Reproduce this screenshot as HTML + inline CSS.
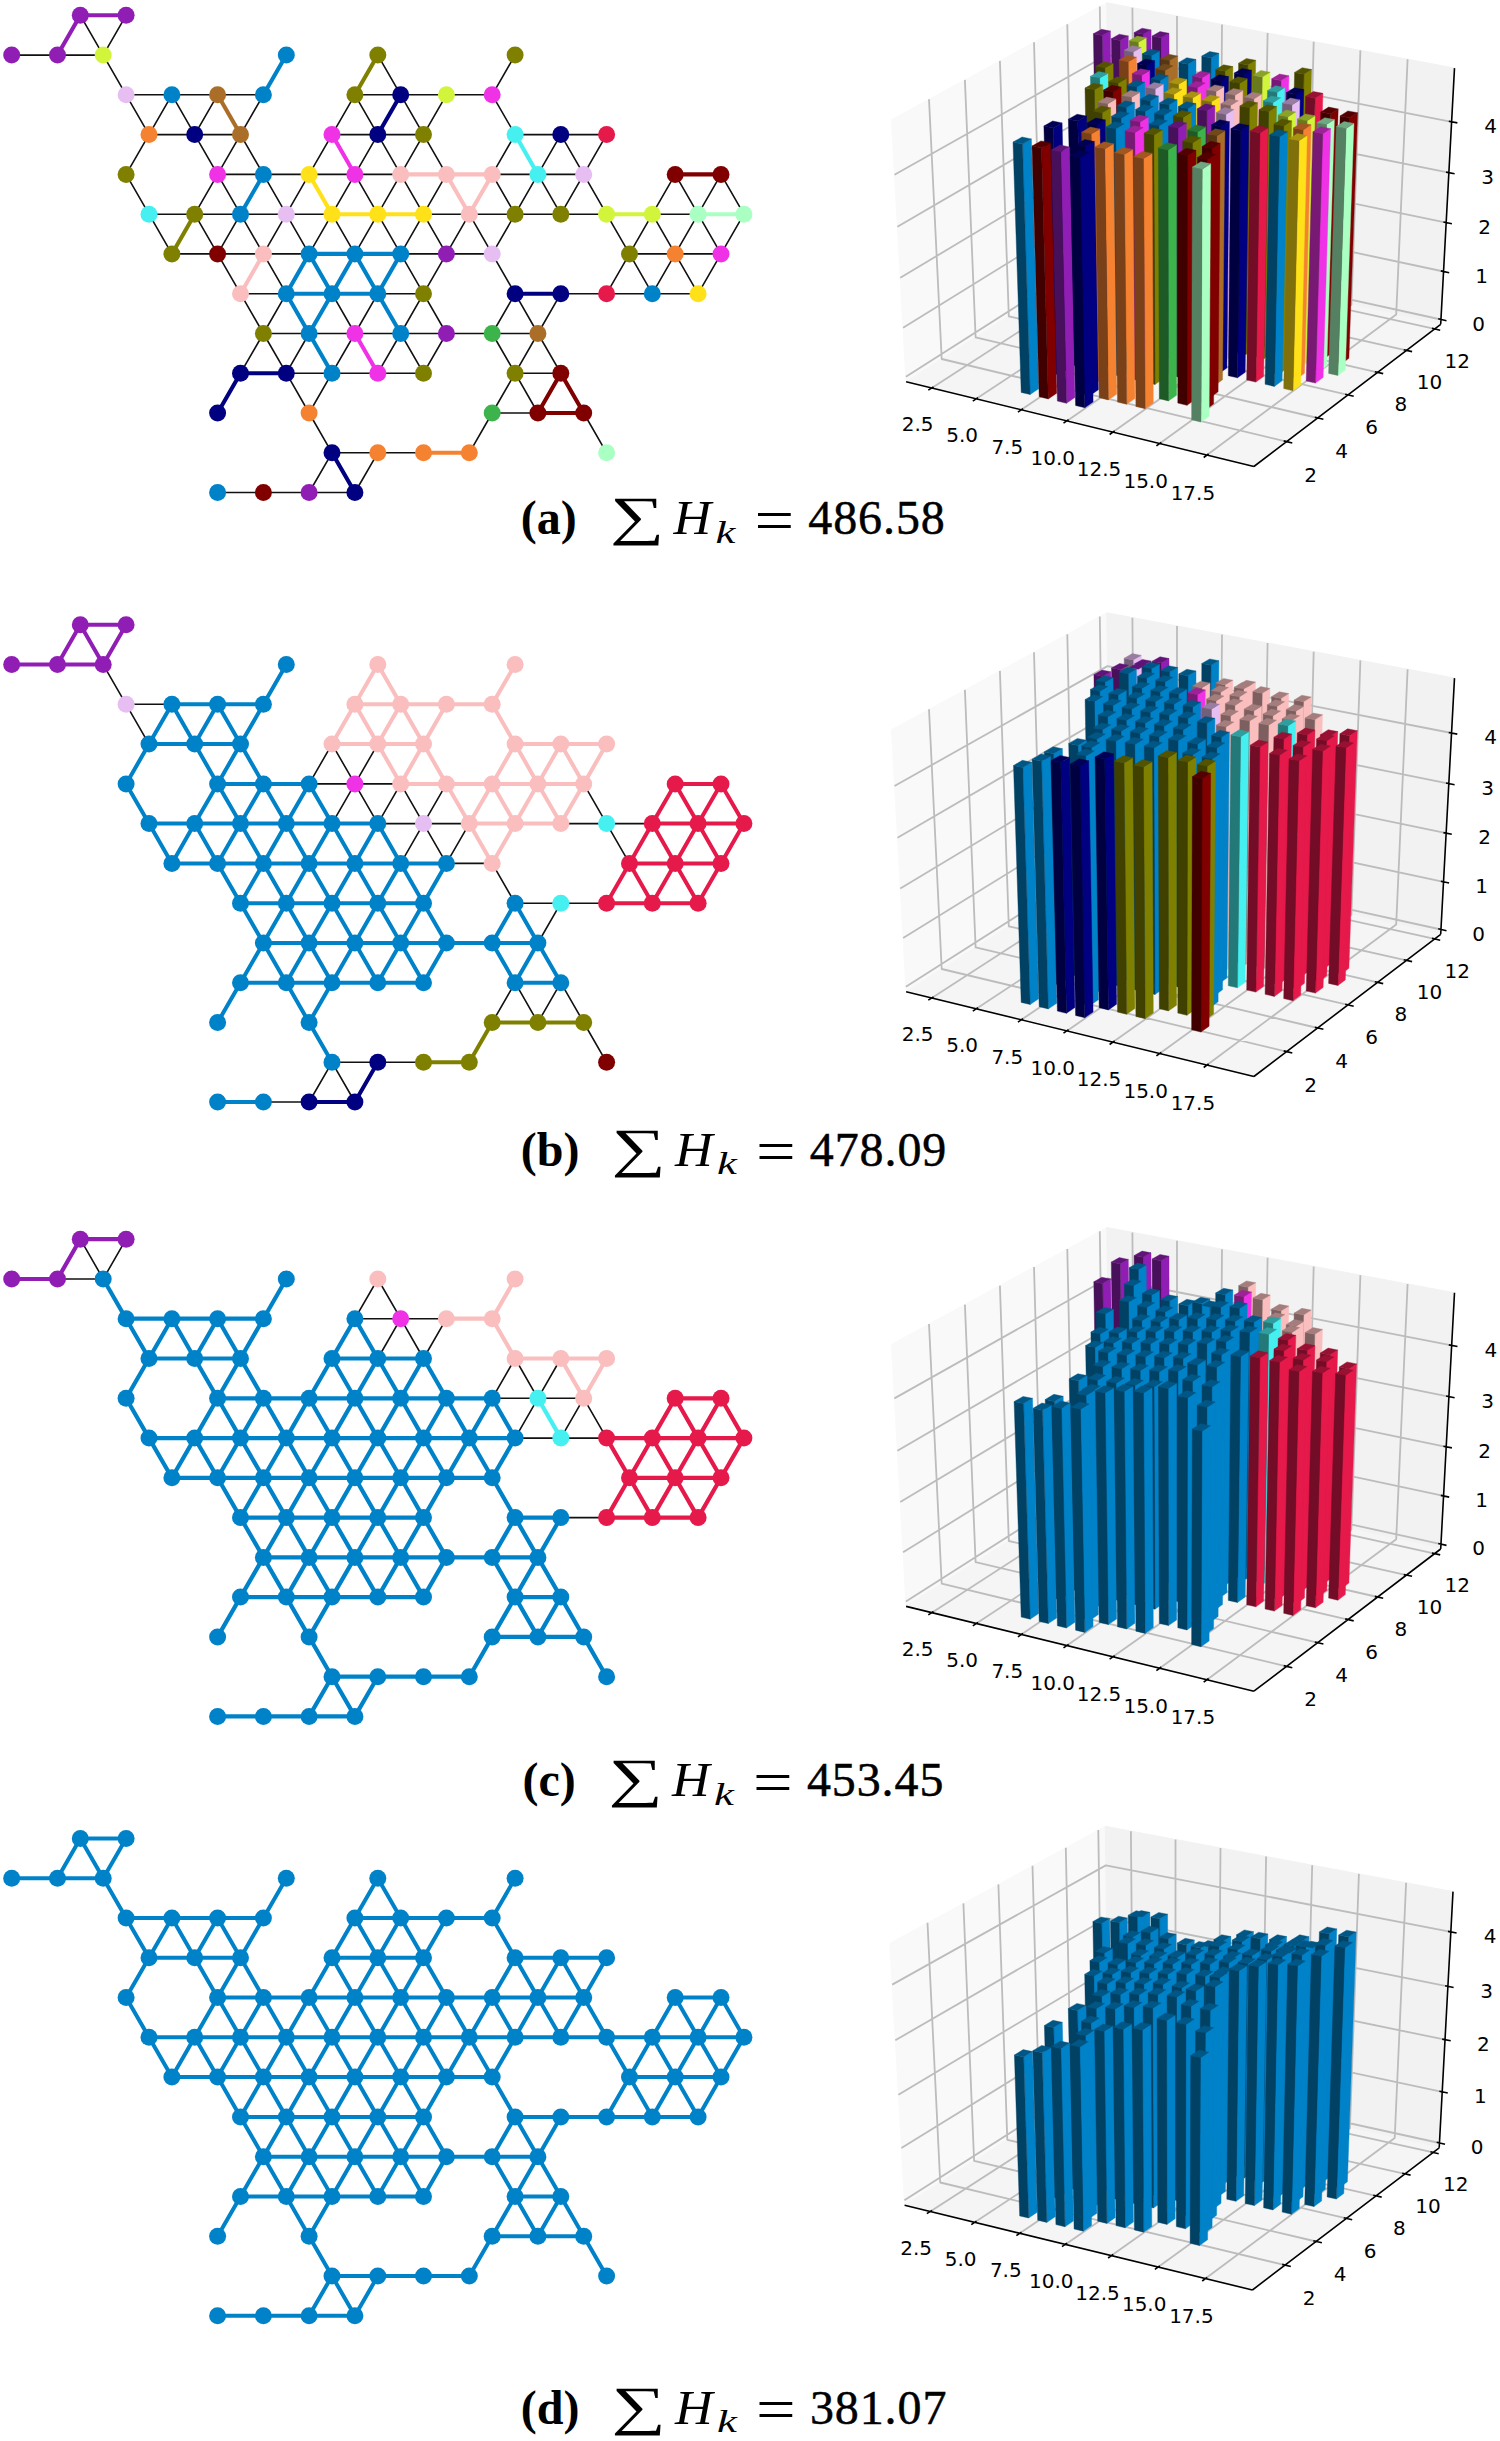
<!DOCTYPE html>
    <html><head><meta charset="utf-8"><title>Figure</title>
    <style>html,body{margin:0;padding:0;background:#fff}svg{display:block}</style></head>
    <body>
    <svg width="1500" height="2441" viewBox="0 0 1500 2441">
    <rect width="1500" height="2441" fill="#fff"/>
    <g id="lat0"><path d="M80.3 15.3L103.2 55.1M126.1 15.3L103.2 55.1M11.7 55.1L57.5 55.1M57.5 55.1L103.2 55.1M103.2 55.1L126.1 94.8M377.8 55.1L400.7 94.8M515.1 55.1L492.2 94.8M126.1 94.8L171.9 94.8M126.1 94.8L149 134.6M171.9 94.8L217.6 94.8M171.9 94.8L149 134.6M171.9 94.8L194.7 134.6M217.6 94.8L263.4 94.8M217.6 94.8L194.7 134.6M263.4 94.8L240.5 134.6M354.9 94.8L400.7 94.8M354.9 94.8L332 134.6M354.9 94.8L377.8 134.6M400.7 94.8L446.4 94.8M400.7 94.8L423.5 134.6M446.4 94.8L492.2 94.8M446.4 94.8L423.5 134.6M492.2 94.8L515.1 134.6M149 134.6L194.7 134.6M149 134.6L126.1 174.4M194.7 134.6L240.5 134.6M194.7 134.6L217.6 174.4M240.5 134.6L217.6 174.4M240.5 134.6L263.4 174.4M332 134.6L377.8 134.6M332 134.6L309.1 174.4M377.8 134.6L423.5 134.6M377.8 134.6L354.9 174.4M377.8 134.6L400.7 174.4M423.5 134.6L400.7 174.4M423.5 134.6L446.4 174.4M515.1 134.6L560.8 134.6M515.1 134.6L492.2 174.4M560.8 134.6L606.6 134.6M560.8 134.6L537.9 174.4M560.8 134.6L583.7 174.4M606.6 134.6L583.7 174.4M126.1 174.4L149 214.2M217.6 174.4L263.4 174.4M217.6 174.4L194.7 214.2M217.6 174.4L240.5 214.2M263.4 174.4L309.1 174.4M263.4 174.4L286.3 214.2M309.1 174.4L354.9 174.4M309.1 174.4L286.3 214.2M354.9 174.4L400.7 174.4M354.9 174.4L332 214.2M354.9 174.4L377.8 214.2M400.7 174.4L377.8 214.2M400.7 174.4L423.5 214.2M446.4 174.4L423.5 214.2M492.2 174.4L537.9 174.4M492.2 174.4L515.1 214.2M537.9 174.4L583.7 174.4M537.9 174.4L515.1 214.2M537.9 174.4L560.8 214.2M583.7 174.4L560.8 214.2M583.7 174.4L606.6 214.2M675.2 174.4L652.3 214.2M675.2 174.4L698.1 214.2M721 174.4L698.1 214.2M721 174.4L743.9 214.2M149 214.2L194.7 214.2M149 214.2L171.9 253.9M194.7 214.2L240.5 214.2M194.7 214.2L217.6 253.9M240.5 214.2L286.3 214.2M240.5 214.2L217.6 253.9M240.5 214.2L263.4 253.9M286.3 214.2L332 214.2M286.3 214.2L263.4 253.9M286.3 214.2L309.1 253.9M332 214.2L309.1 253.9M332 214.2L354.9 253.9M377.8 214.2L354.9 253.9M377.8 214.2L400.7 253.9M423.5 214.2L469.3 214.2M423.5 214.2L400.7 253.9M423.5 214.2L446.4 253.9M469.3 214.2L515.1 214.2M469.3 214.2L446.4 253.9M469.3 214.2L492.2 253.9M515.1 214.2L560.8 214.2M515.1 214.2L492.2 253.9M560.8 214.2L606.6 214.2M606.6 214.2L629.5 253.9M652.3 214.2L698.1 214.2M652.3 214.2L629.5 253.9M652.3 214.2L675.2 253.9M698.1 214.2L675.2 253.9M698.1 214.2L721 253.9M743.9 214.2L721 253.9M171.9 253.9L217.6 253.9M217.6 253.9L263.4 253.9M217.6 253.9L240.5 293.7M263.4 253.9L309.1 253.9M263.4 253.9L286.3 293.7M400.7 253.9L446.4 253.9M400.7 253.9L423.5 293.7M446.4 253.9L492.2 253.9M446.4 253.9L423.5 293.7M492.2 253.9L515.1 293.7M629.5 253.9L675.2 253.9M629.5 253.9L606.6 293.7M629.5 253.9L652.3 293.7M675.2 253.9L721 253.9M675.2 253.9L652.3 293.7M675.2 253.9L698.1 293.7M721 253.9L698.1 293.7M240.5 293.7L286.3 293.7M240.5 293.7L263.4 333.5M286.3 293.7L263.4 333.5M332 293.7L354.9 333.5M377.8 293.7L423.5 293.7M377.8 293.7L354.9 333.5M423.5 293.7L400.7 333.5M423.5 293.7L446.4 333.5M515.1 293.7L492.2 333.5M515.1 293.7L537.9 333.5M560.8 293.7L606.6 293.7M560.8 293.7L537.9 333.5M606.6 293.7L652.3 293.7M652.3 293.7L698.1 293.7M263.4 333.5L309.1 333.5M263.4 333.5L240.5 373.2M263.4 333.5L286.3 373.2M309.1 333.5L354.9 333.5M309.1 333.5L286.3 373.2M354.9 333.5L400.7 333.5M354.9 333.5L332 373.2M400.7 333.5L446.4 333.5M400.7 333.5L377.8 373.2M400.7 333.5L423.5 373.2M446.4 333.5L492.2 333.5M446.4 333.5L423.5 373.2M492.2 333.5L537.9 333.5M492.2 333.5L515.1 373.2M537.9 333.5L515.1 373.2M537.9 333.5L560.8 373.2M286.3 373.2L332 373.2M286.3 373.2L309.1 413M332 373.2L377.8 373.2M332 373.2L309.1 413M377.8 373.2L423.5 373.2M515.1 373.2L560.8 373.2M515.1 373.2L492.2 413M515.1 373.2L537.9 413M309.1 413L332 452.8M492.2 413L537.9 413M492.2 413L469.3 452.8M583.7 413L606.6 452.8M332 452.8L377.8 452.8M332 452.8L309.1 492.5M377.8 452.8L423.5 452.8M377.8 452.8L354.9 492.5M217.6 492.5L263.4 492.5M263.4 492.5L309.1 492.5M309.1 492.5L354.9 492.5" stroke="#111" stroke-width="1.6" fill="none"/>
<path d="M80.3 15.3L126.1 15.3M80.3 15.3L57.5 55.1" stroke="#911eb4" stroke-width="4.1" fill="none"/>
<path d="M286.3 55.1L263.4 94.8M263.4 174.4L240.5 214.2M309.1 253.9L354.9 253.9M309.1 253.9L286.3 293.7M309.1 253.9L332 293.7M354.9 253.9L400.7 253.9M354.9 253.9L332 293.7M354.9 253.9L377.8 293.7M400.7 253.9L377.8 293.7M286.3 293.7L332 293.7M286.3 293.7L309.1 333.5M332 293.7L377.8 293.7M332 293.7L309.1 333.5M377.8 293.7L400.7 333.5M309.1 333.5L332 373.2" stroke="#0082c8" stroke-width="4.1" fill="none"/>
<path d="M377.8 55.1L354.9 94.8M194.7 214.2L171.9 253.9" stroke="#808000" stroke-width="4.1" fill="none"/>
<path d="M217.6 94.8L240.5 134.6" stroke="#aa6e28" stroke-width="4.1" fill="none"/>
<path d="M400.7 94.8L377.8 134.6M515.1 293.7L560.8 293.7M240.5 373.2L286.3 373.2M240.5 373.2L217.6 413M332 452.8L354.9 492.5" stroke="#000080" stroke-width="4.1" fill="none"/>
<path d="M332 134.6L354.9 174.4M354.9 333.5L377.8 373.2" stroke="#f032e6" stroke-width="4.1" fill="none"/>
<path d="M515.1 134.6L537.9 174.4" stroke="#46f0f0" stroke-width="4.1" fill="none"/>
<path d="M309.1 174.4L332 214.2M332 214.2L377.8 214.2M377.8 214.2L423.5 214.2" stroke="#ffe119" stroke-width="4.1" fill="none"/>
<path d="M400.7 174.4L446.4 174.4M446.4 174.4L492.2 174.4M446.4 174.4L469.3 214.2M492.2 174.4L469.3 214.2M263.4 253.9L240.5 293.7" stroke="#fabebe" stroke-width="4.1" fill="none"/>
<path d="M675.2 174.4L721 174.4M560.8 373.2L537.9 413M560.8 373.2L583.7 413M537.9 413L583.7 413" stroke="#800000" stroke-width="4.1" fill="none"/>
<path d="M606.6 214.2L652.3 214.2" stroke="#d2f53c" stroke-width="4.1" fill="none"/>
<path d="M698.1 214.2L743.9 214.2" stroke="#aaffc3" stroke-width="4.1" fill="none"/>
<path d="M423.5 452.8L469.3 452.8" stroke="#f58231" stroke-width="4.1" fill="none"/>
<g fill="#911eb4"><circle cx="80.3" cy="15.3" r="8.5"/><circle cx="126.1" cy="15.3" r="8.5"/><circle cx="11.7" cy="55.1" r="8.5"/><circle cx="57.5" cy="55.1" r="8.5"/><circle cx="446.4" cy="253.9" r="8.5"/><circle cx="446.4" cy="333.5" r="8.5"/><circle cx="309.1" cy="492.5" r="8.5"/></g>
<g fill="#d2f53c"><circle cx="103.2" cy="55.1" r="8.5"/><circle cx="446.4" cy="94.8" r="8.5"/><circle cx="606.6" cy="214.2" r="8.5"/><circle cx="652.3" cy="214.2" r="8.5"/></g>
<g fill="#0082c8"><circle cx="286.3" cy="55.1" r="8.5"/><circle cx="171.9" cy="94.8" r="8.5"/><circle cx="263.4" cy="94.8" r="8.5"/><circle cx="263.4" cy="174.4" r="8.5"/><circle cx="240.5" cy="214.2" r="8.5"/><circle cx="309.1" cy="253.9" r="8.5"/><circle cx="354.9" cy="253.9" r="8.5"/><circle cx="400.7" cy="253.9" r="8.5"/><circle cx="286.3" cy="293.7" r="8.5"/><circle cx="332" cy="293.7" r="8.5"/><circle cx="377.8" cy="293.7" r="8.5"/><circle cx="652.3" cy="293.7" r="8.5"/><circle cx="309.1" cy="333.5" r="8.5"/><circle cx="400.7" cy="333.5" r="8.5"/><circle cx="332" cy="373.2" r="8.5"/><circle cx="217.6" cy="492.5" r="8.5"/></g>
<g fill="#808000"><circle cx="377.8" cy="55.1" r="8.5"/><circle cx="515.1" cy="55.1" r="8.5"/><circle cx="354.9" cy="94.8" r="8.5"/><circle cx="423.5" cy="134.6" r="8.5"/><circle cx="126.1" cy="174.4" r="8.5"/><circle cx="194.7" cy="214.2" r="8.5"/><circle cx="515.1" cy="214.2" r="8.5"/><circle cx="560.8" cy="214.2" r="8.5"/><circle cx="171.9" cy="253.9" r="8.5"/><circle cx="629.5" cy="253.9" r="8.5"/><circle cx="423.5" cy="293.7" r="8.5"/><circle cx="263.4" cy="333.5" r="8.5"/><circle cx="423.5" cy="373.2" r="8.5"/><circle cx="515.1" cy="373.2" r="8.5"/></g>
<g fill="#e6bef2"><circle cx="126.1" cy="94.8" r="8.5"/><circle cx="583.7" cy="174.4" r="8.5"/><circle cx="286.3" cy="214.2" r="8.5"/><circle cx="492.2" cy="253.9" r="8.5"/></g>
<g fill="#aa6e28"><circle cx="217.6" cy="94.8" r="8.5"/><circle cx="240.5" cy="134.6" r="8.5"/><circle cx="537.9" cy="333.5" r="8.5"/></g>
<g fill="#000080"><circle cx="400.7" cy="94.8" r="8.5"/><circle cx="194.7" cy="134.6" r="8.5"/><circle cx="377.8" cy="134.6" r="8.5"/><circle cx="560.8" cy="134.6" r="8.5"/><circle cx="515.1" cy="293.7" r="8.5"/><circle cx="560.8" cy="293.7" r="8.5"/><circle cx="240.5" cy="373.2" r="8.5"/><circle cx="286.3" cy="373.2" r="8.5"/><circle cx="217.6" cy="413" r="8.5"/><circle cx="332" cy="452.8" r="8.5"/><circle cx="354.9" cy="492.5" r="8.5"/></g>
<g fill="#f032e6"><circle cx="492.2" cy="94.8" r="8.5"/><circle cx="332" cy="134.6" r="8.5"/><circle cx="217.6" cy="174.4" r="8.5"/><circle cx="354.9" cy="174.4" r="8.5"/><circle cx="721" cy="253.9" r="8.5"/><circle cx="354.9" cy="333.5" r="8.5"/><circle cx="377.8" cy="373.2" r="8.5"/></g>
<g fill="#f58231"><circle cx="149" cy="134.6" r="8.5"/><circle cx="675.2" cy="253.9" r="8.5"/><circle cx="309.1" cy="413" r="8.5"/><circle cx="377.8" cy="452.8" r="8.5"/><circle cx="423.5" cy="452.8" r="8.5"/><circle cx="469.3" cy="452.8" r="8.5"/></g>
<g fill="#46f0f0"><circle cx="515.1" cy="134.6" r="8.5"/><circle cx="537.9" cy="174.4" r="8.5"/><circle cx="149" cy="214.2" r="8.5"/></g>
<g fill="#e6194b"><circle cx="606.6" cy="134.6" r="8.5"/><circle cx="606.6" cy="293.7" r="8.5"/></g>
<g fill="#ffe119"><circle cx="309.1" cy="174.4" r="8.5"/><circle cx="332" cy="214.2" r="8.5"/><circle cx="377.8" cy="214.2" r="8.5"/><circle cx="423.5" cy="214.2" r="8.5"/><circle cx="698.1" cy="293.7" r="8.5"/></g>
<g fill="#fabebe"><circle cx="400.7" cy="174.4" r="8.5"/><circle cx="446.4" cy="174.4" r="8.5"/><circle cx="492.2" cy="174.4" r="8.5"/><circle cx="469.3" cy="214.2" r="8.5"/><circle cx="263.4" cy="253.9" r="8.5"/><circle cx="240.5" cy="293.7" r="8.5"/></g>
<g fill="#800000"><circle cx="675.2" cy="174.4" r="8.5"/><circle cx="721" cy="174.4" r="8.5"/><circle cx="217.6" cy="253.9" r="8.5"/><circle cx="560.8" cy="373.2" r="8.5"/><circle cx="537.9" cy="413" r="8.5"/><circle cx="583.7" cy="413" r="8.5"/><circle cx="263.4" cy="492.5" r="8.5"/></g>
<g fill="#aaffc3"><circle cx="698.1" cy="214.2" r="8.5"/><circle cx="743.9" cy="214.2" r="8.5"/><circle cx="606.6" cy="452.8" r="8.5"/></g>
<g fill="#3cb44b"><circle cx="492.2" cy="333.5" r="8.5"/><circle cx="492.2" cy="413" r="8.5"/></g></g>
<g id="ch0"><path d="M906.1 381.7L1110.2 251.6L1106.8 2.8L891.4 119.8Z" fill="#f9f9f9" stroke="#f9f9f9" stroke-width="1"/>
<path d="M1110.2 251.6L1440.7 324.3L1454.5 68.1L1106.8 2.8Z" fill="#f2f2f2" stroke="#f2f2f2" stroke-width="1"/>
<path d="M906.1 381.7L1253.9 466.5L1440.7 324.3L1110.2 251.6Z" fill="#f5f5f5" stroke="#f5f5f5" stroke-width="1"/>
<path d="M931.8 388L1134.6 256.9L1132.4 7.7M976.3 398.8L1177 266.3L1177 16M1021.3 409.8L1219.9 275.7L1222 24.5M1066.9 420.9L1263.2 285.3L1267.6 33M1113 432.1L1307.1 294.9L1313.7 41.7M1159.7 443.5L1351.4 304.7L1360.4 50.4M1207 455L1396.2 314.5L1407.6 59.3M1286.5 441.6L941.7 359L929 99.3M1317.7 418L975.6 337.4L964.9 79.9M1348 394.9L1008.8 316.3L999.9 60.9M1377.6 372.3L1041.1 295.6L1034 42.3M1406.5 350.4L1072.7 275.5L1067.3 24.3M1434.7 328.9L1103.5 255.8L1099.8 6.6M905.9 376.7L1110.1 246.8L1441 319.5M903.1 327.8L1109.5 200.2L1443.6 271.5M900.3 277.8L1108.8 152.7L1446.2 222.6M897.4 226.8L1108.2 104.2L1448.9 172.7M894.5 174.7L1107.5 54.8L1451.7 121.8" fill="none" stroke="#bcbcbc" stroke-width="1.8" stroke-linejoin="round"/>
<path d="M906.1 381.7L1253.9 466.5M1253.9 466.5L1440.7 324.3M1440.7 324.3L1454.5 68.1M928.3 390.2L933.5 386.8M972.8 401.1L978 397.7M1017.9 412.1L1023 408.6M1063.5 423.2L1068.6 419.7M1109.6 434.5L1114.7 430.9M1156.4 445.9L1161.3 442.3M1203.7 457.5L1208.6 453.8M1292.3 443L1283.7 440.9M1323.4 419.3L1314.8 417.3M1353.7 396.2L1345.2 394.2M1383.2 373.6L1374.8 371.7M1412.1 351.6L1403.7 349.8M1440.2 330.2L1431.9 328.3M1446.5 320.7L1438.2 318.8M1449.2 272.7L1440.8 270.9M1451.9 223.7L1443.4 222M1454.6 173.8L1446.1 172.1M1457.4 122.9L1448.8 121.2" fill="none" stroke="#000" stroke-width="1.6"/>
<path d="M1143.1 34.3L1151.1 29.9L1152.3 266.5L1144.7 271.5Z" fill="#911eb4" stroke="#911eb4" stroke-width=".4"/>
<path d="M1134.2 32.6L1143.1 34.3L1144.7 271.5L1136.2 269.6Z" fill="#480f5a" stroke="#480f5a" stroke-width=".4"/>
<path d="M1102.3 35.5L1110.4 31L1113.5 269.4L1105.8 274.4ZM1161.1 37.8L1169 33.3L1169.4 270.3L1161.8 275.3Z" fill="#911eb4" stroke="#911eb4" stroke-width=".4"/>
<path d="M1093.4 33.7L1102.3 35.5L1105.8 274.4L1097.3 272.5ZM1152.1 36.1L1161.1 37.8L1161.8 275.3L1153.2 273.4Z" fill="#480f5a" stroke="#480f5a" stroke-width=".4"/>
<path d="M1120.2 40.4L1128.3 35.9L1130.6 273.2L1122.9 278.2Z" fill="#911eb4" stroke="#911eb4" stroke-width=".4"/>
<path d="M1111.3 38.7L1120.2 40.4L1122.9 278.2L1114.3 276.3Z" fill="#480f5a" stroke="#480f5a" stroke-width=".4"/>
<path d="M1138.2 42.3L1146.2 37.8L1147.7 277L1140 282.1Z" fill="#d2f53c" stroke="#d2f53c" stroke-width=".4"/>
<path d="M1129.2 40.6L1138.2 42.3L1140 282.1L1131.5 280.1Z" fill="#697a1e" stroke="#697a1e" stroke-width=".4"/>
<path d="M1133.2 52L1141.3 47.4L1143 287.7L1135.3 292.8Z" fill="#e6bef2" stroke="#e6bef2" stroke-width=".4"/>
<path d="M1124.2 50.3L1133.2 52L1135.3 292.8L1126.7 290.8Z" fill="#735f79" stroke="#735f79" stroke-width=".4"/>
<path d="M1151.4 55.5L1159.5 50.9L1160.3 291.5L1152.7 296.7ZM1211 57.9L1218.9 53.3L1216.9 292.4L1209.4 297.5Z" fill="#0082c8" stroke="#0082c8" stroke-width=".4"/>
<path d="M1142.3 53.8L1151.4 55.5L1152.7 296.7L1144 294.7ZM1201.8 56.1L1211 57.9L1209.4 297.5L1200.7 295.6Z" fill="#004164" stroke="#004164" stroke-width=".4"/>
<path d="M1169.7 60.6L1177.7 56L1177.7 295.4L1170.1 300.6Z" fill="#aa6e28" stroke="#aa6e28" stroke-width=".4"/>
<path d="M1160.5 58.8L1169.7 60.6L1170.1 300.6L1161.3 298.6Z" fill="#553714" stroke="#553714" stroke-width=".4"/>
<path d="M1128.2 61.8L1136.4 57.2L1138.3 298.5L1130.6 303.6Z" fill="#f58231" stroke="#f58231" stroke-width=".4"/>
<path d="M1188 64.2L1196 59.5L1195.2 299.3L1187.6 304.5Z" fill="#0082c8" stroke="#0082c8" stroke-width=".4"/>
<path d="M1247.9 65L1255.7 60.3L1252 300.2L1244.6 305.4Z" fill="#808000" stroke="#808000" stroke-width=".4"/>
<path d="M1119.1 60L1128.2 61.8L1130.6 303.6L1121.9 301.6Z" fill="#7a4118" stroke="#7a4118" stroke-width=".4"/>
<path d="M1178.8 62.4L1188 64.2L1187.6 304.5L1178.8 302.5Z" fill="#004164" stroke="#004164" stroke-width=".4"/>
<path d="M1238.6 63.2L1247.9 65L1244.6 305.4L1235.8 303.4Z" fill="#404000" stroke="#404000" stroke-width=".4"/>
<path d="M1146.5 65.4L1154.6 60.7L1155.7 302.4L1148 307.5Z" fill="#000080" stroke="#000080" stroke-width=".4"/>
<path d="M1137.4 63.6L1146.5 65.4L1148 307.5L1139.3 305.6Z" fill="#000040" stroke="#000040" stroke-width=".4"/>
<path d="M1142.1 28.2L1151.1 29.9L1143.1 34.3L1134.2 32.6Z" fill="#601477" stroke="#601477" stroke-width=".4"/>
<path d="M1104.8 68.1L1113.1 63.4L1116.1 305.4L1108.3 310.6Z" fill="#808000" stroke="#808000" stroke-width=".4"/>
<path d="M1164.9 70.5L1173 65.8L1173.2 306.3L1165.5 311.5Z" fill="#aa6e28" stroke="#aa6e28" stroke-width=".4"/>
<path d="M1225 71.3L1232.9 66.6L1230.3 307.2L1222.8 312.4Z" fill="#808000" stroke="#808000" stroke-width=".4"/>
<path d="M1095.7 66.3L1104.8 68.1L1108.3 310.6L1099.6 308.6Z" fill="#404000" stroke="#404000" stroke-width=".4"/>
<path d="M1101.5 29.3L1110.4 31L1102.3 35.5L1093.4 33.7Z" fill="#601477" stroke="#601477" stroke-width=".4"/>
<path d="M1155.7 68.7L1164.9 70.5L1165.5 311.5L1156.7 309.5Z" fill="#553714" stroke="#553714" stroke-width=".4"/>
<path d="M1160 31.6L1169 33.3L1161.1 37.8L1152.1 36.1Z" fill="#601477" stroke="#601477" stroke-width=".4"/>
<path d="M1215.7 69.5L1225 71.3L1222.8 312.4L1213.9 310.4Z" fill="#404000" stroke="#404000" stroke-width=".4"/>
<path d="M1243.6 74.9L1251.5 70.2L1248 311.2L1240.5 316.4Z" fill="#000080" stroke="#000080" stroke-width=".4"/>
<path d="M1119.3 34.2L1128.3 35.9L1120.2 40.4L1111.3 38.7Z" fill="#601477" stroke="#601477" stroke-width=".4"/>
<path d="M1304 74.2L1311.6 69.5L1305.3 312.1L1298 317.3Z" fill="#808000" stroke="#808000" stroke-width=".4"/>
<path d="M1234.3 73.1L1243.6 74.9L1240.5 316.4L1231.6 314.4Z" fill="#000040" stroke="#000040" stroke-width=".4"/>
<path d="M1141.5 75.3L1149.7 70.6L1151 313.3L1143.3 318.6Z" fill="#f032e6" stroke="#f032e6" stroke-width=".4"/>
<path d="M1294.6 72.4L1304 74.2L1298 317.3L1289 315.3Z" fill="#404000" stroke="#404000" stroke-width=".4"/>
<path d="M1201.9 77.7L1209.9 73L1208.4 314.2L1200.7 319.5Z" fill="#f032e6" stroke="#f032e6" stroke-width=".4"/>
<path d="M1132.3 73.5L1141.5 75.3L1143.3 318.6L1134.5 316.6Z" fill="#781973" stroke="#781973" stroke-width=".4"/>
<path d="M1262.3 77L1270.1 72.2L1265.8 315.2L1258.3 320.4Z" fill="#d2f53c" stroke="#d2f53c" stroke-width=".4"/>
<path d="M1137.2 36.1L1146.2 37.8L1138.2 42.3L1129.2 40.6Z" fill="#8ba228" stroke="#8ba228" stroke-width=".4"/>
<path d="M1192.6 75.9L1201.9 77.7L1200.7 319.5L1191.9 317.5Z" fill="#781973" stroke="#781973" stroke-width=".4"/>
<path d="M1099.6 78.1L1107.9 73.4L1111.2 316.4L1103.3 321.7Z" fill="#46f0f0" stroke="#46f0f0" stroke-width=".4"/>
<path d="M1253 75.2L1262.3 77L1258.3 320.4L1249.4 318.4Z" fill="#697a1e" stroke="#697a1e" stroke-width=".4"/>
<path d="M1160 80.5L1168.2 75.8L1168.6 317.3L1160.9 322.6Z" fill="#0082c8" stroke="#0082c8" stroke-width=".4"/>
<path d="M1220.5 81.4L1228.5 76.6L1226.1 318.2L1218.5 323.5Z" fill="#000080" stroke="#000080" stroke-width=".4"/>
<path d="M1090.4 76.3L1099.6 78.1L1103.3 321.7L1094.5 319.7Z" fill="#237878" stroke="#237878" stroke-width=".4"/>
<path d="M1150.8 78.7L1160 80.5L1160.9 322.6L1152 320.6Z" fill="#004164" stroke="#004164" stroke-width=".4"/>
<path d="M1281.1 80.6L1288.9 75.8L1283.6 319.2L1276.2 324.4Z" fill="#f032e6" stroke="#f032e6" stroke-width=".4"/>
<path d="M1211.2 79.5L1220.5 81.4L1218.5 323.5L1209.6 321.5Z" fill="#000040" stroke="#000040" stroke-width=".4"/>
<path d="M1118 83.3L1126.3 78.6L1128.7 320.4L1120.8 325.7Z" fill="#808000" stroke="#808000" stroke-width=".4"/>
<path d="M1271.7 78.8L1281.1 80.6L1276.2 324.4L1267.2 322.4Z" fill="#781973" stroke="#781973" stroke-width=".4"/>
<path d="M1178.6 84.2L1186.7 79.4L1186.3 321.3L1178.5 326.6Z" fill="#ffe119" stroke="#ffe119" stroke-width=".4"/>
<path d="M1108.8 81.5L1118 83.3L1120.8 325.7L1112 323.7Z" fill="#404000" stroke="#404000" stroke-width=".4"/>
<path d="M1239.3 83.4L1247.2 78.7L1243.9 322.3L1236.3 327.5Z" fill="#808000" stroke="#808000" stroke-width=".4"/>
<path d="M1169.3 82.4L1178.6 84.2L1178.5 326.6L1169.7 324.6Z" fill="#80700c" stroke="#80700c" stroke-width=".4"/>
<path d="M1229.9 81.6L1239.3 83.4L1236.3 327.5L1227.4 325.5Z" fill="#404000" stroke="#404000" stroke-width=".4"/>
<path d="M1136.5 87L1144.8 82.2L1146.3 324.4L1138.5 329.7Z" fill="#0082c8" stroke="#0082c8" stroke-width=".4"/>
<path d="M1197.2 87.8L1205.3 83L1204 325.4L1196.3 330.7Z" fill="#f032e6" stroke="#f032e6" stroke-width=".4"/>
<path d="M1127.2 85.2L1136.5 87L1138.5 329.7L1129.6 327.7Z" fill="#004164" stroke="#004164" stroke-width=".4"/>
<path d="M1132.3 45.7L1141.3 47.4L1133.2 52L1124.2 50.3Z" fill="#987da0" stroke="#987da0" stroke-width=".4"/>
<path d="M1187.9 86L1197.2 87.8L1196.3 330.7L1187.4 328.6Z" fill="#781973" stroke="#781973" stroke-width=".4"/>
<path d="M1094.3 89.8L1102.7 85L1106.2 327.6L1098.2 332.9Z" fill="#808000" stroke="#808000" stroke-width=".4"/>
<path d="M1155.1 89.1L1163.3 84.3L1164 328.5L1156.2 333.8Z" fill="#e6bef2" stroke="#e6bef2" stroke-width=".4"/>
<path d="M1085 88L1094.3 89.8L1098.2 332.9L1089.4 330.9Z" fill="#404000" stroke="#404000" stroke-width=".4"/>
<path d="M1216 91.5L1224 86.7L1221.8 329.4L1214.2 334.7Z" fill="#fabebe" stroke="#fabebe" stroke-width=".4"/>
<path d="M1277 92.4L1284.8 87.5L1279.7 330.3L1272.2 335.7Z" fill="#46f0f0" stroke="#46f0f0" stroke-width=".4"/>
<path d="M1145.8 87.3L1155.1 89.1L1156.2 333.8L1147.3 331.8Z" fill="#735f79" stroke="#735f79" stroke-width=".4"/>
<path d="M1150.4 49.2L1159.5 50.9L1151.4 55.5L1142.3 53.8Z" fill="#005684" stroke="#005684" stroke-width=".4"/>
<path d="M1206.6 89.7L1216 91.5L1214.2 334.7L1205.2 332.7Z" fill="#7d5f5f" stroke="#7d5f5f" stroke-width=".4"/>
<path d="M1209.7 51.5L1218.9 53.3L1211 57.9L1201.8 56.1Z" fill="#005684" stroke="#005684" stroke-width=".4"/>
<path d="M1112.8 92L1121.1 87.1L1123.8 331.6L1115.9 337Z" fill="#800000" stroke="#800000" stroke-width=".4"/>
<path d="M1267.5 90.5L1277 92.4L1272.2 335.7L1263.2 333.6Z" fill="#237878" stroke="#237878" stroke-width=".4"/>
<path d="M1173.8 94.4L1182 89.5L1181.8 332.5L1174 337.9Z" fill="#ffe119" stroke="#ffe119" stroke-width=".4"/>
<path d="M1234.8 95.2L1242.8 90.4L1239.7 333.5L1232.1 338.8Z" fill="#fabebe" stroke="#fabebe" stroke-width=".4"/>
<path d="M1103.5 90.1L1112.8 92L1115.9 337L1107 334.9Z" fill="#400000" stroke="#400000" stroke-width=".4"/>
<path d="M1164.4 92.5L1173.8 94.4L1174 337.9L1165.1 335.9Z" fill="#80700c" stroke="#80700c" stroke-width=".4"/>
<path d="M1168.6 54.2L1177.7 56L1169.7 60.6L1160.5 58.8Z" fill="#70491a" stroke="#70491a" stroke-width=".4"/>
<path d="M1296 94.5L1303.8 89.6L1297.8 334.4L1290.3 339.8Z" fill="#000080" stroke="#000080" stroke-width=".4"/>
<path d="M1225.4 93.4L1234.8 95.2L1232.1 338.8L1223.1 336.8Z" fill="#7d5f5f" stroke="#7d5f5f" stroke-width=".4"/>
<path d="M1131.4 97.3L1139.7 92.4L1141.5 335.7L1133.6 341.1Z" fill="#fabebe" stroke="#fabebe" stroke-width=".4"/>
<path d="M1286.5 92.6L1296 94.5L1290.3 339.8L1281.3 337.7Z" fill="#000040" stroke="#000040" stroke-width=".4"/>
<path d="M1192.5 98.1L1200.7 93.2L1199.6 336.6L1191.8 342Z" fill="#ffe119" stroke="#ffe119" stroke-width=".4"/>
<path d="M1122.1 95.4L1131.4 97.3L1133.6 341.1L1124.7 339Z" fill="#7d5f5f" stroke="#7d5f5f" stroke-width=".4"/>
<path d="M1253.8 98.9L1261.7 94.1L1257.7 337.6L1250.1 342.9Z" fill="#fabebe" stroke="#fabebe" stroke-width=".4"/>
<path d="M1127.3 55.4L1136.4 57.2L1128.2 61.8L1119.1 60Z" fill="#a25620" stroke="#a25620" stroke-width=".4"/>
<path d="M1183.1 96.2L1192.5 98.1L1191.8 342L1182.9 339.9Z" fill="#80700c" stroke="#80700c" stroke-width=".4"/>
<path d="M1186.8 57.7L1196 59.5L1188 64.2L1178.8 62.4Z" fill="#005684" stroke="#005684" stroke-width=".4"/>
<path d="M1315.1 98.2L1322.9 93.3L1315.9 338.5L1308.5 343.9Z" fill="#e6194b" stroke="#e6194b" stroke-width=".4"/>
<path d="M1244.3 97.1L1253.8 98.9L1250.1 342.9L1241.1 340.9Z" fill="#7d5f5f" stroke="#7d5f5f" stroke-width=".4"/>
<path d="M1246.4 58.5L1255.7 60.3L1247.9 65L1238.6 63.2Z" fill="#545400" stroke="#545400" stroke-width=".4"/>
<path d="M1150.1 101L1158.4 96.1L1159.3 339.8L1151.4 345.2Z" fill="#0082c8" stroke="#0082c8" stroke-width=".4"/>
<path d="M1305.5 96.3L1315.1 98.2L1308.5 343.9L1299.4 341.8Z" fill="#730c26" stroke="#730c26" stroke-width=".4"/>
<path d="M1211.4 101.8L1219.5 96.9L1217.5 340.7L1209.8 346.1Z" fill="#ffe119" stroke="#ffe119" stroke-width=".4"/>
<path d="M1140.7 99.1L1150.1 101L1151.4 345.2L1142.5 343.1Z" fill="#004164" stroke="#004164" stroke-width=".4"/>
<path d="M1272.8 102.7L1280.7 97.8L1275.8 341.7L1268.2 347.1Z" fill="#46f0f0" stroke="#46f0f0" stroke-width=".4"/>
<path d="M1145.5 58.9L1154.6 60.7L1146.5 65.4L1137.4 63.6Z" fill="#000054" stroke="#000054" stroke-width=".4"/>
<path d="M1202 100L1211.4 101.8L1209.8 346.1L1200.8 344.1Z" fill="#80700c" stroke="#80700c" stroke-width=".4"/>
<path d="M1107.5 103.9L1115.9 99L1118.9 343L1110.9 348.4Z" fill="#fabebe" stroke="#fabebe" stroke-width=".4"/>
<path d="M1263.3 100.8L1272.8 102.7L1268.2 347.1L1259.2 345Z" fill="#237878" stroke="#237878" stroke-width=".4"/>
<path d="M1168.9 104.7L1177.1 99.8L1177.2 343.9L1169.3 349.3Z" fill="#0082c8" stroke="#0082c8" stroke-width=".4"/>
<path d="M1098.2 102L1107.5 103.9L1110.9 348.4L1102 346.3Z" fill="#7d5f5f" stroke="#7d5f5f" stroke-width=".4"/>
<path d="M1230.4 105.6L1238.4 100.7L1235.5 344.8L1227.8 350.3Z" fill="#fabebe" stroke="#fabebe" stroke-width=".4"/>
<path d="M1104 61.7L1113.1 63.4L1104.8 68.1L1095.7 66.3Z" fill="#545400" stroke="#545400" stroke-width=".4"/>
<path d="M1159.5 102.9L1168.9 104.7L1169.3 349.3L1160.4 347.2Z" fill="#004164" stroke="#004164" stroke-width=".4"/>
<path d="M1163.8 64L1173 65.8L1164.9 70.5L1155.7 68.7Z" fill="#70491a" stroke="#70491a" stroke-width=".4"/>
<path d="M1291.9 104.9L1299.8 99.9L1293.9 345.8L1286.4 351.2Z" fill="#e6bef2" stroke="#e6bef2" stroke-width=".4"/>
<path d="M1220.9 103.7L1230.4 105.6L1227.8 350.3L1218.8 348.2Z" fill="#7d5f5f" stroke="#7d5f5f" stroke-width=".4"/>
<path d="M1223.6 64.8L1232.9 66.6L1225 71.3L1215.7 69.5Z" fill="#545400" stroke="#545400" stroke-width=".4"/>
<path d="M1126.2 107.6L1134.6 102.7L1136.7 347.1L1128.7 352.5Z" fill="#0082c8" stroke="#0082c8" stroke-width=".4"/>
<path d="M1282.4 103L1291.9 104.9L1286.4 351.2L1277.3 349.1Z" fill="#735f79" stroke="#735f79" stroke-width=".4"/>
<path d="M1187.8 108.5L1196 103.6L1195.1 348L1187.3 353.5Z" fill="#0082c8" stroke="#0082c8" stroke-width=".4"/>
<path d="M1116.8 105.8L1126.2 107.6L1128.7 352.5L1119.8 350.4Z" fill="#004164" stroke="#004164" stroke-width=".4"/>
<path d="M1249.4 107.8L1257.5 102.8L1253.6 349L1246 354.4Z" fill="#808000" stroke="#808000" stroke-width=".4"/>
<path d="M1178.3 106.6L1187.8 108.5L1187.3 353.5L1178.3 351.4Z" fill="#004164" stroke="#004164" stroke-width=".4"/>
<path d="M1239.9 105.9L1249.4 107.8L1246 354.4L1236.9 352.3Z" fill="#404000" stroke="#404000" stroke-width=".4"/>
<path d="M1242.2 68.4L1251.5 70.2L1243.6 74.9L1234.3 73.1Z" fill="#000054" stroke="#000054" stroke-width=".4"/>
<path d="M1145 111.4L1153.4 106.5L1154.6 351.2L1146.6 356.7Z" fill="#0082c8" stroke="#0082c8" stroke-width=".4"/>
<path d="M1206.8 110.7L1214.9 105.7L1213.1 352.2L1205.4 357.7Z" fill="#911eb4" stroke="#911eb4" stroke-width=".4"/>
<path d="M1302.2 67.7L1311.6 69.5L1304 74.2L1294.6 72.4Z" fill="#545400" stroke="#545400" stroke-width=".4"/>
<path d="M1135.6 109.5L1145 111.4L1146.6 356.7L1137.6 354.6Z" fill="#004164" stroke="#004164" stroke-width=".4"/>
<path d="M1268.6 111.5L1276.6 106.6L1271.8 353.1L1264.2 358.6Z" fill="#808000" stroke="#808000" stroke-width=".4"/>
<path d="M1140.5 68.8L1149.7 70.6L1141.5 75.3L1132.3 73.5Z" fill="#9e2198" stroke="#9e2198" stroke-width=".4"/>
<path d="M1330.4 114L1338.2 109L1330.5 354.1L1323 359.6Z" fill="#800000" stroke="#800000" stroke-width=".4"/>
<path d="M1197.3 108.8L1206.8 110.7L1205.4 357.7L1196.3 355.6Z" fill="#480f5a" stroke="#480f5a" stroke-width=".4"/>
<path d="M1200.6 71.2L1209.9 73L1201.9 77.7L1192.6 75.9Z" fill="#9e2198" stroke="#9e2198" stroke-width=".4"/>
<path d="M1102.1 112.8L1110.6 107.8L1113.9 354.4L1105.8 359.9Z" fill="#808000" stroke="#808000" stroke-width=".4"/>
<path d="M1259 109.7L1268.6 111.5L1264.2 358.6L1255.1 356.5Z" fill="#404000" stroke="#404000" stroke-width=".4"/>
<path d="M1163.9 115.2L1172.3 110.2L1172.5 355.4L1164.6 360.9Z" fill="#0082c8" stroke="#0082c8" stroke-width=".4"/>
<path d="M1260.8 70.4L1270.1 72.2L1262.3 77L1253 75.2Z" fill="#8ba228" stroke="#8ba228" stroke-width=".4"/>
<path d="M1320.8 112.1L1330.4 114L1323 359.6L1313.9 357.5Z" fill="#400000" stroke="#400000" stroke-width=".4"/>
<path d="M1092.7 110.9L1102.1 112.8L1105.8 359.9L1096.8 357.8Z" fill="#404000" stroke="#404000" stroke-width=".4"/>
<path d="M1225.8 114.5L1234 109.5L1231.2 356.3L1223.5 361.8Z" fill="#e6bef2" stroke="#e6bef2" stroke-width=".4"/>
<path d="M1098.7 71.6L1107.9 73.4L1099.6 78.1L1090.4 76.3Z" fill="#2e9e9e" stroke="#2e9e9e" stroke-width=".4"/>
<path d="M1154.5 113.3L1163.9 115.2L1164.6 360.9L1155.6 358.8Z" fill="#004164" stroke="#004164" stroke-width=".4"/>
<path d="M1287.8 117L1295.7 112L1290 357.3L1282.5 362.8Z" fill="#d2f53c" stroke="#d2f53c" stroke-width=".4"/>
<path d="M1158.9 74L1168.2 75.8L1160 80.5L1150.8 78.7Z" fill="#005684" stroke="#005684" stroke-width=".4"/>
<path d="M1349.8 117.8L1357.6 112.8L1348.9 358.3L1341.5 363.8Z" fill="#800000" stroke="#800000" stroke-width=".4"/>
<path d="M1216.3 112.6L1225.8 114.5L1223.5 361.8L1214.4 359.7Z" fill="#735f79" stroke="#735f79" stroke-width=".4"/>
<path d="M1219.2 74.8L1228.5 76.6L1220.5 81.4L1211.2 79.5Z" fill="#000054" stroke="#000054" stroke-width=".4"/>
<path d="M1121 118.2L1129.4 113.2L1131.8 358.6L1123.7 364.1Z" fill="#0082c8" stroke="#0082c8" stroke-width=".4"/>
<path d="M1278.2 115L1287.8 117L1282.5 362.8L1273.3 360.7Z" fill="#697a1e" stroke="#697a1e" stroke-width=".4"/>
<path d="M1182.9 117.4L1191.2 112.4L1190.6 359.6L1182.7 365.1Z" fill="#808000" stroke="#808000" stroke-width=".4"/>
<path d="M1279.5 74L1288.9 75.8L1281.1 80.6L1271.7 78.8Z" fill="#9e2198" stroke="#9e2198" stroke-width=".4"/>
<path d="M1340.1 115.9L1349.8 117.8L1341.5 363.8L1332.3 361.7Z" fill="#400000" stroke="#400000" stroke-width=".4"/>
<path d="M1111.5 116.3L1121 118.2L1123.7 364.1L1114.7 362Z" fill="#004164" stroke="#004164" stroke-width=".4"/>
<path d="M1117.1 76.8L1126.3 78.6L1118 83.3L1108.8 81.5Z" fill="#545400" stroke="#545400" stroke-width=".4"/>
<path d="M1307.1 120.8L1315 115.8L1308.4 361.5L1300.8 367Z" fill="#d2f53c" stroke="#d2f53c" stroke-width=".4"/>
<path d="M1173.4 115.5L1182.9 117.4L1182.7 365.1L1173.6 363Z" fill="#404000" stroke="#404000" stroke-width=".4"/>
<path d="M1177.4 77.6L1186.7 79.4L1178.6 84.2L1169.3 82.4Z" fill="#a89410" stroke="#a89410" stroke-width=".4"/>
<path d="M1077.8 121.1L1086.5 116.1L1090.9 361.9L1082.7 367.4Z" fill="#000080" stroke="#000080" stroke-width=".4"/>
<path d="M1139.9 122L1148.3 117L1149.8 362.8L1141.7 368.4Z" fill="#f032e6" stroke="#f032e6" stroke-width=".4"/>
<path d="M1237.8 76.8L1247.2 78.7L1239.3 83.4L1229.9 81.6Z" fill="#545400" stroke="#545400" stroke-width=".4"/>
<path d="M1297.4 118.9L1307.1 120.8L1300.8 367L1291.6 364.9Z" fill="#697a1e" stroke="#697a1e" stroke-width=".4"/>
<path d="M1068.4 119.2L1077.8 121.1L1082.7 367.4L1073.7 365.3Z" fill="#000040" stroke="#000040" stroke-width=".4"/>
<path d="M1130.4 120.1L1139.9 122L1141.7 368.4L1132.7 366.2Z" fill="#781973" stroke="#781973" stroke-width=".4"/>
<path d="M1135.5 80.4L1144.8 82.2L1136.5 87L1127.2 85.2Z" fill="#005684" stroke="#005684" stroke-width=".4"/>
<path d="M1326.5 124.6L1334.4 119.6L1326.8 365.7L1319.3 371.3Z" fill="#aaffc3" stroke="#aaffc3" stroke-width=".4"/>
<path d="M1196 81.2L1205.3 83L1197.2 87.8L1187.9 86Z" fill="#9e2198" stroke="#9e2198" stroke-width=".4"/>
<path d="M1096.7 125L1105.3 119.9L1108.8 366.1L1100.6 371.6Z" fill="#000080" stroke="#000080" stroke-width=".4"/>
<path d="M1158.9 125.8L1167.3 120.8L1167.8 367L1159.8 372.6Z" fill="#0082c8" stroke="#0082c8" stroke-width=".4"/>
<path d="M1316.8 122.7L1326.5 124.6L1319.3 371.3L1310.1 369.1Z" fill="#558062" stroke="#558062" stroke-width=".4"/>
<path d="M1087.2 123L1096.7 125L1100.6 371.6L1091.6 369.5Z" fill="#000040" stroke="#000040" stroke-width=".4"/>
<path d="M1221.2 126.7L1229.4 121.7L1226.9 368L1219.1 373.6Z" fill="#000080" stroke="#000080" stroke-width=".4"/>
<path d="M1093.5 83.2L1102.7 85L1094.3 89.8L1085 88Z" fill="#545400" stroke="#545400" stroke-width=".4"/>
<path d="M1149.4 123.9L1158.9 125.8L1159.8 372.6L1150.8 370.5Z" fill="#004164" stroke="#004164" stroke-width=".4"/>
<path d="M1283.7 126L1291.7 120.9L1286.1 369L1278.5 374.5Z" fill="#808000" stroke="#808000" stroke-width=".4"/>
<path d="M1053.3 127.9L1062.1 122.9L1067.7 369.3L1059.4 374.9Z" fill="#000080" stroke="#000080" stroke-width=".4"/>
<path d="M1154 82.5L1163.3 84.3L1155.1 89.1L1145.8 87.3Z" fill="#987da0" stroke="#987da0" stroke-width=".4"/>
<path d="M1211.6 124.8L1221.2 126.7L1219.1 373.6L1210 371.5Z" fill="#000040" stroke="#000040" stroke-width=".4"/>
<path d="M1346.1 128.5L1353.9 123.4L1345.3 369.9L1337.9 375.5Z" fill="#aaffc3" stroke="#aaffc3" stroke-width=".4"/>
<path d="M1214.7 84.9L1224 86.7L1216 91.5L1206.6 89.7Z" fill="#a57d7d" stroke="#a57d7d" stroke-width=".4"/>
<path d="M1115.6 128.8L1124.2 123.8L1126.8 370.3L1118.7 375.9Z" fill="#0082c8" stroke="#0082c8" stroke-width=".4"/>
<path d="M1274 124.1L1283.7 126L1278.5 374.5L1269.2 372.4Z" fill="#404000" stroke="#404000" stroke-width=".4"/>
<path d="M1275.4 85.7L1284.8 87.5L1277 92.4L1267.5 90.5Z" fill="#2e9e9e" stroke="#2e9e9e" stroke-width=".4"/>
<path d="M1043.9 126L1053.3 127.9L1059.4 374.9L1050.4 372.8Z" fill="#000040" stroke="#000040" stroke-width=".4"/>
<path d="M1178 128.1L1186.4 123L1186 371.3L1178 376.9Z" fill="#911eb4" stroke="#911eb4" stroke-width=".4"/>
<path d="M1336.3 126.6L1346.1 128.5L1337.9 375.5L1328.6 373.4Z" fill="#558062" stroke="#558062" stroke-width=".4"/>
<path d="M1106.1 126.9L1115.6 128.8L1118.7 375.9L1109.6 373.8Z" fill="#004164" stroke="#004164" stroke-width=".4"/>
<path d="M1240.5 130.6L1248.7 125.5L1245.2 372.3L1237.5 377.8Z" fill="#000080" stroke="#000080" stroke-width=".4"/>
<path d="M1111.9 85.3L1121.1 87.1L1112.8 92L1103.5 90.1Z" fill="#540000" stroke="#540000" stroke-width=".4"/>
<path d="M1168.5 126.2L1178 128.1L1178 376.9L1168.9 374.7Z" fill="#480f5a" stroke="#480f5a" stroke-width=".4"/>
<path d="M1172.6 87.7L1182 89.5L1173.8 94.4L1164.4 92.5Z" fill="#a89410" stroke="#a89410" stroke-width=".4"/>
<path d="M1303.1 129.9L1311.1 124.8L1304.5 373.2L1297 378.8Z" fill="#f58231" stroke="#f58231" stroke-width=".4"/>
<path d="M1230.9 128.7L1240.5 130.6L1237.5 377.8L1228.3 375.7Z" fill="#000040" stroke="#000040" stroke-width=".4"/>
<path d="M1233.4 88.5L1242.8 90.4L1234.8 95.2L1225.4 93.4Z" fill="#a57d7d" stroke="#a57d7d" stroke-width=".4"/>
<path d="M1134.7 132.7L1143.2 127.6L1144.9 374.6L1136.8 380.2Z" fill="#f032e6" stroke="#f032e6" stroke-width=".4"/>
<path d="M1293.4 127.9L1303.1 129.9L1297 378.8L1287.7 376.7Z" fill="#7a4118" stroke="#7a4118" stroke-width=".4"/>
<path d="M1197.3 132L1205.6 126.9L1204.2 375.5L1196.3 381.2Z" fill="#3cb44b" stroke="#3cb44b" stroke-width=".4"/>
<path d="M1294.3 87.8L1303.8 89.6L1296 94.5L1286.5 92.6Z" fill="#000054" stroke="#000054" stroke-width=".4"/>
<path d="M1125.2 130.8L1134.7 132.7L1136.8 380.2L1127.7 378Z" fill="#781973" stroke="#781973" stroke-width=".4"/>
<path d="M1130.4 90.5L1139.7 92.4L1131.4 97.3L1122.1 95.4Z" fill="#a57d7d" stroke="#a57d7d" stroke-width=".4"/>
<path d="M1259.9 132.9L1268.1 127.8L1263.6 376.5L1255.9 382.1Z" fill="#e6194b" stroke="#e6194b" stroke-width=".4"/>
<path d="M1187.6 130L1197.3 132L1196.3 381.2L1187.2 379Z" fill="#1e5a26" stroke="#1e5a26" stroke-width=".4"/>
<path d="M1191.3 91.4L1200.7 93.2L1192.5 98.1L1183.1 96.2Z" fill="#a89410" stroke="#a89410" stroke-width=".4"/>
<path d="M1322.7 133.8L1330.6 128.7L1323.1 377.5L1315.5 383.1Z" fill="#f032e6" stroke="#f032e6" stroke-width=".4"/>
<path d="M1091.1 134.1L1099.8 129L1103.6 377.9L1095.4 383.5Z" fill="#f58231" stroke="#f58231" stroke-width=".4"/>
<path d="M1250.2 130.9L1259.9 132.9L1255.9 382.1L1246.7 380Z" fill="#730c26" stroke="#730c26" stroke-width=".4"/>
<path d="M1252.3 92.2L1261.7 94.1L1253.8 98.9L1244.3 97.1Z" fill="#a57d7d" stroke="#a57d7d" stroke-width=".4"/>
<path d="M1153.8 135L1162.3 129.9L1163.1 378.8L1155 384.5Z" fill="#808000" stroke="#808000" stroke-width=".4"/>
<path d="M1312.9 131.8L1322.7 133.8L1315.5 383.1L1306.2 381Z" fill="#781973" stroke="#781973" stroke-width=".4"/>
<path d="M1081.6 132.2L1091.1 134.1L1095.4 383.5L1086.4 381.4Z" fill="#7a4118" stroke="#7a4118" stroke-width=".4"/>
<path d="M1313.3 91.5L1322.9 93.3L1315.1 98.2L1305.5 96.3Z" fill="#981032" stroke="#981032" stroke-width=".4"/>
<path d="M1216.6 135.9L1224.9 130.8L1222.5 379.8L1214.7 385.5Z" fill="#aa6e28" stroke="#aa6e28" stroke-width=".4"/>
<path d="M1144.2 133.1L1153.8 135L1155 384.5L1145.9 382.3Z" fill="#404000" stroke="#404000" stroke-width=".4"/>
<path d="M1149 94.2L1158.4 96.1L1150.1 101L1140.7 99.1Z" fill="#005684" stroke="#005684" stroke-width=".4"/>
<path d="M1279.4 136.8L1287.5 131.7L1282.1 380.8L1274.4 386.4Z" fill="#0082c8" stroke="#0082c8" stroke-width=".4"/>
<path d="M1206.9 133.9L1216.6 135.9L1214.7 385.5L1205.5 383.3Z" fill="#553714" stroke="#553714" stroke-width=".4"/>
<path d="M1210.1 95.1L1219.5 96.9L1211.4 101.8L1202 100Z" fill="#a89410" stroke="#a89410" stroke-width=".4"/>
<path d="M1269.7 134.8L1279.4 136.8L1274.4 386.4L1265.1 384.3Z" fill="#004164" stroke="#004164" stroke-width=".4"/>
<path d="M1271.2 95.9L1280.7 97.8L1272.8 102.7L1263.3 100.8Z" fill="#2e9e9e" stroke="#2e9e9e" stroke-width=".4"/>
<path d="M1106.6 97.1L1115.9 99L1107.5 103.9L1098.2 102Z" fill="#a57d7d" stroke="#a57d7d" stroke-width=".4"/>
<path d="M1167.8 98L1177.1 99.8L1168.9 104.7L1159.5 102.9Z" fill="#005684" stroke="#005684" stroke-width=".4"/>
<path d="M1299 140.7L1307 135.6L1300.7 385.1L1293 390.8Z" fill="#ffe119" stroke="#ffe119" stroke-width=".4"/>
<path d="M1229 98.8L1238.4 100.7L1230.4 105.6L1220.9 103.7Z" fill="#a57d7d" stroke="#a57d7d" stroke-width=".4"/>
<path d="M1289.2 138.8L1299 140.7L1293 390.8L1283.7 388.6Z" fill="#80700c" stroke="#80700c" stroke-width=".4"/>
<path d="M1290.3 98.1L1299.8 99.9L1291.9 104.9L1282.4 103Z" fill="#987da0" stroke="#987da0" stroke-width=".4"/>
<path d="M1192.4 142.9L1200.8 137.7L1199.7 387.5L1191.7 393.1Z" fill="#808000" stroke="#808000" stroke-width=".4"/>
<path d="M1125.3 100.8L1134.6 102.7L1126.2 107.6L1116.8 105.8Z" fill="#005684" stroke="#005684" stroke-width=".4"/>
<path d="M1022.5 144.1L1031.4 138.9L1038.7 388.8L1030.2 394.5Z" fill="#0082c8" stroke="#0082c8" stroke-width=".4"/>
<path d="M1182.7 140.9L1192.4 142.9L1191.7 393.1L1182.5 391Z" fill="#404000" stroke="#404000" stroke-width=".4"/>
<path d="M1186.6 101.7L1196 103.6L1187.8 108.5L1178.3 106.6Z" fill="#005684" stroke="#005684" stroke-width=".4"/>
<path d="M1085.6 146.6L1094.3 141.5L1098.4 389.8L1090.1 395.5Z" fill="#000080" stroke="#000080" stroke-width=".4"/>
<path d="M1013 142.1L1022.5 144.1L1030.2 394.5L1021.2 392.4Z" fill="#004164" stroke="#004164" stroke-width=".4"/>
<path d="M1247.9 100.9L1257.5 102.8L1249.4 107.8L1239.9 105.9Z" fill="#545400" stroke="#545400" stroke-width=".4"/>
<path d="M1076 144.7L1085.6 146.6L1090.1 395.5L1081 393.3Z" fill="#000040" stroke="#000040" stroke-width=".4"/>
<path d="M1211.9 148.5L1220.2 143.3L1218.1 391.8L1210.2 397.5Z" fill="#800000" stroke="#800000" stroke-width=".4"/>
<path d="M1144 104.6L1153.4 106.5L1145 111.4L1135.6 109.5Z" fill="#005684" stroke="#005684" stroke-width=".4"/>
<path d="M1041.5 148.1L1050.4 142.9L1056.7 393.2L1048.3 398.9Z" fill="#800000" stroke="#800000" stroke-width=".4"/>
<path d="M1202.1 146.5L1211.9 148.5L1210.2 397.5L1200.9 395.3Z" fill="#400000" stroke="#400000" stroke-width=".4"/>
<path d="M1205.5 103.8L1214.9 105.7L1206.8 110.7L1197.3 108.8Z" fill="#601477" stroke="#601477" stroke-width=".4"/>
<path d="M1104.7 149L1113.5 143.8L1116.6 394.2L1108.4 399.9Z" fill="#f58231" stroke="#f58231" stroke-width=".4"/>
<path d="M1032 146.1L1041.5 148.1L1048.3 398.9L1039.2 396.7Z" fill="#400000" stroke="#400000" stroke-width=".4"/>
<path d="M1267 104.7L1276.6 106.6L1268.6 111.5L1259 109.7Z" fill="#545400" stroke="#545400" stroke-width=".4"/>
<path d="M1168 149.9L1176.5 144.7L1176.6 395.2L1168.5 400.9Z" fill="#3cb44b" stroke="#3cb44b" stroke-width=".4"/>
<path d="M1328.6 107.1L1338.2 109L1330.4 114L1320.8 112.1Z" fill="#540000" stroke="#540000" stroke-width=".4"/>
<path d="M1095.1 147L1104.7 149L1108.4 399.9L1099.2 397.7Z" fill="#7a4118" stroke="#7a4118" stroke-width=".4"/>
<path d="M1101.2 105.9L1110.6 107.8L1102.1 112.8L1092.7 110.9Z" fill="#545400" stroke="#545400" stroke-width=".4"/>
<path d="M1158.3 147.9L1168 149.9L1168.5 400.9L1159.3 398.7Z" fill="#1e5a26" stroke="#1e5a26" stroke-width=".4"/>
<path d="M1162.8 108.3L1172.3 110.2L1163.9 115.2L1154.5 113.3Z" fill="#005684" stroke="#005684" stroke-width=".4"/>
<path d="M1060.7 152.1L1069.5 146.9L1074.9 397.5L1066.5 403.3Z" fill="#911eb4" stroke="#911eb4" stroke-width=".4"/>
<path d="M1124.1 154.6L1132.7 149.4L1134.9 398.5L1126.7 404.3Z" fill="#f58231" stroke="#f58231" stroke-width=".4"/>
<path d="M1224.4 107.6L1234 109.5L1225.8 114.5L1216.3 112.6Z" fill="#987da0" stroke="#987da0" stroke-width=".4"/>
<path d="M1286.1 110.1L1295.7 112L1287.8 117L1278.2 115Z" fill="#8ba228" stroke="#8ba228" stroke-width=".4"/>
<path d="M1187.5 155.5L1196 150.3L1195.1 399.5L1187 405.3Z" fill="#800000" stroke="#800000" stroke-width=".4"/>
<path d="M1051.1 150.1L1060.7 152.1L1066.5 403.3L1057.4 401.1Z" fill="#480f5a" stroke="#480f5a" stroke-width=".4"/>
<path d="M1347.9 110.9L1357.6 112.8L1349.8 117.8L1340.1 115.9Z" fill="#540000" stroke="#540000" stroke-width=".4"/>
<path d="M1114.4 152.6L1124.1 154.6L1126.7 404.3L1117.5 402.1Z" fill="#7a4118" stroke="#7a4118" stroke-width=".4"/>
<path d="M1120 111.3L1129.4 113.2L1121 118.2L1111.5 116.3Z" fill="#005684" stroke="#005684" stroke-width=".4"/>
<path d="M1177.8 153.5L1187.5 155.5L1187 405.3L1177.8 403.1Z" fill="#400000" stroke="#400000" stroke-width=".4"/>
<path d="M1079.9 157.7L1088.7 152.5L1093.1 401.9L1084.8 407.7Z" fill="#000080" stroke="#000080" stroke-width=".4"/>
<path d="M1181.7 110.5L1191.2 112.4L1182.9 117.4L1173.4 115.5Z" fill="#545400" stroke="#545400" stroke-width=".4"/>
<path d="M1143.5 158.6L1152.1 153.4L1153.3 402.9L1145.2 408.7Z" fill="#f58231" stroke="#f58231" stroke-width=".4"/>
<path d="M1305.4 113.9L1315 115.8L1307.1 120.8L1297.4 118.9Z" fill="#8ba228" stroke="#8ba228" stroke-width=".4"/>
<path d="M1070.3 155.7L1079.9 157.7L1084.8 407.7L1075.6 405.5Z" fill="#000040" stroke="#000040" stroke-width=".4"/>
<path d="M1207.1 159.5L1215.5 154.3L1213.6 403.9L1205.6 409.7Z" fill="#800000" stroke="#800000" stroke-width=".4"/>
<path d="M1077.1 114.2L1086.5 116.1L1077.8 121.1L1068.4 119.2Z" fill="#000054" stroke="#000054" stroke-width=".4"/>
<path d="M1133.7 156.6L1143.5 158.6L1145.2 408.7L1135.9 406.5Z" fill="#7a4118" stroke="#7a4118" stroke-width=".4"/>
<path d="M1138.9 115.1L1148.3 117L1139.9 122L1130.4 120.1Z" fill="#9e2198" stroke="#9e2198" stroke-width=".4"/>
<path d="M1197.3 157.5L1207.1 159.5L1205.6 409.7L1196.3 407.5Z" fill="#400000" stroke="#400000" stroke-width=".4"/>
<path d="M1324.7 117.7L1334.4 119.6L1326.5 124.6L1316.8 122.7Z" fill="#70a881" stroke="#70a881" stroke-width=".4"/>
<path d="M1095.9 118L1105.3 119.9L1096.7 125L1087.2 123Z" fill="#000054" stroke="#000054" stroke-width=".4"/>
<path d="M1157.8 118.9L1167.3 120.8L1158.9 125.8L1149.4 123.9Z" fill="#005684" stroke="#005684" stroke-width=".4"/>
<path d="M1219.8 119.8L1229.4 121.7L1221.2 126.7L1211.6 124.8ZM1052.7 121L1062.1 122.9L1053.3 127.9L1043.9 126Z" fill="#000054" stroke="#000054" stroke-width=".4"/>
<path d="M1282 119L1291.7 120.9L1283.7 126L1274 124.1Z" fill="#545400" stroke="#545400" stroke-width=".4"/>
<path d="M1344.1 121.5L1353.9 123.4L1346.1 128.5L1336.3 126.6Z" fill="#70a881" stroke="#70a881" stroke-width=".4"/>
<path d="M1114.7 121.8L1124.2 123.8L1115.6 128.8L1106.1 126.9Z" fill="#005684" stroke="#005684" stroke-width=".4"/>
<path d="M1176.8 121.1L1186.4 123L1178 128.1L1168.5 126.2Z" fill="#601477" stroke="#601477" stroke-width=".4"/>
<path d="M1239 123.6L1248.7 125.5L1240.5 130.6L1230.9 128.7Z" fill="#000054" stroke="#000054" stroke-width=".4"/>
<path d="M1301.4 122.9L1311.1 124.8L1303.1 129.9L1293.4 127.9Z" fill="#a25620" stroke="#a25620" stroke-width=".4"/>
<path d="M1202.2 169.2L1210.7 163.8L1209.1 416.2L1201 422.1Z" fill="#aaffc3" stroke="#aaffc3" stroke-width=".4"/>
<path d="M1133.7 125.7L1143.2 127.6L1134.7 132.7L1125.2 130.8Z" fill="#9e2198" stroke="#9e2198" stroke-width=".4"/>
<path d="M1192.4 167.1L1202.2 169.2L1201 422.1L1191.6 419.8Z" fill="#558062" stroke="#558062" stroke-width=".4"/>
<path d="M1196 125L1205.6 126.9L1197.3 132L1187.6 130Z" fill="#287732" stroke="#287732" stroke-width=".4"/>
<path d="M1258.4 125.8L1268.1 127.8L1259.9 132.9L1250.2 130.9Z" fill="#981032" stroke="#981032" stroke-width=".4"/>
<path d="M1320.8 126.7L1330.6 128.7L1322.7 133.8L1312.9 131.8Z" fill="#9e2198" stroke="#9e2198" stroke-width=".4"/>
<path d="M1090.3 127.1L1099.8 129L1091.1 134.1L1081.6 132.2Z" fill="#a25620" stroke="#a25620" stroke-width=".4"/>
<path d="M1152.7 128L1162.3 129.9L1153.8 135L1144.2 133.1Z" fill="#545400" stroke="#545400" stroke-width=".4"/>
<path d="M1215.2 128.8L1224.9 130.8L1216.6 135.9L1206.9 133.9Z" fill="#70491a" stroke="#70491a" stroke-width=".4"/>
<path d="M1277.8 129.7L1287.5 131.7L1279.4 136.8L1269.7 134.8Z" fill="#005684" stroke="#005684" stroke-width=".4"/>
<path d="M1297.3 133.6L1307 135.6L1299 140.7L1289.2 138.8Z" fill="#a89410" stroke="#a89410" stroke-width=".4"/>
<path d="M1191.1 135.7L1200.8 137.7L1192.4 142.9L1182.7 140.9Z" fill="#545400" stroke="#545400" stroke-width=".4"/>
<path d="M1022 137L1031.4 138.9L1022.5 144.1L1013 142.1Z" fill="#005684" stroke="#005684" stroke-width=".4"/>
<path d="M1084.8 139.5L1094.3 141.5L1085.6 146.6L1076 144.7Z" fill="#000054" stroke="#000054" stroke-width=".4"/>
<path d="M1210.5 141.3L1220.2 143.3L1211.9 148.5L1202.1 146.5ZM1040.9 140.9L1050.4 142.9L1041.5 148.1L1032 146.1Z" fill="#540000" stroke="#540000" stroke-width=".4"/>
<path d="M1103.9 141.8L1113.5 143.8L1104.7 149L1095.1 147Z" fill="#a25620" stroke="#a25620" stroke-width=".4"/>
<path d="M1166.9 142.7L1176.5 144.7L1168 149.9L1158.3 147.9Z" fill="#287732" stroke="#287732" stroke-width=".4"/>
<path d="M1060 144.9L1069.5 146.9L1060.7 152.1L1051.1 150.1Z" fill="#601477" stroke="#601477" stroke-width=".4"/>
<path d="M1123.1 147.4L1132.7 149.4L1124.1 154.6L1114.4 152.6Z" fill="#a25620" stroke="#a25620" stroke-width=".4"/>
<path d="M1186.2 148.3L1196 150.3L1187.5 155.5L1177.8 153.5Z" fill="#540000" stroke="#540000" stroke-width=".4"/>
<path d="M1079.1 150.5L1088.7 152.5L1079.9 157.7L1070.3 155.7Z" fill="#000054" stroke="#000054" stroke-width=".4"/>
<path d="M1142.4 151.4L1152.1 153.4L1143.5 158.6L1133.7 156.6Z" fill="#a25620" stroke="#a25620" stroke-width=".4"/>
<path d="M1205.7 152.3L1215.5 154.3L1207.1 159.5L1197.3 157.5Z" fill="#540000" stroke="#540000" stroke-width=".4"/>
<path d="M1200.9 161.8L1210.7 163.8L1202.2 169.2L1192.4 167.1Z" fill="#70a881" stroke="#70a881" stroke-width=".4"/>
<g font-family="'DejaVu Sans','Liberation Sans',sans-serif" font-size="20" text-anchor="middle" fill="#000"><text x="917.7" y="431.3">2.5</text><text x="962.2" y="442.4">5.0</text><text x="1007.3" y="453.5">7.5</text><text x="1052.8" y="464.8">10.0</text><text x="1099" y="476.2">12.5</text><text x="1145.7" y="487.8">15.0</text><text x="1192.9" y="499.5">17.5</text><text x="1310.7" y="481.5">2</text><text x="1341.5" y="457.6">4</text><text x="1371.5" y="434.2">6</text><text x="1400.8" y="411.4">8</text><text x="1429.4" y="389.2">10</text><text x="1457.3" y="367.5">12</text><text x="1478.6" y="330.5">0</text><text x="1481.6" y="282.6">1</text><text x="1484.6" y="233.8">2</text><text x="1487.6" y="183.9">3</text><text x="1490.7" y="133.1">4</text></g></g>
<text x="520.8" y="534.4" font-family="'Liberation Serif','DejaVu Serif',serif" font-size="48" font-weight="bold">(a)</text>
<text transform="translate(610.2 534.4) scale(1.526 1.074)" font-family="'Liberation Serif','DejaVu Serif',serif" font-size="50">∑</text>
<text transform="translate(673.5 534.4) scale(1.087 1)" font-family="'Liberation Serif','DejaVu Serif',serif" font-size="48" font-style="italic">H</text>
<text transform="translate(715.5 543) scale(1.4 1)" font-family="'Liberation Serif','DejaVu Serif',serif" font-size="32" font-style="italic">k</text>
<text transform="translate(754.5 540) scale(1.467 1.25)" font-family="'Liberation Serif','DejaVu Serif',serif" font-size="48">=</text>
<text x="808.3" y="534.4" font-family="'Liberation Serif','DejaVu Serif',serif" font-size="48" textLength="136.5" lengthAdjust="spacing" stroke="#000" stroke-width=".45">486.58</text>
<g id="lat1"><path d="M103.2 664.6L126.1 704.3M126.1 704.3L171.9 704.3M126.1 704.3L149 744.1M332 744.1L309.1 783.9M332 744.1L354.9 783.9M377.8 744.1L354.9 783.9M309.1 783.9L354.9 783.9M354.9 783.9L400.7 783.9M354.9 783.9L332 823.6M354.9 783.9L377.8 823.6M400.7 783.9L377.8 823.6M400.7 783.9L423.5 823.6M446.4 783.9L423.5 823.6M583.7 783.9L606.6 823.6M377.8 823.6L423.5 823.6M423.5 823.6L469.3 823.6M423.5 823.6L400.7 863.4M423.5 823.6L446.4 863.4M469.3 823.6L446.4 863.4M560.8 823.6L606.6 823.6M606.6 823.6L652.3 823.6M606.6 823.6L629.5 863.4M446.4 863.4L492.2 863.4M492.2 863.4L515.1 903.2M515.1 903.2L560.8 903.2M560.8 903.2L606.6 903.2M560.8 903.2L537.9 943M515.1 982.7L492.2 1022.5M515.1 982.7L537.9 1022.5M560.8 982.7L537.9 1022.5M560.8 982.7L583.7 1022.5M583.7 1022.5L606.6 1062.3M332 1062.3L377.8 1062.3M332 1062.3L309.1 1102M332 1062.3L354.9 1102M377.8 1062.3L423.5 1062.3M263.4 1102L309.1 1102" stroke="#111" stroke-width="1.6" fill="none"/>
<path d="M80.3 624.8L126.1 624.8M80.3 624.8L57.5 664.6M80.3 624.8L103.2 664.6M126.1 624.8L103.2 664.6M11.7 664.6L57.5 664.6M57.5 664.6L103.2 664.6" stroke="#911eb4" stroke-width="4.0" fill="none"/>
<path d="M286.3 664.6L263.4 704.3M171.9 704.3L217.6 704.3M171.9 704.3L149 744.1M171.9 704.3L194.7 744.1M217.6 704.3L263.4 704.3M217.6 704.3L194.7 744.1M217.6 704.3L240.5 744.1M263.4 704.3L240.5 744.1M149 744.1L194.7 744.1M149 744.1L126.1 783.9M194.7 744.1L240.5 744.1M194.7 744.1L217.6 783.9M240.5 744.1L217.6 783.9M240.5 744.1L263.4 783.9M126.1 783.9L149 823.6M217.6 783.9L263.4 783.9M217.6 783.9L194.7 823.6M217.6 783.9L240.5 823.6M263.4 783.9L309.1 783.9M263.4 783.9L240.5 823.6M263.4 783.9L286.3 823.6M309.1 783.9L286.3 823.6M309.1 783.9L332 823.6M149 823.6L194.7 823.6M149 823.6L171.9 863.4M194.7 823.6L240.5 823.6M194.7 823.6L171.9 863.4M194.7 823.6L217.6 863.4M240.5 823.6L286.3 823.6M240.5 823.6L217.6 863.4M240.5 823.6L263.4 863.4M286.3 823.6L332 823.6M286.3 823.6L263.4 863.4M286.3 823.6L309.1 863.4M332 823.6L377.8 823.6M332 823.6L309.1 863.4M332 823.6L354.9 863.4M377.8 823.6L354.9 863.4M377.8 823.6L400.7 863.4M171.9 863.4L217.6 863.4M217.6 863.4L263.4 863.4M217.6 863.4L240.5 903.2M263.4 863.4L309.1 863.4M263.4 863.4L240.5 903.2M263.4 863.4L286.3 903.2M309.1 863.4L354.9 863.4M309.1 863.4L286.3 903.2M309.1 863.4L332 903.2M354.9 863.4L400.7 863.4M354.9 863.4L332 903.2M354.9 863.4L377.8 903.2M400.7 863.4L446.4 863.4M400.7 863.4L377.8 903.2M400.7 863.4L423.5 903.2M446.4 863.4L423.5 903.2M240.5 903.2L286.3 903.2M240.5 903.2L263.4 943M286.3 903.2L332 903.2M286.3 903.2L263.4 943M286.3 903.2L309.1 943M332 903.2L377.8 903.2M332 903.2L309.1 943M332 903.2L354.9 943M377.8 903.2L423.5 903.2M377.8 903.2L354.9 943M377.8 903.2L400.7 943M423.5 903.2L400.7 943M423.5 903.2L446.4 943M515.1 903.2L492.2 943M515.1 903.2L537.9 943M263.4 943L309.1 943M263.4 943L240.5 982.7M263.4 943L286.3 982.7M309.1 943L354.9 943M309.1 943L286.3 982.7M309.1 943L332 982.7M354.9 943L400.7 943M354.9 943L332 982.7M354.9 943L377.8 982.7M400.7 943L446.4 943M400.7 943L377.8 982.7M400.7 943L423.5 982.7M446.4 943L492.2 943M446.4 943L423.5 982.7M492.2 943L537.9 943M492.2 943L515.1 982.7M537.9 943L515.1 982.7M537.9 943L560.8 982.7M240.5 982.7L286.3 982.7M240.5 982.7L217.6 1022.5M286.3 982.7L332 982.7M286.3 982.7L309.1 1022.5M332 982.7L377.8 982.7M332 982.7L309.1 1022.5M377.8 982.7L423.5 982.7M515.1 982.7L560.8 982.7M309.1 1022.5L332 1062.3M217.6 1102L263.4 1102" stroke="#0082c8" stroke-width="4.0" fill="none"/>
<path d="M377.8 664.6L354.9 704.3M377.8 664.6L400.7 704.3M515.1 664.6L492.2 704.3M354.9 704.3L400.7 704.3M354.9 704.3L332 744.1M354.9 704.3L377.8 744.1M400.7 704.3L446.4 704.3M400.7 704.3L377.8 744.1M400.7 704.3L423.5 744.1M446.4 704.3L492.2 704.3M446.4 704.3L423.5 744.1M492.2 704.3L515.1 744.1M332 744.1L377.8 744.1M377.8 744.1L423.5 744.1M377.8 744.1L400.7 783.9M423.5 744.1L400.7 783.9M423.5 744.1L446.4 783.9M515.1 744.1L560.8 744.1M515.1 744.1L492.2 783.9M515.1 744.1L537.9 783.9M560.8 744.1L606.6 744.1M560.8 744.1L537.9 783.9M560.8 744.1L583.7 783.9M606.6 744.1L583.7 783.9M400.7 783.9L446.4 783.9M446.4 783.9L492.2 783.9M446.4 783.9L469.3 823.6M492.2 783.9L537.9 783.9M492.2 783.9L469.3 823.6M492.2 783.9L515.1 823.6M537.9 783.9L583.7 783.9M537.9 783.9L515.1 823.6M537.9 783.9L560.8 823.6M583.7 783.9L560.8 823.6M469.3 823.6L515.1 823.6M469.3 823.6L492.2 863.4M515.1 823.6L560.8 823.6M515.1 823.6L492.2 863.4" stroke="#fabebe" stroke-width="4.0" fill="none"/>
<path d="M675.2 783.9L721 783.9M675.2 783.9L652.3 823.6M675.2 783.9L698.1 823.6M721 783.9L698.1 823.6M721 783.9L743.9 823.6M652.3 823.6L698.1 823.6M652.3 823.6L629.5 863.4M652.3 823.6L675.2 863.4M698.1 823.6L743.9 823.6M698.1 823.6L675.2 863.4M698.1 823.6L721 863.4M743.9 823.6L721 863.4M629.5 863.4L675.2 863.4M629.5 863.4L606.6 903.2M629.5 863.4L652.3 903.2M675.2 863.4L721 863.4M675.2 863.4L652.3 903.2M675.2 863.4L698.1 903.2M721 863.4L698.1 903.2M606.6 903.2L652.3 903.2M652.3 903.2L698.1 903.2" stroke="#e6194b" stroke-width="4.0" fill="none"/>
<path d="M492.2 1022.5L537.9 1022.5M492.2 1022.5L469.3 1062.3M537.9 1022.5L583.7 1022.5M423.5 1062.3L469.3 1062.3" stroke="#808000" stroke-width="4.0" fill="none"/>
<path d="M377.8 1062.3L354.9 1102M309.1 1102L354.9 1102" stroke="#000080" stroke-width="4.0" fill="none"/>
<g fill="#911eb4"><circle cx="80.3" cy="624.8" r="8.5"/><circle cx="126.1" cy="624.8" r="8.5"/><circle cx="11.7" cy="664.6" r="8.5"/><circle cx="57.5" cy="664.6" r="8.5"/><circle cx="103.2" cy="664.6" r="8.5"/></g>
<g fill="#0082c8"><circle cx="286.3" cy="664.6" r="8.5"/><circle cx="171.9" cy="704.3" r="8.5"/><circle cx="217.6" cy="704.3" r="8.5"/><circle cx="263.4" cy="704.3" r="8.5"/><circle cx="149" cy="744.1" r="8.5"/><circle cx="194.7" cy="744.1" r="8.5"/><circle cx="240.5" cy="744.1" r="8.5"/><circle cx="126.1" cy="783.9" r="8.5"/><circle cx="217.6" cy="783.9" r="8.5"/><circle cx="263.4" cy="783.9" r="8.5"/><circle cx="309.1" cy="783.9" r="8.5"/><circle cx="149" cy="823.6" r="8.5"/><circle cx="194.7" cy="823.6" r="8.5"/><circle cx="240.5" cy="823.6" r="8.5"/><circle cx="286.3" cy="823.6" r="8.5"/><circle cx="332" cy="823.6" r="8.5"/><circle cx="377.8" cy="823.6" r="8.5"/><circle cx="171.9" cy="863.4" r="8.5"/><circle cx="217.6" cy="863.4" r="8.5"/><circle cx="263.4" cy="863.4" r="8.5"/><circle cx="309.1" cy="863.4" r="8.5"/><circle cx="354.9" cy="863.4" r="8.5"/><circle cx="400.7" cy="863.4" r="8.5"/><circle cx="446.4" cy="863.4" r="8.5"/><circle cx="240.5" cy="903.2" r="8.5"/><circle cx="286.3" cy="903.2" r="8.5"/><circle cx="332" cy="903.2" r="8.5"/><circle cx="377.8" cy="903.2" r="8.5"/><circle cx="423.5" cy="903.2" r="8.5"/><circle cx="515.1" cy="903.2" r="8.5"/><circle cx="263.4" cy="943" r="8.5"/><circle cx="309.1" cy="943" r="8.5"/><circle cx="354.9" cy="943" r="8.5"/><circle cx="400.7" cy="943" r="8.5"/><circle cx="446.4" cy="943" r="8.5"/><circle cx="492.2" cy="943" r="8.5"/><circle cx="537.9" cy="943" r="8.5"/><circle cx="240.5" cy="982.7" r="8.5"/><circle cx="286.3" cy="982.7" r="8.5"/><circle cx="332" cy="982.7" r="8.5"/><circle cx="377.8" cy="982.7" r="8.5"/><circle cx="423.5" cy="982.7" r="8.5"/><circle cx="515.1" cy="982.7" r="8.5"/><circle cx="560.8" cy="982.7" r="8.5"/><circle cx="217.6" cy="1022.5" r="8.5"/><circle cx="309.1" cy="1022.5" r="8.5"/><circle cx="332" cy="1062.3" r="8.5"/><circle cx="217.6" cy="1102" r="8.5"/><circle cx="263.4" cy="1102" r="8.5"/></g>
<g fill="#fabebe"><circle cx="377.8" cy="664.6" r="8.5"/><circle cx="515.1" cy="664.6" r="8.5"/><circle cx="354.9" cy="704.3" r="8.5"/><circle cx="400.7" cy="704.3" r="8.5"/><circle cx="446.4" cy="704.3" r="8.5"/><circle cx="492.2" cy="704.3" r="8.5"/><circle cx="332" cy="744.1" r="8.5"/><circle cx="377.8" cy="744.1" r="8.5"/><circle cx="423.5" cy="744.1" r="8.5"/><circle cx="515.1" cy="744.1" r="8.5"/><circle cx="560.8" cy="744.1" r="8.5"/><circle cx="606.6" cy="744.1" r="8.5"/><circle cx="400.7" cy="783.9" r="8.5"/><circle cx="446.4" cy="783.9" r="8.5"/><circle cx="492.2" cy="783.9" r="8.5"/><circle cx="537.9" cy="783.9" r="8.5"/><circle cx="583.7" cy="783.9" r="8.5"/><circle cx="469.3" cy="823.6" r="8.5"/><circle cx="515.1" cy="823.6" r="8.5"/><circle cx="560.8" cy="823.6" r="8.5"/><circle cx="492.2" cy="863.4" r="8.5"/></g>
<g fill="#e6bef2"><circle cx="126.1" cy="704.3" r="8.5"/><circle cx="423.5" cy="823.6" r="8.5"/></g>
<g fill="#f032e6"><circle cx="354.9" cy="783.9" r="8.5"/></g>
<g fill="#e6194b"><circle cx="675.2" cy="783.9" r="8.5"/><circle cx="721" cy="783.9" r="8.5"/><circle cx="652.3" cy="823.6" r="8.5"/><circle cx="698.1" cy="823.6" r="8.5"/><circle cx="743.9" cy="823.6" r="8.5"/><circle cx="629.5" cy="863.4" r="8.5"/><circle cx="675.2" cy="863.4" r="8.5"/><circle cx="721" cy="863.4" r="8.5"/><circle cx="606.6" cy="903.2" r="8.5"/><circle cx="652.3" cy="903.2" r="8.5"/><circle cx="698.1" cy="903.2" r="8.5"/></g>
<g fill="#46f0f0"><circle cx="606.6" cy="823.6" r="8.5"/><circle cx="560.8" cy="903.2" r="8.5"/></g>
<g fill="#808000"><circle cx="492.2" cy="1022.5" r="8.5"/><circle cx="537.9" cy="1022.5" r="8.5"/><circle cx="583.7" cy="1022.5" r="8.5"/><circle cx="423.5" cy="1062.3" r="8.5"/><circle cx="469.3" cy="1062.3" r="8.5"/></g>
<g fill="#000080"><circle cx="377.8" cy="1062.3" r="8.5"/><circle cx="309.1" cy="1102" r="8.5"/><circle cx="354.9" cy="1102" r="8.5"/></g>
<g fill="#800000"><circle cx="606.6" cy="1062.3" r="8.5"/></g></g>
<g id="ch1"><path d="M906.1 991.7L1110.2 861.6L1106.8 612.8L891.4 729.8Z" fill="#f9f9f9" stroke="#f9f9f9" stroke-width="1"/>
<path d="M1110.2 861.6L1440.7 934.3L1454.5 678.1L1106.8 612.8Z" fill="#f2f2f2" stroke="#f2f2f2" stroke-width="1"/>
<path d="M906.1 991.7L1253.9 1076.5L1440.7 934.3L1110.2 861.6Z" fill="#f5f5f5" stroke="#f5f5f5" stroke-width="1"/>
<path d="M931.8 998L1134.6 866.9L1132.4 617.7M976.3 1008.8L1177 876.3L1177 626M1021.3 1019.8L1219.9 885.7L1222 634.5M1066.9 1030.9L1263.2 895.3L1267.6 643M1113 1042.1L1307.1 904.9L1313.7 651.7M1159.7 1053.5L1351.4 914.7L1360.4 660.4M1207 1065L1396.2 924.5L1407.6 669.3M1286.5 1051.6L941.7 969L929 709.3M1317.7 1028L975.6 947.4L964.9 689.9M1348 1004.9L1008.8 926.3L999.9 670.9M1377.6 982.3L1041.1 905.6L1034 652.3M1406.5 960.4L1072.7 885.5L1067.3 634.3M1434.7 938.9L1103.5 865.8L1099.8 616.6M905.9 986.7L1110.1 856.8L1441 929.5M903.1 938.1L1109.5 810.5L1443.6 881.8M900.3 888.4L1108.8 763.2L1446.2 833.2M897.5 837.7L1108.2 715.1L1448.9 783.6M894.5 786L1107.5 666.1L1451.6 733" fill="none" stroke="#bcbcbc" stroke-width="1.8" stroke-linejoin="round"/>
<path d="M906.1 991.7L1253.9 1076.5M1253.9 1076.5L1440.7 934.3M1440.7 934.3L1454.5 678.1M928.3 1000.2L933.5 996.8M972.8 1011.1L978 1007.7M1017.9 1022.1L1023 1018.6M1063.5 1033.2L1068.6 1029.7M1109.6 1044.5L1114.7 1040.9M1156.4 1055.9L1161.3 1052.3M1203.7 1067.5L1208.6 1063.8M1292.3 1053L1283.7 1050.9M1323.4 1029.3L1314.8 1027.3M1353.7 1006.2L1345.2 1004.2M1383.2 983.6L1374.8 981.7M1412.1 961.6L1403.7 959.8M1440.2 940.2L1431.9 938.3M1446.5 930.7L1438.2 928.8M1449.1 883L1440.8 881.2M1451.8 834.3L1443.4 832.6M1454.6 784.7L1446 783M1457.3 734.1L1448.7 732.5" fill="none" stroke="#000" stroke-width="1.6"/>
<path d="M1143.2 665.6L1151.2 661.1L1152.3 876.5L1144.7 881.5Z" fill="#911eb4" stroke="#911eb4" stroke-width=".4"/>
<path d="M1134.3 663.9L1143.2 665.6L1144.7 881.5L1136.2 879.6Z" fill="#480f5a" stroke="#480f5a" stroke-width=".4"/>
<path d="M1102.8 676.4L1110.8 671.8L1113.5 879.4L1105.8 884.4Z" fill="#911eb4" stroke="#911eb4" stroke-width=".4"/>
<path d="M1093.9 674.6L1102.8 676.4L1105.8 884.4L1097.3 882.5Z" fill="#480f5a" stroke="#480f5a" stroke-width=".4"/>
<path d="M1161.1 663L1169 658.5L1169.4 880.3L1161.8 885.3Z" fill="#911eb4" stroke="#911eb4" stroke-width=".4"/>
<path d="M1152.1 661.3L1161.1 663L1161.8 885.3L1153.2 883.4Z" fill="#480f5a" stroke="#480f5a" stroke-width=".4"/>
<path d="M1120.4 669.8L1128.5 665.2L1130.6 883.2L1122.9 888.2Z" fill="#911eb4" stroke="#911eb4" stroke-width=".4"/>
<path d="M1111.5 668L1120.4 669.8L1122.9 888.2L1114.3 886.3Z" fill="#480f5a" stroke="#480f5a" stroke-width=".4"/>
<path d="M1138.3 669.2L1146.3 664.6L1147.7 887L1140 892.1Z" fill="#911eb4" stroke="#911eb4" stroke-width=".4"/>
<path d="M1129.4 667.4L1138.3 669.2L1140 892.1L1131.5 890.1Z" fill="#480f5a" stroke="#480f5a" stroke-width=".4"/>
<path d="M1133.2 659.9L1141.3 655.4L1143 897.7L1135.3 902.8Z" fill="#e6bef2" stroke="#e6bef2" stroke-width=".4"/>
<path d="M1124.2 658.2L1133.2 659.9L1135.3 902.8L1126.7 900.8Z" fill="#735f79" stroke="#735f79" stroke-width=".4"/>
<path d="M1151.4 668.6L1159.5 664L1160.3 901.5L1152.7 906.7ZM1211 665.3L1218.9 660.7L1216.9 902.4L1209.4 907.5Z" fill="#0082c8" stroke="#0082c8" stroke-width=".4"/>
<path d="M1142.3 666.8L1151.4 668.6L1152.7 906.7L1144 904.7ZM1201.8 663.5L1211 665.3L1209.4 907.5L1200.7 905.6Z" fill="#004164" stroke="#004164" stroke-width=".4"/>
<path d="M1169.7 672.1L1177.7 667.5L1177.7 905.4L1170.1 910.6Z" fill="#0082c8" stroke="#0082c8" stroke-width=".4"/>
<path d="M1160.6 670.4L1169.7 672.1L1170.1 910.6L1161.3 908.6Z" fill="#004164" stroke="#004164" stroke-width=".4"/>
<path d="M1142.3 659.4L1151.2 661.1L1143.2 665.6L1134.3 663.9ZM1102 670.1L1110.8 671.8L1102.8 676.4L1093.9 674.6Z" fill="#601477" stroke="#601477" stroke-width=".4"/>
<path d="M1247.7 686.8L1255.5 682.1L1252 910.2L1244.6 915.4Z" fill="#fabebe" stroke="#fabebe" stroke-width=".4"/>
<path d="M1128.2 673.8L1136.4 669.1L1138.3 908.5L1130.6 913.6ZM1188 675.7L1196 671L1195.2 909.3L1187.6 914.5Z" fill="#0082c8" stroke="#0082c8" stroke-width=".4"/>
<path d="M1238.5 685L1247.7 686.8L1244.6 915.4L1235.8 913.4Z" fill="#7d5f5f" stroke="#7d5f5f" stroke-width=".4"/>
<path d="M1119.1 672L1128.2 673.8L1130.6 913.6L1121.9 911.6ZM1178.8 673.9L1188 675.7L1187.6 914.5L1178.8 912.5Z" fill="#004164" stroke="#004164" stroke-width=".4"/>
<path d="M1146.5 678.2L1154.6 673.5L1155.7 912.4L1148 917.5Z" fill="#0082c8" stroke="#0082c8" stroke-width=".4"/>
<path d="M1160.1 656.8L1169 658.5L1161.1 663L1152.1 661.3Z" fill="#601477" stroke="#601477" stroke-width=".4"/>
<path d="M1137.4 676.4L1146.5 678.2L1148 917.5L1139.3 915.6Z" fill="#004164" stroke="#004164" stroke-width=".4"/>
<path d="M1104.9 682.3L1113.1 677.6L1116.1 915.4L1108.3 920.6Z" fill="#0082c8" stroke="#0082c8" stroke-width=".4"/>
<path d="M1119.6 663.5L1128.5 665.2L1120.4 669.8L1111.5 668Z" fill="#601477" stroke="#601477" stroke-width=".4"/>
<path d="M1164.9 682L1173 677.3L1173.2 916.3L1165.5 921.5Z" fill="#0082c8" stroke="#0082c8" stroke-width=".4"/>
<path d="M1095.8 680.5L1104.9 682.3L1108.3 920.6L1099.6 918.6Z" fill="#004164" stroke="#004164" stroke-width=".4"/>
<path d="M1225 684.9L1232.8 680.2L1230.3 917.2L1222.8 922.4Z" fill="#fabebe" stroke="#fabebe" stroke-width=".4"/>
<path d="M1155.7 680.2L1164.9 682L1165.5 921.5L1156.7 919.5Z" fill="#004164" stroke="#004164" stroke-width=".4"/>
<path d="M1215.7 683.1L1225 684.9L1222.8 922.4L1213.9 920.4Z" fill="#7d5f5f" stroke="#7d5f5f" stroke-width=".4"/>
<path d="M1303.5 701.8L1311.2 697L1305.3 922.1L1298 927.3Z" fill="#fabebe" stroke="#fabebe" stroke-width=".4"/>
<path d="M1137.4 662.9L1146.3 664.6L1138.3 669.2L1129.4 667.4Z" fill="#601477" stroke="#601477" stroke-width=".4"/>
<path d="M1243.5 689.1L1251.4 684.3L1248 921.2L1240.5 926.4Z" fill="#fabebe" stroke="#fabebe" stroke-width=".4"/>
<path d="M1294.2 700L1303.5 701.8L1298 927.3L1289 925.3ZM1234.2 687.2L1243.5 689.1L1240.5 926.4L1231.6 924.4Z" fill="#7d5f5f" stroke="#7d5f5f" stroke-width=".4"/>
<path d="M1141.6 688.4L1149.7 683.7L1151 923.3L1143.3 928.6Z" fill="#0082c8" stroke="#0082c8" stroke-width=".4"/>
<path d="M1201.9 687.7L1209.9 683L1208.4 924.2L1200.7 929.5ZM1262.2 693.2L1270 688.4L1265.8 925.2L1258.3 930.4Z" fill="#fabebe" stroke="#fabebe" stroke-width=".4"/>
<path d="M1132.4 686.6L1141.6 688.4L1143.3 928.6L1134.5 926.6Z" fill="#004164" stroke="#004164" stroke-width=".4"/>
<path d="M1192.6 685.9L1201.9 687.7L1200.7 929.5L1191.9 927.5ZM1252.9 691.4L1262.2 693.2L1258.3 930.4L1249.4 928.4Z" fill="#7d5f5f" stroke="#7d5f5f" stroke-width=".4"/>
<path d="M1099.6 691.2L1107.9 686.5L1111.2 926.4L1103.3 931.7ZM1160 692.1L1168.2 687.3L1168.6 927.3L1160.9 932.6Z" fill="#0082c8" stroke="#0082c8" stroke-width=".4"/>
<path d="M1090.4 689.4L1099.6 691.2L1103.3 931.7L1094.5 929.7Z" fill="#004164" stroke="#004164" stroke-width=".4"/>
<path d="M1220.5 692.3L1228.5 687.6L1226.1 928.2L1218.5 933.5ZM1281 698.4L1288.7 693.6L1283.6 929.2L1276.2 934.4Z" fill="#fabebe" stroke="#fabebe" stroke-width=".4"/>
<path d="M1150.8 690.2L1160 692.1L1160.9 932.6L1152 930.6Z" fill="#004164" stroke="#004164" stroke-width=".4"/>
<path d="M1211.2 690.5L1220.5 692.3L1218.5 933.5L1209.6 931.5ZM1271.6 696.6L1281 698.4L1276.2 934.4L1267.2 932.4Z" fill="#7d5f5f" stroke="#7d5f5f" stroke-width=".4"/>
<path d="M1118 695L1126.3 690.2L1128.7 930.4L1120.8 935.7ZM1178.6 694L1186.7 689.2L1186.3 931.3L1178.5 936.6Z" fill="#0082c8" stroke="#0082c8" stroke-width=".4"/>
<path d="M1108.8 693.2L1118 695L1120.8 935.7L1112 933.7Z" fill="#004164" stroke="#004164" stroke-width=".4"/>
<path d="M1239.2 696.9L1247.1 692.1L1243.9 932.3L1236.3 937.5Z" fill="#fabebe" stroke="#fabebe" stroke-width=".4"/>
<path d="M1169.3 692.2L1178.6 694L1178.5 936.6L1169.7 934.6Z" fill="#004164" stroke="#004164" stroke-width=".4"/>
<path d="M1229.9 695.1L1239.2 696.9L1236.3 937.5L1227.4 935.5Z" fill="#7d5f5f" stroke="#7d5f5f" stroke-width=".4"/>
<path d="M1136.5 698.6L1144.8 693.8L1146.3 934.4L1138.5 939.7Z" fill="#0082c8" stroke="#0082c8" stroke-width=".4"/>
<path d="M1127.3 696.8L1136.5 698.6L1138.5 939.7L1129.6 937.7Z" fill="#004164" stroke="#004164" stroke-width=".4"/>
<path d="M1197.3 694.7L1205.3 689.9L1204 935.4L1196.3 940.7Z" fill="#f032e6" stroke="#f032e6" stroke-width=".4"/>
<path d="M1094.3 701.4L1102.7 696.6L1106.2 937.6L1098.2 942.9Z" fill="#0082c8" stroke="#0082c8" stroke-width=".4"/>
<path d="M1187.9 692.8L1197.3 694.7L1196.3 940.7L1187.4 938.6Z" fill="#781973" stroke="#781973" stroke-width=".4"/>
<path d="M1132.3 653.6L1141.3 655.4L1133.2 659.9L1124.2 658.2Z" fill="#987da0" stroke="#987da0" stroke-width=".4"/>
<path d="M1155.1 701.7L1163.3 696.9L1164 938.5L1156.2 943.8Z" fill="#0082c8" stroke="#0082c8" stroke-width=".4"/>
<path d="M1085.1 699.5L1094.3 701.4L1098.2 942.9L1089.4 940.9Z" fill="#004164" stroke="#004164" stroke-width=".4"/>
<path d="M1216 700.9L1224 696.1L1221.8 939.4L1214.2 944.7ZM1276.9 706.5L1284.7 701.7L1279.7 940.3L1272.2 945.7Z" fill="#fabebe" stroke="#fabebe" stroke-width=".4"/>
<path d="M1145.8 699.9L1155.1 701.7L1156.2 943.8L1147.3 941.8Z" fill="#004164" stroke="#004164" stroke-width=".4"/>
<path d="M1150.4 662.2L1159.5 664L1151.4 668.6L1142.3 666.8Z" fill="#005684" stroke="#005684" stroke-width=".4"/>
<path d="M1206.6 699.1L1216 700.9L1214.2 944.7L1205.2 942.7ZM1267.4 704.7L1276.9 706.5L1272.2 945.7L1263.2 943.6Z" fill="#7d5f5f" stroke="#7d5f5f" stroke-width=".4"/>
<path d="M1112.8 705.5L1121.2 700.7L1123.8 941.6L1115.9 947Z" fill="#0082c8" stroke="#0082c8" stroke-width=".4"/>
<path d="M1209.7 658.9L1218.9 660.7L1211 665.3L1201.8 663.5Z" fill="#005684" stroke="#005684" stroke-width=".4"/>
<path d="M1173.8 704.2L1182 699.3L1181.8 942.5L1174 947.9Z" fill="#0082c8" stroke="#0082c8" stroke-width=".4"/>
<path d="M1103.5 703.7L1112.8 705.5L1115.9 947L1107 944.9Z" fill="#004164" stroke="#004164" stroke-width=".4"/>
<path d="M1234.8 705.5L1242.8 700.6L1239.7 943.5L1232.1 948.8ZM1295.8 711.3L1303.6 706.4L1297.8 944.4L1290.3 949.8Z" fill="#fabebe" stroke="#fabebe" stroke-width=".4"/>
<path d="M1168.6 665.7L1177.7 667.5L1169.7 672.1L1160.6 670.4Z" fill="#005684" stroke="#005684" stroke-width=".4"/>
<path d="M1164.4 702.3L1173.8 704.2L1174 947.9L1165.1 945.9Z" fill="#004164" stroke="#004164" stroke-width=".4"/>
<path d="M1225.4 703.6L1234.8 705.5L1232.1 948.8L1223.1 946.8ZM1286.3 709.4L1295.8 711.3L1290.3 949.8L1281.3 947.7Z" fill="#7d5f5f" stroke="#7d5f5f" stroke-width=".4"/>
<path d="M1131.4 709.3L1139.7 704.4L1141.5 945.7L1133.6 951.1Z" fill="#0082c8" stroke="#0082c8" stroke-width=".4"/>
<path d="M1246.3 680.3L1255.5 682.1L1247.7 686.8L1238.5 685Z" fill="#a57d7d" stroke="#a57d7d" stroke-width=".4"/>
<path d="M1314.8 719.7L1322.5 714.8L1315.9 948.5L1308.5 953.9Z" fill="#fabebe" stroke="#fabebe" stroke-width=".4"/>
<path d="M1192.5 707.1L1200.7 702.2L1199.6 946.6L1191.8 952Z" fill="#0082c8" stroke="#0082c8" stroke-width=".4"/>
<path d="M1122.1 707.4L1131.4 709.3L1133.6 951.1L1124.7 949Z" fill="#004164" stroke="#004164" stroke-width=".4"/>
<path d="M1253.7 710.9L1261.7 706L1257.7 947.6L1250.1 952.9Z" fill="#fabebe" stroke="#fabebe" stroke-width=".4"/>
<path d="M1127.3 667.4L1136.4 669.1L1128.2 673.8L1119.1 672ZM1186.8 669.3L1196 671L1188 675.7L1178.8 673.9Z" fill="#005684" stroke="#005684" stroke-width=".4"/>
<path d="M1305.2 717.9L1314.8 719.7L1308.5 953.9L1299.4 951.8Z" fill="#7d5f5f" stroke="#7d5f5f" stroke-width=".4"/>
<path d="M1183.1 705.2L1192.5 707.1L1191.8 952L1182.9 949.9Z" fill="#004164" stroke="#004164" stroke-width=".4"/>
<path d="M1244.3 709.1L1253.7 710.9L1250.1 952.9L1241.1 950.9Z" fill="#7d5f5f" stroke="#7d5f5f" stroke-width=".4"/>
<path d="M1150.1 712.5L1158.4 707.6L1159.3 949.8L1151.4 955.2Z" fill="#0082c8" stroke="#0082c8" stroke-width=".4"/>
<path d="M1272.7 715.9L1280.6 711L1275.8 951.7L1268.2 957.1Z" fill="#fabebe" stroke="#fabebe" stroke-width=".4"/>
<path d="M1140.7 710.7L1150.1 712.5L1151.4 955.2L1142.5 953.1Z" fill="#004164" stroke="#004164" stroke-width=".4"/>
<path d="M1211.4 709.2L1219.5 704.3L1217.5 950.7L1209.8 956.1Z" fill="#e6bef2" stroke="#e6bef2" stroke-width=".4"/>
<path d="M1145.5 671.8L1154.6 673.5L1146.5 678.2L1137.4 676.4Z" fill="#005684" stroke="#005684" stroke-width=".4"/>
<path d="M1107.5 716.9L1116 712L1118.9 953L1110.9 958.4Z" fill="#0082c8" stroke="#0082c8" stroke-width=".4"/>
<path d="M1263.2 714L1272.7 715.9L1268.2 957.1L1259.2 955Z" fill="#7d5f5f" stroke="#7d5f5f" stroke-width=".4"/>
<path d="M1202 707.3L1211.4 709.2L1209.8 956.1L1200.8 954.1Z" fill="#735f79" stroke="#735f79" stroke-width=".4"/>
<path d="M1168.9 715.2L1177.1 710.3L1177.2 953.9L1169.3 959.3Z" fill="#0082c8" stroke="#0082c8" stroke-width=".4"/>
<path d="M1098.2 715.1L1107.5 716.9L1110.9 958.4L1102 956.3Z" fill="#004164" stroke="#004164" stroke-width=".4"/>
<path d="M1104.1 675.8L1113.1 677.6L1104.9 682.3L1095.8 680.5Z" fill="#005684" stroke="#005684" stroke-width=".4"/>
<path d="M1230.4 716.1L1238.4 711.2L1235.5 954.8L1227.8 960.3ZM1291.8 720.6L1299.7 715.7L1293.9 955.8L1286.4 961.2Z" fill="#fabebe" stroke="#fabebe" stroke-width=".4"/>
<path d="M1163.8 675.5L1173 677.3L1164.9 682L1155.7 680.2Z" fill="#005684" stroke="#005684" stroke-width=".4"/>
<path d="M1159.5 713.3L1168.9 715.2L1169.3 959.3L1160.4 957.2Z" fill="#004164" stroke="#004164" stroke-width=".4"/>
<path d="M1223.6 678.4L1232.8 680.2L1225 684.9L1215.7 683.1Z" fill="#a57d7d" stroke="#a57d7d" stroke-width=".4"/>
<path d="M1220.9 714.3L1230.4 716.1L1227.8 960.3L1218.8 958.2Z" fill="#7d5f5f" stroke="#7d5f5f" stroke-width=".4"/>
<path d="M1301.8 695.2L1311.2 697L1303.5 701.8L1294.2 700Z" fill="#a57d7d" stroke="#a57d7d" stroke-width=".4"/>
<path d="M1126.2 720.4L1134.6 715.5L1136.7 957.1L1128.7 962.5Z" fill="#0082c8" stroke="#0082c8" stroke-width=".4"/>
<path d="M1282.2 718.7L1291.8 720.6L1286.4 961.2L1277.3 959.1Z" fill="#7d5f5f" stroke="#7d5f5f" stroke-width=".4"/>
<path d="M1187.8 718.4L1196 713.5L1195.1 958L1187.3 963.5Z" fill="#0082c8" stroke="#0082c8" stroke-width=".4"/>
<path d="M1116.9 718.6L1126.2 720.4L1128.7 962.5L1119.8 960.4Z" fill="#004164" stroke="#004164" stroke-width=".4"/>
<path d="M1249.4 721.1L1257.4 716.2L1253.6 959L1246 964.4Z" fill="#fabebe" stroke="#fabebe" stroke-width=".4"/>
<path d="M1242.1 682.5L1251.4 684.3L1243.5 689.1L1234.2 687.2Z" fill="#a57d7d" stroke="#a57d7d" stroke-width=".4"/>
<path d="M1178.3 716.5L1187.8 718.4L1187.3 963.5L1178.3 961.4Z" fill="#004164" stroke="#004164" stroke-width=".4"/>
<path d="M1239.9 719.2L1249.4 721.1L1246 964.4L1236.9 962.3Z" fill="#7d5f5f" stroke="#7d5f5f" stroke-width=".4"/>
<path d="M1145 723.2L1153.4 718.2L1154.6 961.2L1146.6 966.7Z" fill="#0082c8" stroke="#0082c8" stroke-width=".4"/>
<path d="M1330 736.6L1337.8 731.6L1330.5 964.1L1323 969.6Z" fill="#e6194b" stroke="#e6194b" stroke-width=".4"/>
<path d="M1206.8 723.3L1214.9 718.3L1213.1 962.2L1205.4 967.7Z" fill="#0082c8" stroke="#0082c8" stroke-width=".4"/>
<path d="M1135.6 721.3L1145 723.2L1146.6 966.7L1137.6 964.6Z" fill="#004164" stroke="#004164" stroke-width=".4"/>
<path d="M1140.6 681.9L1149.7 683.7L1141.6 688.4L1132.4 686.6Z" fill="#005684" stroke="#005684" stroke-width=".4"/>
<path d="M1268.5 725.2L1276.5 720.2L1271.8 963.1L1264.2 968.6Z" fill="#fabebe" stroke="#fabebe" stroke-width=".4"/>
<path d="M1102.2 729.8L1110.7 724.8L1113.9 964.4L1105.8 969.9Z" fill="#0082c8" stroke="#0082c8" stroke-width=".4"/>
<path d="M1320.4 734.7L1330 736.6L1323 969.6L1313.9 967.5Z" fill="#730c26" stroke="#730c26" stroke-width=".4"/>
<path d="M1260.7 686.6L1270 688.4L1262.2 693.2L1252.9 691.4Z" fill="#a57d7d" stroke="#a57d7d" stroke-width=".4"/>
<path d="M1197.3 721.4L1206.8 723.3L1205.4 967.7L1196.3 965.6Z" fill="#004164" stroke="#004164" stroke-width=".4"/>
<path d="M1200.6 681.2L1209.9 683L1201.9 687.7L1192.6 685.9Z" fill="#a57d7d" stroke="#a57d7d" stroke-width=".4"/>
<path d="M1258.9 723.3L1268.5 725.2L1264.2 968.6L1255.1 966.5Z" fill="#7d5f5f" stroke="#7d5f5f" stroke-width=".4"/>
<path d="M1092.8 727.9L1102.2 729.8L1105.8 969.9L1096.8 967.8Z" fill="#004164" stroke="#004164" stroke-width=".4"/>
<path d="M1163.9 726.2L1172.3 721.2L1172.5 965.4L1164.6 970.9Z" fill="#0082c8" stroke="#0082c8" stroke-width=".4"/>
<path d="M1098.8 684.7L1107.9 686.5L1099.6 691.2L1090.4 689.4Z" fill="#005684" stroke="#005684" stroke-width=".4"/>
<path d="M1225.8 727L1233.9 722.1L1231.2 966.3L1223.5 971.8Z" fill="#fabebe" stroke="#fabebe" stroke-width=".4"/>
<path d="M1349.5 735.7L1357.3 730.7L1348.9 968.3L1341.5 973.8Z" fill="#e6194b" stroke="#e6194b" stroke-width=".4"/>
<path d="M1158.9 685.5L1168.2 687.3L1160 692.1L1150.8 690.2Z" fill="#005684" stroke="#005684" stroke-width=".4"/>
<path d="M1154.5 724.3L1163.9 726.2L1164.6 970.9L1155.6 968.8Z" fill="#004164" stroke="#004164" stroke-width=".4"/>
<path d="M1279.4 691.8L1288.7 693.6L1281 698.4L1271.6 696.6Z" fill="#a57d7d" stroke="#a57d7d" stroke-width=".4"/>
<path d="M1287.8 725.9L1295.7 720.9L1290 967.3L1282.5 972.8Z" fill="#46f0f0" stroke="#46f0f0" stroke-width=".4"/>
<path d="M1216.3 725.1L1225.8 727L1223.5 971.8L1214.4 969.7Z" fill="#7d5f5f" stroke="#7d5f5f" stroke-width=".4"/>
<path d="M1219.2 685.8L1228.5 687.6L1220.5 692.3L1211.2 690.5Z" fill="#a57d7d" stroke="#a57d7d" stroke-width=".4"/>
<path d="M1121 731.2L1129.5 726.2L1131.8 968.6L1123.7 974.1Z" fill="#0082c8" stroke="#0082c8" stroke-width=".4"/>
<path d="M1339.9 733.8L1349.5 735.7L1341.5 973.8L1332.3 971.7Z" fill="#730c26" stroke="#730c26" stroke-width=".4"/>
<path d="M1278.2 724L1287.8 725.9L1282.5 972.8L1273.3 970.7Z" fill="#237878" stroke="#237878" stroke-width=".4"/>
<path d="M1078.1 745.4L1086.7 740.3L1090.9 971.9L1082.7 977.4ZM1182.9 729.9L1191.2 724.8L1190.6 969.6L1182.7 975.1Z" fill="#0082c8" stroke="#0082c8" stroke-width=".4"/>
<path d="M1111.6 729.3L1121 731.2L1123.7 974.1L1114.7 972Z" fill="#004164" stroke="#004164" stroke-width=".4"/>
<path d="M1117.1 688.4L1126.3 690.2L1118 695L1108.8 693.2Z" fill="#005684" stroke="#005684" stroke-width=".4"/>
<path d="M1307 735L1314.9 730L1308.4 971.5L1300.8 977Z" fill="#e6194b" stroke="#e6194b" stroke-width=".4"/>
<path d="M1068.7 743.4L1078.1 745.4L1082.7 977.4L1073.7 975.3ZM1173.4 727.9L1182.9 729.9L1182.7 975.1L1173.6 973Z" fill="#004164" stroke="#004164" stroke-width=".4"/>
<path d="M1177.4 687.4L1186.7 689.2L1178.6 694L1169.3 692.2Z" fill="#005684" stroke="#005684" stroke-width=".4"/>
<path d="M1237.8 690.3L1247.1 692.1L1239.2 696.9L1229.9 695.1Z" fill="#a57d7d" stroke="#a57d7d" stroke-width=".4"/>
<path d="M1297.3 733.1L1307 735L1300.8 977L1291.6 974.9Z" fill="#730c26" stroke="#730c26" stroke-width=".4"/>
<path d="M1139.9 733.6L1148.3 728.5L1149.8 972.8L1141.7 978.4Z" fill="#0082c8" stroke="#0082c8" stroke-width=".4"/>
<path d="M1130.4 731.6L1139.9 733.6L1141.7 978.4L1132.7 976.2Z" fill="#004164" stroke="#004164" stroke-width=".4"/>
<path d="M1135.5 692L1144.8 693.8L1136.5 698.6L1127.3 696.8Z" fill="#005684" stroke="#005684" stroke-width=".4"/>
<path d="M1326.4 741L1334.2 735.9L1326.8 975.7L1319.3 981.3Z" fill="#e6194b" stroke="#e6194b" stroke-width=".4"/>
<path d="M1096.7 739.2L1105.3 734.1L1108.8 976.1L1100.6 981.6Z" fill="#0082c8" stroke="#0082c8" stroke-width=".4"/>
<path d="M1316.6 739L1326.4 741L1319.3 981.3L1310.1 979.1Z" fill="#730c26" stroke="#730c26" stroke-width=".4"/>
<path d="M1053.7 753.8L1062.4 748.7L1067.7 979.3L1059.4 984.9ZM1158.9 737.1L1167.3 732L1167.8 977L1159.8 982.6Z" fill="#0082c8" stroke="#0082c8" stroke-width=".4"/>
<path d="M1196 688.1L1205.3 689.9L1197.3 694.7L1187.9 692.8Z" fill="#9e2198" stroke="#9e2198" stroke-width=".4"/>
<path d="M1087.3 737.3L1096.7 739.2L1100.6 981.6L1091.6 979.5Z" fill="#004164" stroke="#004164" stroke-width=".4"/>
<path d="M1093.5 694.7L1102.7 696.6L1094.3 701.4L1085.1 699.5Z" fill="#005684" stroke="#005684" stroke-width=".4"/>
<path d="M1221.2 737.2L1229.4 732.2L1226.9 978L1219.1 983.6Z" fill="#0082c8" stroke="#0082c8" stroke-width=".4"/>
<path d="M1345.8 748L1353.5 742.9L1345.3 979.9L1337.9 985.5Z" fill="#e6194b" stroke="#e6194b" stroke-width=".4"/>
<path d="M1044.3 751.9L1053.7 753.8L1059.4 984.9L1050.4 982.8ZM1149.4 735.1L1158.9 737.1L1159.8 982.6L1150.8 980.5Z" fill="#004164" stroke="#004164" stroke-width=".4"/>
<path d="M1283.6 739.2L1291.6 734.1L1286.1 979L1278.5 984.5Z" fill="#e6194b" stroke="#e6194b" stroke-width=".4"/>
<path d="M1154 695.1L1163.3 696.9L1155.1 701.7L1145.8 699.9Z" fill="#005684" stroke="#005684" stroke-width=".4"/>
<path d="M1275.3 699.8L1284.7 701.7L1276.9 706.5L1267.4 704.7Z" fill="#a57d7d" stroke="#a57d7d" stroke-width=".4"/>
<path d="M1211.6 735.3L1221.2 737.2L1219.1 983.6L1210 981.5Z" fill="#004164" stroke="#004164" stroke-width=".4"/>
<path d="M1115.7 741.3L1124.2 736.3L1126.8 980.3L1118.7 985.9Z" fill="#0082c8" stroke="#0082c8" stroke-width=".4"/>
<path d="M1336 746.1L1345.8 748L1337.9 985.5L1328.6 983.4Z" fill="#730c26" stroke="#730c26" stroke-width=".4"/>
<path d="M1214.7 694.2L1224 696.1L1216 700.9L1206.6 699.1Z" fill="#a57d7d" stroke="#a57d7d" stroke-width=".4"/>
<path d="M1273.9 737.2L1283.6 739.2L1278.5 984.5L1269.2 982.4Z" fill="#730c26" stroke="#730c26" stroke-width=".4"/>
<path d="M1178 740.7L1186.4 735.6L1186 981.3L1178 986.9Z" fill="#0082c8" stroke="#0082c8" stroke-width=".4"/>
<path d="M1106.2 739.4L1115.7 741.3L1118.7 985.9L1109.6 983.8Z" fill="#004164" stroke="#004164" stroke-width=".4"/>
<path d="M1111.9 698.8L1121.2 700.7L1112.8 705.5L1103.5 703.7Z" fill="#005684" stroke="#005684" stroke-width=".4"/>
<path d="M1302.9 747.3L1310.9 742.2L1304.5 983.2L1297 988.8Z" fill="#e6194b" stroke="#e6194b" stroke-width=".4"/>
<path d="M1168.5 738.8L1178 740.7L1178 986.9L1168.9 984.7Z" fill="#004164" stroke="#004164" stroke-width=".4"/>
<path d="M1240.6 736.8L1248.7 731.8L1245.2 982.3L1237.5 987.8Z" fill="#46f0f0" stroke="#46f0f0" stroke-width=".4"/>
<path d="M1172.6 697.5L1182 699.3L1173.8 704.2L1164.4 702.3Z" fill="#005684" stroke="#005684" stroke-width=".4"/>
<path d="M1294.2 704.6L1303.6 706.4L1295.8 711.3L1286.3 709.4Z" fill="#a57d7d" stroke="#a57d7d" stroke-width=".4"/>
<path d="M1293.2 745.4L1302.9 747.3L1297 988.8L1287.7 986.7Z" fill="#730c26" stroke="#730c26" stroke-width=".4"/>
<path d="M1233.4 698.8L1242.8 700.6L1234.8 705.5L1225.4 703.6Z" fill="#a57d7d" stroke="#a57d7d" stroke-width=".4"/>
<path d="M1134.7 744.4L1143.2 739.3L1144.9 984.6L1136.8 990.2Z" fill="#0082c8" stroke="#0082c8" stroke-width=".4"/>
<path d="M1230.9 734.9L1240.6 736.8L1237.5 987.8L1228.3 985.7Z" fill="#237878" stroke="#237878" stroke-width=".4"/>
<path d="M1197.3 744.2L1205.6 739.1L1204.2 985.5L1196.3 991.2Z" fill="#0082c8" stroke="#0082c8" stroke-width=".4"/>
<path d="M1130.4 702.5L1139.7 704.4L1131.4 709.3L1122.1 707.4Z" fill="#005684" stroke="#005684" stroke-width=".4"/>
<path d="M1125.2 742.4L1134.7 744.4L1136.8 990.2L1127.7 988Z" fill="#004164" stroke="#004164" stroke-width=".4"/>
<path d="M1259.9 747.1L1268 742L1263.6 986.5L1255.9 992.1Z" fill="#e6194b" stroke="#e6194b" stroke-width=".4"/>
<path d="M1313 713L1322.5 714.8L1314.8 719.7L1305.2 717.9Z" fill="#a57d7d" stroke="#a57d7d" stroke-width=".4"/>
<path d="M1322.5 751.2L1330.4 746.1L1323.1 987.5L1315.5 993.1Z" fill="#e6194b" stroke="#e6194b" stroke-width=".4"/>
<path d="M1187.6 742.3L1197.3 744.2L1196.3 991.2L1187.2 989Z" fill="#004164" stroke="#004164" stroke-width=".4"/>
<path d="M1091.2 747.8L1099.9 742.7L1103.6 987.9L1095.4 993.5Z" fill="#0082c8" stroke="#0082c8" stroke-width=".4"/>
<path d="M1250.2 745.2L1259.9 747.1L1255.9 992.1L1246.7 990Z" fill="#730c26" stroke="#730c26" stroke-width=".4"/>
<path d="M1252.2 704.2L1261.7 706L1253.7 710.9L1244.3 709.1Z" fill="#a57d7d" stroke="#a57d7d" stroke-width=".4"/>
<path d="M1191.3 700.3L1200.7 702.2L1192.5 707.1L1183.1 705.2Z" fill="#005684" stroke="#005684" stroke-width=".4"/>
<path d="M1312.7 749.3L1322.5 751.2L1315.5 993.1L1306.2 991Z" fill="#730c26" stroke="#730c26" stroke-width=".4"/>
<path d="M1153.8 747.9L1162.3 742.8L1163.1 988.8L1155 994.5Z" fill="#0082c8" stroke="#0082c8" stroke-width=".4"/>
<path d="M1081.7 745.8L1091.2 747.8L1095.4 993.5L1086.4 991.4Z" fill="#004164" stroke="#004164" stroke-width=".4"/>
<path d="M1279.3 755.3L1287.3 750.2L1282.1 990.8L1274.4 996.4Z" fill="#e6194b" stroke="#e6194b" stroke-width=".4"/>
<path d="M1216.6 748L1224.8 742.9L1222.5 989.8L1214.7 995.5Z" fill="#0082c8" stroke="#0082c8" stroke-width=".4"/>
<path d="M1144.3 746L1153.8 747.9L1155 994.5L1145.9 992.3Z" fill="#004164" stroke="#004164" stroke-width=".4"/>
<path d="M1149.1 705.8L1158.4 707.6L1150.1 712.5L1140.7 710.7Z" fill="#005684" stroke="#005684" stroke-width=".4"/>
<path d="M1269.5 753.4L1279.3 755.3L1274.4 996.4L1265.1 994.3Z" fill="#730c26" stroke="#730c26" stroke-width=".4"/>
<path d="M1206.9 746.1L1216.6 748L1214.7 995.5L1205.5 993.3Z" fill="#004164" stroke="#004164" stroke-width=".4"/>
<path d="M1271.1 709.1L1280.6 711L1272.7 715.9L1263.2 714Z" fill="#a57d7d" stroke="#a57d7d" stroke-width=".4"/>
<path d="M1210.1 702.4L1219.5 704.3L1211.4 709.2L1202 707.3Z" fill="#987da0" stroke="#987da0" stroke-width=".4"/>
<path d="M1106.7 710.2L1116 712L1107.5 716.9L1098.2 715.1Z" fill="#005684" stroke="#005684" stroke-width=".4"/>
<path d="M1298.8 760.9L1306.8 755.7L1300.7 995.1L1293 1000.8Z" fill="#e6194b" stroke="#e6194b" stroke-width=".4"/>
<path d="M1167.8 708.4L1177.1 710.3L1168.9 715.2L1159.5 713.3Z" fill="#005684" stroke="#005684" stroke-width=".4"/>
<path d="M1289 758.9L1298.8 760.9L1293 1000.8L1283.7 998.6Z" fill="#730c26" stroke="#730c26" stroke-width=".4"/>
<path d="M1290.1 713.8L1299.7 715.7L1291.8 720.6L1282.2 718.7ZM1228.9 709.3L1238.4 711.2L1230.4 716.1L1220.9 714.3Z" fill="#a57d7d" stroke="#a57d7d" stroke-width=".4"/>
<path d="M1022.9 767.5L1031.8 762.3L1038.7 998.8L1030.2 1004.5ZM1192.4 755L1200.8 749.8L1199.7 997.5L1191.7 1003.1Z" fill="#0082c8" stroke="#0082c8" stroke-width=".4"/>
<path d="M1125.3 713.6L1134.6 715.5L1126.2 720.4L1116.9 718.6Z" fill="#005684" stroke="#005684" stroke-width=".4"/>
<path d="M1013.5 765.5L1022.9 767.5L1030.2 1004.5L1021.2 1002.4ZM1182.7 753L1192.4 755L1191.7 1003.1L1182.5 1001Z" fill="#004164" stroke="#004164" stroke-width=".4"/>
<path d="M1186.6 711.6L1196 713.5L1187.8 718.4L1178.3 716.5Z" fill="#005684" stroke="#005684" stroke-width=".4"/>
<path d="M1085.6 756.1L1094.3 750.9L1098.4 999.8L1090.1 1005.5Z" fill="#0082c8" stroke="#0082c8" stroke-width=".4"/>
<path d="M1247.9 714.3L1257.4 716.2L1249.4 721.1L1239.9 719.2Z" fill="#a57d7d" stroke="#a57d7d" stroke-width=".4"/>
<path d="M1328.2 729.7L1337.8 731.6L1330 736.6L1320.4 734.7Z" fill="#981032" stroke="#981032" stroke-width=".4"/>
<path d="M1076 754.1L1085.6 756.1L1090.1 1005.5L1081 1003.3Z" fill="#004164" stroke="#004164" stroke-width=".4"/>
<path d="M1211.9 759L1220.2 753.8L1218.1 1001.8L1210.2 1007.5Z" fill="#0082c8" stroke="#0082c8" stroke-width=".4"/>
<path d="M1144 716.3L1153.4 718.2L1145 723.2L1135.6 721.3Z" fill="#005684" stroke="#005684" stroke-width=".4"/>
<path d="M1041.6 761.3L1050.5 756.1L1056.7 1003.2L1048.3 1008.9Z" fill="#0082c8" stroke="#0082c8" stroke-width=".4"/>
<path d="M1202.1 757L1211.9 759L1210.2 1007.5L1200.9 1005.3Z" fill="#004164" stroke="#004164" stroke-width=".4"/>
<path d="M1205.4 716.5L1214.9 718.3L1206.8 723.3L1197.3 721.4Z" fill="#005684" stroke="#005684" stroke-width=".4"/>
<path d="M1266.9 718.3L1276.5 720.2L1268.5 725.2L1258.9 723.3Z" fill="#a57d7d" stroke="#a57d7d" stroke-width=".4"/>
<path d="M1101.4 722.9L1110.7 724.8L1102.2 729.8L1092.8 727.9Z" fill="#005684" stroke="#005684" stroke-width=".4"/>
<path d="M1104.7 759L1113.5 753.8L1116.6 1004.2L1108.4 1009.9Z" fill="#000080" stroke="#000080" stroke-width=".4"/>
<path d="M1032.1 759.3L1041.6 761.3L1048.3 1008.9L1039.2 1006.7Z" fill="#004164" stroke="#004164" stroke-width=".4"/>
<path d="M1168 757.7L1176.5 752.5L1176.6 1005.2L1168.5 1010.9Z" fill="#808000" stroke="#808000" stroke-width=".4"/>
<path d="M1095.1 757L1104.7 759L1108.4 1009.9L1099.2 1007.7Z" fill="#000040" stroke="#000040" stroke-width=".4"/>
<path d="M1162.8 719.3L1172.3 721.2L1163.9 726.2L1154.5 724.3Z" fill="#005684" stroke="#005684" stroke-width=".4"/>
<path d="M1347.6 728.8L1357.3 730.7L1349.5 735.7L1339.9 733.8Z" fill="#981032" stroke="#981032" stroke-width=".4"/>
<path d="M1158.3 755.7L1168 757.7L1168.5 1010.9L1159.3 1008.7Z" fill="#404000" stroke="#404000" stroke-width=".4"/>
<path d="M1060.7 762.6L1069.5 757.4L1074.9 1007.5L1066.5 1013.3Z" fill="#000080" stroke="#000080" stroke-width=".4"/>
<path d="M1224.4 720.2L1233.9 722.1L1225.8 727L1216.3 725.1Z" fill="#a57d7d" stroke="#a57d7d" stroke-width=".4"/>
<path d="M1124 763L1132.7 757.7L1134.9 1008.5L1126.7 1014.3Z" fill="#808000" stroke="#808000" stroke-width=".4"/>
<path d="M1077.4 738.4L1086.7 740.3L1078.1 745.4L1068.7 743.4Z" fill="#005684" stroke="#005684" stroke-width=".4"/>
<path d="M1051.1 760.6L1060.7 762.6L1066.5 1013.3L1057.4 1011.1Z" fill="#000040" stroke="#000040" stroke-width=".4"/>
<path d="M1120.1 724.3L1129.5 726.2L1121 731.2L1111.6 729.3Z" fill="#005684" stroke="#005684" stroke-width=".4"/>
<path d="M1286.1 719L1295.7 720.9L1287.8 725.9L1278.2 724Z" fill="#2e9e9e" stroke="#2e9e9e" stroke-width=".4"/>
<path d="M1187.5 762.3L1196 757L1195.1 1009.5L1187 1015.3Z" fill="#808000" stroke="#808000" stroke-width=".4"/>
<path d="M1114.4 761L1124 763L1126.7 1014.3L1117.5 1012.1Z" fill="#404000" stroke="#404000" stroke-width=".4"/>
<path d="M1181.7 722.9L1191.2 724.8L1182.9 729.9L1173.4 727.9Z" fill="#005684" stroke="#005684" stroke-width=".4"/>
<path d="M1177.8 760.3L1187.5 762.3L1187 1015.3L1177.8 1013.1Z" fill="#404000" stroke="#404000" stroke-width=".4"/>
<path d="M1305.2 728.1L1314.9 730L1307 735L1297.3 733.1Z" fill="#981032" stroke="#981032" stroke-width=".4"/>
<path d="M1079.9 766.1L1088.7 760.8L1093.1 1011.9L1084.8 1017.7Z" fill="#000080" stroke="#000080" stroke-width=".4"/>
<path d="M1143.4 767L1152.1 761.7L1153.3 1012.9L1145.2 1018.7Z" fill="#808000" stroke="#808000" stroke-width=".4"/>
<path d="M1070.3 764.1L1079.9 766.1L1084.8 1017.7L1075.6 1015.5Z" fill="#000040" stroke="#000040" stroke-width=".4"/>
<path d="M1138.9 726.6L1148.3 728.5L1139.9 733.6L1130.4 731.6Z" fill="#005684" stroke="#005684" stroke-width=".4"/>
<path d="M1207.1 766.3L1215.5 761L1213.6 1013.9L1205.6 1019.7Z" fill="#808000" stroke="#808000" stroke-width=".4"/>
<path d="M1133.7 765L1143.4 767L1145.2 1018.7L1135.9 1016.5Z" fill="#404000" stroke="#404000" stroke-width=".4"/>
<path d="M1324.5 734L1334.2 735.9L1326.4 741L1316.6 739Z" fill="#981032" stroke="#981032" stroke-width=".4"/>
<path d="M1053.1 746.8L1062.4 748.7L1053.7 753.8L1044.3 751.9Z" fill="#005684" stroke="#005684" stroke-width=".4"/>
<path d="M1197.3 764.3L1207.1 766.3L1205.6 1019.7L1196.3 1017.5Z" fill="#404000" stroke="#404000" stroke-width=".4"/>
<path d="M1095.9 732.2L1105.3 734.1L1096.7 739.2L1087.3 737.3ZM1157.8 730.1L1167.3 732L1158.9 737.1L1149.4 735.1Z" fill="#005684" stroke="#005684" stroke-width=".4"/>
<path d="M1343.8 741L1353.5 742.9L1345.8 748L1336 746.1Z" fill="#981032" stroke="#981032" stroke-width=".4"/>
<path d="M1219.8 730.3L1229.4 732.2L1221.2 737.2L1211.6 735.3Z" fill="#005684" stroke="#005684" stroke-width=".4"/>
<path d="M1281.9 732.2L1291.6 734.1L1283.6 739.2L1273.9 737.2Z" fill="#981032" stroke="#981032" stroke-width=".4"/>
<path d="M1114.8 734.3L1124.2 736.3L1115.7 741.3L1106.2 739.4ZM1176.8 733.7L1186.4 735.6L1178 740.7L1168.5 738.8Z" fill="#005684" stroke="#005684" stroke-width=".4"/>
<path d="M1301.2 740.3L1310.9 742.2L1302.9 747.3L1293.2 745.4Z" fill="#981032" stroke="#981032" stroke-width=".4"/>
<path d="M1239.1 729.8L1248.7 731.8L1240.6 736.8L1230.9 734.9Z" fill="#2e9e9e" stroke="#2e9e9e" stroke-width=".4"/>
<path d="M1202.2 778.6L1210.7 773.3L1209.1 1026.2L1201 1032.1Z" fill="#800000" stroke="#800000" stroke-width=".4"/>
<path d="M1133.7 737.3L1143.2 739.3L1134.7 744.4L1125.2 742.4ZM1196 737.2L1205.6 739.1L1197.3 744.2L1187.6 742.3Z" fill="#005684" stroke="#005684" stroke-width=".4"/>
<path d="M1320.6 744.2L1330.4 746.1L1322.5 751.2L1312.7 749.3Z" fill="#981032" stroke="#981032" stroke-width=".4"/>
<path d="M1192.4 776.6L1202.2 778.6L1201 1032.1L1191.6 1029.8Z" fill="#400000" stroke="#400000" stroke-width=".4"/>
<path d="M1258.3 740.1L1268 742L1259.9 747.1L1250.2 745.2Z" fill="#981032" stroke="#981032" stroke-width=".4"/>
<path d="M1090.4 740.7L1099.9 742.7L1091.2 747.8L1081.7 745.8ZM1152.7 740.8L1162.3 742.8L1153.8 747.9L1144.3 746Z" fill="#005684" stroke="#005684" stroke-width=".4"/>
<path d="M1277.6 748.2L1287.3 750.2L1279.3 755.3L1269.5 753.4Z" fill="#981032" stroke="#981032" stroke-width=".4"/>
<path d="M1215.2 741L1224.8 742.9L1216.6 748L1206.9 746.1Z" fill="#005684" stroke="#005684" stroke-width=".4"/>
<path d="M1297 753.7L1306.8 755.7L1298.8 760.9L1289 758.9Z" fill="#981032" stroke="#981032" stroke-width=".4"/>
<path d="M1022.4 760.3L1031.8 762.3L1022.9 767.5L1013.5 765.5ZM1191.1 747.9L1200.8 749.8L1192.4 755L1182.7 753ZM1084.8 748.9L1094.3 750.9L1085.6 756.1L1076 754.1ZM1210.5 751.8L1220.2 753.8L1211.9 759L1202.1 757ZM1041 754.1L1050.5 756.1L1041.6 761.3L1032.1 759.3Z" fill="#005684" stroke="#005684" stroke-width=".4"/>
<path d="M1103.9 751.8L1113.5 753.8L1104.7 759L1095.1 757Z" fill="#000054" stroke="#000054" stroke-width=".4"/>
<path d="M1166.9 750.6L1176.5 752.5L1168 757.7L1158.3 755.7Z" fill="#545400" stroke="#545400" stroke-width=".4"/>
<path d="M1060 755.4L1069.5 757.4L1060.7 762.6L1051.1 760.6Z" fill="#000054" stroke="#000054" stroke-width=".4"/>
<path d="M1123.1 755.8L1132.7 757.7L1124 763L1114.4 761ZM1186.3 755L1196 757L1187.5 762.3L1177.8 760.3Z" fill="#545400" stroke="#545400" stroke-width=".4"/>
<path d="M1079.1 758.8L1088.7 760.8L1079.9 766.1L1070.3 764.1Z" fill="#000054" stroke="#000054" stroke-width=".4"/>
<path d="M1142.4 759.7L1152.1 761.7L1143.4 767L1133.7 765ZM1205.7 759L1215.5 761L1207.1 766.3L1197.3 764.3Z" fill="#545400" stroke="#545400" stroke-width=".4"/>
<path d="M1200.9 771.2L1210.7 773.3L1202.2 778.6L1192.4 776.6Z" fill="#540000" stroke="#540000" stroke-width=".4"/>
<g font-family="'DejaVu Sans','Liberation Sans',sans-serif" font-size="20" text-anchor="middle" fill="#000"><text x="917.7" y="1041.3">2.5</text><text x="962.2" y="1052.4">5.0</text><text x="1007.3" y="1063.5">7.5</text><text x="1052.8" y="1074.8">10.0</text><text x="1099" y="1086.2">12.5</text><text x="1145.7" y="1097.8">15.0</text><text x="1192.9" y="1109.5">17.5</text><text x="1310.7" y="1091.5">2</text><text x="1341.5" y="1067.6">4</text><text x="1371.5" y="1044.2">6</text><text x="1400.8" y="1021.4">8</text><text x="1429.4" y="999.2">10</text><text x="1457.3" y="977.5">12</text><text x="1478.6" y="940.5">0</text><text x="1481.5" y="892.9">1</text><text x="1484.5" y="844.3">2</text><text x="1487.5" y="794.8">3</text><text x="1490.6" y="744.3">4</text></g></g>
<text x="520.8" y="1165.6" font-family="'Liberation Serif','DejaVu Serif',serif" font-size="48" font-weight="bold">(b)</text>
<text transform="translate(611.7 1165.6) scale(1.526 1.074)" font-family="'Liberation Serif','DejaVu Serif',serif" font-size="50">∑</text>
<text transform="translate(675 1165.6) scale(1.087 1)" font-family="'Liberation Serif','DejaVu Serif',serif" font-size="48" font-style="italic">H</text>
<text transform="translate(717 1174.2) scale(1.4 1)" font-family="'Liberation Serif','DejaVu Serif',serif" font-size="32" font-style="italic">k</text>
<text transform="translate(756 1171.2) scale(1.467 1.25)" font-family="'Liberation Serif','DejaVu Serif',serif" font-size="48">=</text>
<text x="809.8" y="1165.6" font-family="'Liberation Serif','DejaVu Serif',serif" font-size="48" textLength="136.5" lengthAdjust="spacing" stroke="#000" stroke-width=".45">478.09</text>
<g id="lat2"><path d="M80.3 1239.2L103.2 1279M126.1 1239.2L103.2 1279M57.5 1279L103.2 1279M377.8 1279L354.9 1318.7M377.8 1279L400.7 1318.7M354.9 1318.7L400.7 1318.7M400.7 1318.7L446.4 1318.7M400.7 1318.7L377.8 1358.5M400.7 1318.7L423.5 1358.5M446.4 1318.7L423.5 1358.5M515.1 1358.5L492.2 1398.3M515.1 1358.5L537.9 1398.3M560.8 1358.5L537.9 1398.3M492.2 1398.3L537.9 1398.3M537.9 1398.3L583.7 1398.3M537.9 1398.3L515.1 1438.1M583.7 1398.3L560.8 1438.1M583.7 1398.3L606.6 1438.1M515.1 1438.1L560.8 1438.1M560.8 1438.1L606.6 1438.1M560.8 1517.6L606.6 1517.6" stroke="#111" stroke-width="1.6" fill="none"/>
<path d="M80.3 1239.2L126.1 1239.2M80.3 1239.2L57.5 1279M11.7 1279L57.5 1279" stroke="#911eb4" stroke-width="4.2" fill="none"/>
<path d="M103.2 1279L126.1 1318.7M286.3 1279L263.4 1318.7M126.1 1318.7L171.9 1318.7M126.1 1318.7L149 1358.5M171.9 1318.7L217.6 1318.7M171.9 1318.7L149 1358.5M171.9 1318.7L194.7 1358.5M217.6 1318.7L263.4 1318.7M217.6 1318.7L194.7 1358.5M217.6 1318.7L240.5 1358.5M263.4 1318.7L240.5 1358.5M354.9 1318.7L332 1358.5M354.9 1318.7L377.8 1358.5M149 1358.5L194.7 1358.5M149 1358.5L126.1 1398.3M194.7 1358.5L240.5 1358.5M194.7 1358.5L217.6 1398.3M240.5 1358.5L217.6 1398.3M240.5 1358.5L263.4 1398.3M332 1358.5L377.8 1358.5M332 1358.5L309.1 1398.3M332 1358.5L354.9 1398.3M377.8 1358.5L423.5 1358.5M377.8 1358.5L354.9 1398.3M377.8 1358.5L400.7 1398.3M423.5 1358.5L400.7 1398.3M423.5 1358.5L446.4 1398.3M126.1 1398.3L149 1438.1M217.6 1398.3L263.4 1398.3M217.6 1398.3L194.7 1438.1M217.6 1398.3L240.5 1438.1M263.4 1398.3L309.1 1398.3M263.4 1398.3L240.5 1438.1M263.4 1398.3L286.3 1438.1M309.1 1398.3L354.9 1398.3M309.1 1398.3L286.3 1438.1M309.1 1398.3L332 1438.1M354.9 1398.3L400.7 1398.3M354.9 1398.3L332 1438.1M354.9 1398.3L377.8 1438.1M400.7 1398.3L446.4 1398.3M400.7 1398.3L377.8 1438.1M400.7 1398.3L423.5 1438.1M446.4 1398.3L492.2 1398.3M446.4 1398.3L423.5 1438.1M446.4 1398.3L469.3 1438.1M492.2 1398.3L469.3 1438.1M492.2 1398.3L515.1 1438.1M149 1438.1L194.7 1438.1M149 1438.1L171.9 1477.8M194.7 1438.1L240.5 1438.1M194.7 1438.1L171.9 1477.8M194.7 1438.1L217.6 1477.8M240.5 1438.1L286.3 1438.1M240.5 1438.1L217.6 1477.8M240.5 1438.1L263.4 1477.8M286.3 1438.1L332 1438.1M286.3 1438.1L263.4 1477.8M286.3 1438.1L309.1 1477.8M332 1438.1L377.8 1438.1M332 1438.1L309.1 1477.8M332 1438.1L354.9 1477.8M377.8 1438.1L423.5 1438.1M377.8 1438.1L354.9 1477.8M377.8 1438.1L400.7 1477.8M423.5 1438.1L469.3 1438.1M423.5 1438.1L400.7 1477.8M423.5 1438.1L446.4 1477.8M469.3 1438.1L515.1 1438.1M469.3 1438.1L446.4 1477.8M469.3 1438.1L492.2 1477.8M515.1 1438.1L492.2 1477.8M171.9 1477.8L217.6 1477.8M217.6 1477.8L263.4 1477.8M217.6 1477.8L240.5 1517.6M263.4 1477.8L309.1 1477.8M263.4 1477.8L240.5 1517.6M263.4 1477.8L286.3 1517.6M309.1 1477.8L354.9 1477.8M309.1 1477.8L286.3 1517.6M309.1 1477.8L332 1517.6M354.9 1477.8L400.7 1477.8M354.9 1477.8L332 1517.6M354.9 1477.8L377.8 1517.6M400.7 1477.8L446.4 1477.8M400.7 1477.8L377.8 1517.6M400.7 1477.8L423.5 1517.6M446.4 1477.8L492.2 1477.8M446.4 1477.8L423.5 1517.6M492.2 1477.8L515.1 1517.6M240.5 1517.6L286.3 1517.6M240.5 1517.6L263.4 1557.4M286.3 1517.6L332 1517.6M286.3 1517.6L263.4 1557.4M286.3 1517.6L309.1 1557.4M332 1517.6L377.8 1517.6M332 1517.6L309.1 1557.4M332 1517.6L354.9 1557.4M377.8 1517.6L423.5 1517.6M377.8 1517.6L354.9 1557.4M377.8 1517.6L400.7 1557.4M423.5 1517.6L400.7 1557.4M423.5 1517.6L446.4 1557.4M515.1 1517.6L560.8 1517.6M515.1 1517.6L492.2 1557.4M515.1 1517.6L537.9 1557.4M560.8 1517.6L537.9 1557.4M263.4 1557.4L309.1 1557.4M263.4 1557.4L240.5 1597.1M263.4 1557.4L286.3 1597.1M309.1 1557.4L354.9 1557.4M309.1 1557.4L286.3 1597.1M309.1 1557.4L332 1597.1M354.9 1557.4L400.7 1557.4M354.9 1557.4L332 1597.1M354.9 1557.4L377.8 1597.1M400.7 1557.4L446.4 1557.4M400.7 1557.4L377.8 1597.1M400.7 1557.4L423.5 1597.1M446.4 1557.4L492.2 1557.4M446.4 1557.4L423.5 1597.1M492.2 1557.4L537.9 1557.4M492.2 1557.4L515.1 1597.1M537.9 1557.4L515.1 1597.1M537.9 1557.4L560.8 1597.1M240.5 1597.1L286.3 1597.1M240.5 1597.1L217.6 1636.9M286.3 1597.1L332 1597.1M286.3 1597.1L309.1 1636.9M332 1597.1L377.8 1597.1M332 1597.1L309.1 1636.9M377.8 1597.1L423.5 1597.1M515.1 1597.1L560.8 1597.1M515.1 1597.1L492.2 1636.9M515.1 1597.1L537.9 1636.9M560.8 1597.1L537.9 1636.9M560.8 1597.1L583.7 1636.9M309.1 1636.9L332 1676.7M492.2 1636.9L537.9 1636.9M492.2 1636.9L469.3 1676.7M537.9 1636.9L583.7 1636.9M583.7 1636.9L606.6 1676.7M332 1676.7L377.8 1676.7M332 1676.7L309.1 1716.4M332 1676.7L354.9 1716.4M377.8 1676.7L423.5 1676.7M377.8 1676.7L354.9 1716.4M423.5 1676.7L469.3 1676.7M217.6 1716.4L263.4 1716.4M263.4 1716.4L309.1 1716.4M309.1 1716.4L354.9 1716.4" stroke="#0082c8" stroke-width="4.2" fill="none"/>
<path d="M515.1 1279L492.2 1318.7M446.4 1318.7L492.2 1318.7M492.2 1318.7L515.1 1358.5M515.1 1358.5L560.8 1358.5M560.8 1358.5L606.6 1358.5M560.8 1358.5L583.7 1398.3M606.6 1358.5L583.7 1398.3" stroke="#fabebe" stroke-width="4.2" fill="none"/>
<path d="M537.9 1398.3L560.8 1438.1" stroke="#46f0f0" stroke-width="4.2" fill="none"/>
<path d="M675.2 1398.3L721 1398.3M675.2 1398.3L652.3 1438.1M675.2 1398.3L698.1 1438.1M721 1398.3L698.1 1438.1M721 1398.3L743.9 1438.1M606.6 1438.1L652.3 1438.1M606.6 1438.1L629.5 1477.8M652.3 1438.1L698.1 1438.1M652.3 1438.1L629.5 1477.8M652.3 1438.1L675.2 1477.8M698.1 1438.1L743.9 1438.1M698.1 1438.1L675.2 1477.8M698.1 1438.1L721 1477.8M743.9 1438.1L721 1477.8M629.5 1477.8L675.2 1477.8M629.5 1477.8L606.6 1517.6M629.5 1477.8L652.3 1517.6M675.2 1477.8L721 1477.8M675.2 1477.8L652.3 1517.6M675.2 1477.8L698.1 1517.6M721 1477.8L698.1 1517.6M606.6 1517.6L652.3 1517.6M652.3 1517.6L698.1 1517.6" stroke="#e6194b" stroke-width="4.2" fill="none"/>
<g fill="#911eb4"><circle cx="80.3" cy="1239.2" r="8.5"/><circle cx="126.1" cy="1239.2" r="8.5"/><circle cx="11.7" cy="1279" r="8.5"/><circle cx="57.5" cy="1279" r="8.5"/></g>
<g fill="#0082c8"><circle cx="103.2" cy="1279" r="8.5"/><circle cx="286.3" cy="1279" r="8.5"/><circle cx="126.1" cy="1318.7" r="8.5"/><circle cx="171.9" cy="1318.7" r="8.5"/><circle cx="217.6" cy="1318.7" r="8.5"/><circle cx="263.4" cy="1318.7" r="8.5"/><circle cx="354.9" cy="1318.7" r="8.5"/><circle cx="149" cy="1358.5" r="8.5"/><circle cx="194.7" cy="1358.5" r="8.5"/><circle cx="240.5" cy="1358.5" r="8.5"/><circle cx="332" cy="1358.5" r="8.5"/><circle cx="377.8" cy="1358.5" r="8.5"/><circle cx="423.5" cy="1358.5" r="8.5"/><circle cx="126.1" cy="1398.3" r="8.5"/><circle cx="217.6" cy="1398.3" r="8.5"/><circle cx="263.4" cy="1398.3" r="8.5"/><circle cx="309.1" cy="1398.3" r="8.5"/><circle cx="354.9" cy="1398.3" r="8.5"/><circle cx="400.7" cy="1398.3" r="8.5"/><circle cx="446.4" cy="1398.3" r="8.5"/><circle cx="492.2" cy="1398.3" r="8.5"/><circle cx="149" cy="1438.1" r="8.5"/><circle cx="194.7" cy="1438.1" r="8.5"/><circle cx="240.5" cy="1438.1" r="8.5"/><circle cx="286.3" cy="1438.1" r="8.5"/><circle cx="332" cy="1438.1" r="8.5"/><circle cx="377.8" cy="1438.1" r="8.5"/><circle cx="423.5" cy="1438.1" r="8.5"/><circle cx="469.3" cy="1438.1" r="8.5"/><circle cx="515.1" cy="1438.1" r="8.5"/><circle cx="171.9" cy="1477.8" r="8.5"/><circle cx="217.6" cy="1477.8" r="8.5"/><circle cx="263.4" cy="1477.8" r="8.5"/><circle cx="309.1" cy="1477.8" r="8.5"/><circle cx="354.9" cy="1477.8" r="8.5"/><circle cx="400.7" cy="1477.8" r="8.5"/><circle cx="446.4" cy="1477.8" r="8.5"/><circle cx="492.2" cy="1477.8" r="8.5"/><circle cx="240.5" cy="1517.6" r="8.5"/><circle cx="286.3" cy="1517.6" r="8.5"/><circle cx="332" cy="1517.6" r="8.5"/><circle cx="377.8" cy="1517.6" r="8.5"/><circle cx="423.5" cy="1517.6" r="8.5"/><circle cx="515.1" cy="1517.6" r="8.5"/><circle cx="560.8" cy="1517.6" r="8.5"/><circle cx="263.4" cy="1557.4" r="8.5"/><circle cx="309.1" cy="1557.4" r="8.5"/><circle cx="354.9" cy="1557.4" r="8.5"/><circle cx="400.7" cy="1557.4" r="8.5"/><circle cx="446.4" cy="1557.4" r="8.5"/><circle cx="492.2" cy="1557.4" r="8.5"/><circle cx="537.9" cy="1557.4" r="8.5"/><circle cx="240.5" cy="1597.1" r="8.5"/><circle cx="286.3" cy="1597.1" r="8.5"/><circle cx="332" cy="1597.1" r="8.5"/><circle cx="377.8" cy="1597.1" r="8.5"/><circle cx="423.5" cy="1597.1" r="8.5"/><circle cx="515.1" cy="1597.1" r="8.5"/><circle cx="560.8" cy="1597.1" r="8.5"/><circle cx="217.6" cy="1636.9" r="8.5"/><circle cx="309.1" cy="1636.9" r="8.5"/><circle cx="492.2" cy="1636.9" r="8.5"/><circle cx="537.9" cy="1636.9" r="8.5"/><circle cx="583.7" cy="1636.9" r="8.5"/><circle cx="332" cy="1676.7" r="8.5"/><circle cx="377.8" cy="1676.7" r="8.5"/><circle cx="423.5" cy="1676.7" r="8.5"/><circle cx="469.3" cy="1676.7" r="8.5"/><circle cx="606.6" cy="1676.7" r="8.5"/><circle cx="217.6" cy="1716.4" r="8.5"/><circle cx="263.4" cy="1716.4" r="8.5"/><circle cx="309.1" cy="1716.4" r="8.5"/><circle cx="354.9" cy="1716.4" r="8.5"/></g>
<g fill="#fabebe"><circle cx="377.8" cy="1279" r="8.5"/><circle cx="515.1" cy="1279" r="8.5"/><circle cx="446.4" cy="1318.7" r="8.5"/><circle cx="492.2" cy="1318.7" r="8.5"/><circle cx="515.1" cy="1358.5" r="8.5"/><circle cx="560.8" cy="1358.5" r="8.5"/><circle cx="606.6" cy="1358.5" r="8.5"/><circle cx="583.7" cy="1398.3" r="8.5"/></g>
<g fill="#f032e6"><circle cx="400.7" cy="1318.7" r="8.5"/></g>
<g fill="#46f0f0"><circle cx="537.9" cy="1398.3" r="8.5"/><circle cx="560.8" cy="1438.1" r="8.5"/></g>
<g fill="#e6194b"><circle cx="675.2" cy="1398.3" r="8.5"/><circle cx="721" cy="1398.3" r="8.5"/><circle cx="606.6" cy="1438.1" r="8.5"/><circle cx="652.3" cy="1438.1" r="8.5"/><circle cx="698.1" cy="1438.1" r="8.5"/><circle cx="743.9" cy="1438.1" r="8.5"/><circle cx="629.5" cy="1477.8" r="8.5"/><circle cx="675.2" cy="1477.8" r="8.5"/><circle cx="721" cy="1477.8" r="8.5"/><circle cx="606.6" cy="1517.6" r="8.5"/><circle cx="652.3" cy="1517.6" r="8.5"/><circle cx="698.1" cy="1517.6" r="8.5"/></g></g>
<g id="ch2"><path d="M906.1 1606.4L1110.2 1476.3L1106.8 1227.5L891.4 1344.5Z" fill="#f9f9f9" stroke="#f9f9f9" stroke-width="1"/>
<path d="M1110.2 1476.3L1440.7 1549L1454.5 1292.8L1106.8 1227.5Z" fill="#f2f2f2" stroke="#f2f2f2" stroke-width="1"/>
<path d="M906.1 1606.4L1253.9 1691.2L1440.7 1549L1110.2 1476.3Z" fill="#f5f5f5" stroke="#f5f5f5" stroke-width="1"/>
<path d="M931.8 1612.7L1134.6 1481.6L1132.4 1232.4M976.3 1623.5L1177 1491L1177 1240.7M1021.3 1634.5L1219.9 1500.4L1222 1249.2M1066.9 1645.6L1263.2 1510L1267.6 1257.7M1113 1656.8L1307.1 1519.6L1313.7 1266.4M1159.7 1668.2L1351.4 1529.4L1360.4 1275.1M1207 1679.7L1396.2 1539.2L1407.6 1284M1286.5 1666.3L941.7 1583.7L929 1324M1317.7 1642.7L975.6 1562.1L964.9 1304.6M1348 1619.6L1008.8 1541L999.9 1285.6M1377.6 1597L1041.1 1520.3L1034 1267M1406.5 1575.1L1072.7 1500.2L1067.3 1249M1434.7 1553.6L1103.5 1480.5L1099.8 1231.3M905.9 1601.4L1110.1 1471.5L1441 1544.2M903.1 1552.2L1109.5 1424.6L1443.6 1495.9M900.3 1502L1108.8 1376.9L1446.2 1446.8M897.4 1450.7L1108.2 1328.2L1448.9 1396.6M894.4 1398.4L1107.5 1278.5L1451.7 1345.4" fill="none" stroke="#bcbcbc" stroke-width="1.8" stroke-linejoin="round"/>
<path d="M906.1 1606.4L1253.9 1691.2M1253.9 1691.2L1440.7 1549M1440.7 1549L1454.5 1292.8M928.3 1614.9L933.5 1611.5M972.8 1625.8L978 1622.4M1017.9 1636.8L1023 1633.3M1063.5 1647.9L1068.6 1644.4M1109.6 1659.2L1114.7 1655.6M1156.4 1670.6L1161.3 1667M1203.7 1682.2L1208.6 1678.5M1292.3 1667.7L1283.7 1665.6M1323.4 1644L1314.8 1642M1353.7 1620.9L1345.2 1618.9M1383.2 1598.3L1374.8 1596.4M1412.1 1576.3L1403.7 1574.5M1440.2 1554.9L1431.9 1553M1446.5 1545.4L1438.2 1543.5M1449.2 1497.1L1440.8 1495.4M1451.9 1447.9L1443.4 1446.2M1454.6 1397.8L1446.1 1396M1457.5 1346.5L1448.8 1344.9" fill="none" stroke="#000" stroke-width="1.6"/>
<path d="M1102.7 1283.5L1110.7 1279L1113.5 1494.1L1105.8 1499.1ZM1143.1 1257.3L1151 1252.8L1152.3 1491.2L1144.7 1496.2Z" fill="#911eb4" stroke="#911eb4" stroke-width=".4"/>
<path d="M1093.8 1281.8L1102.7 1283.5L1105.8 1499.1L1097.3 1497.2ZM1134.1 1255.6L1143.1 1257.3L1144.7 1496.2L1136.2 1494.3Z" fill="#480f5a" stroke="#480f5a" stroke-width=".4"/>
<path d="M1161.1 1260.7L1169 1256.2L1169.4 1495L1161.8 1500Z" fill="#911eb4" stroke="#911eb4" stroke-width=".4"/>
<path d="M1152.1 1259L1161.1 1260.7L1161.8 1500L1153.2 1498.1Z" fill="#480f5a" stroke="#480f5a" stroke-width=".4"/>
<path d="M1120.2 1263.9L1128.3 1259.4L1130.6 1497.9L1122.9 1502.9Z" fill="#911eb4" stroke="#911eb4" stroke-width=".4"/>
<path d="M1111.3 1262.1L1120.2 1263.9L1122.9 1502.9L1114.3 1501Z" fill="#480f5a" stroke="#480f5a" stroke-width=".4"/>
<path d="M1138.2 1269.4L1146.2 1264.9L1147.7 1501.7L1140 1506.8Z" fill="#0082c8" stroke="#0082c8" stroke-width=".4"/>
<path d="M1129.2 1267.7L1138.2 1269.4L1140 1506.8L1131.5 1504.8Z" fill="#004164" stroke="#004164" stroke-width=".4"/>
<path d="M1133.3 1285.8L1141.4 1281.2L1143 1512.4L1135.3 1517.5Z" fill="#0082c8" stroke="#0082c8" stroke-width=".4"/>
<path d="M1124.3 1284.1L1133.3 1285.8L1135.3 1517.5L1126.7 1515.5Z" fill="#004164" stroke="#004164" stroke-width=".4"/>
<path d="M1210.8 1307.2L1218.7 1302.6L1216.9 1517.1L1209.4 1522.2ZM1151.5 1295L1159.5 1290.4L1160.3 1516.2L1152.7 1521.4Z" fill="#0082c8" stroke="#0082c8" stroke-width=".4"/>
<path d="M1201.7 1305.4L1210.8 1307.2L1209.4 1522.2L1200.7 1520.3ZM1142.4 1293.3L1151.5 1295L1152.7 1521.4L1144 1519.4Z" fill="#004164" stroke="#004164" stroke-width=".4"/>
<path d="M1169.7 1301.2L1177.7 1296.5L1177.7 1520.1L1170.1 1525.3Z" fill="#0082c8" stroke="#0082c8" stroke-width=".4"/>
<path d="M1160.6 1299.4L1169.7 1301.2L1170.1 1525.3L1161.3 1523.3Z" fill="#004164" stroke="#004164" stroke-width=".4"/>
<path d="M1128.4 1302.1L1136.5 1297.5L1138.3 1523.2L1130.6 1528.3ZM1188 1305.8L1195.9 1301.1L1195.2 1524L1187.6 1529.2Z" fill="#0082c8" stroke="#0082c8" stroke-width=".4"/>
<path d="M1119.3 1300.3L1128.4 1302.1L1130.6 1528.3L1121.9 1526.3ZM1178.8 1304L1188 1305.8L1187.6 1529.2L1178.8 1527.2Z" fill="#004164" stroke="#004164" stroke-width=".4"/>
<path d="M1146.6 1307.5L1154.7 1302.8L1155.7 1527.1L1148 1532.2Z" fill="#0082c8" stroke="#0082c8" stroke-width=".4"/>
<path d="M1101.8 1277.3L1110.7 1279L1102.7 1283.5L1093.8 1281.8Z" fill="#601477" stroke="#601477" stroke-width=".4"/>
<path d="M1247.9 1287.3L1255.7 1282.7L1252 1524.9L1244.6 1530.1Z" fill="#fabebe" stroke="#fabebe" stroke-width=".4"/>
<path d="M1137.5 1305.7L1146.6 1307.5L1148 1532.2L1139.3 1530.3Z" fill="#004164" stroke="#004164" stroke-width=".4"/>
<path d="M1105.1 1314L1113.4 1309.2L1116.1 1530.1L1108.3 1535.3Z" fill="#0082c8" stroke="#0082c8" stroke-width=".4"/>
<path d="M1238.7 1285.6L1247.9 1287.3L1244.6 1530.1L1235.8 1528.1Z" fill="#7d5f5f" stroke="#7d5f5f" stroke-width=".4"/>
<path d="M1164.9 1312.2L1173 1307.5L1173.2 1531L1165.5 1536.2Z" fill="#0082c8" stroke="#0082c8" stroke-width=".4"/>
<path d="M1096 1312.2L1105.1 1314L1108.3 1535.3L1099.6 1533.3Z" fill="#004164" stroke="#004164" stroke-width=".4"/>
<path d="M1142.1 1251.1L1151 1252.8L1143.1 1257.3L1134.1 1255.6Z" fill="#601477" stroke="#601477" stroke-width=".4"/>
<path d="M1155.8 1310.4L1164.9 1312.2L1165.5 1536.2L1156.7 1534.2Z" fill="#004164" stroke="#004164" stroke-width=".4"/>
<path d="M1225 1294.7L1232.9 1290L1230.3 1531.9L1222.8 1537.1Z" fill="#0082c8" stroke="#0082c8" stroke-width=".4"/>
<path d="M1160 1254.5L1169 1256.2L1161.1 1260.7L1152.1 1259Z" fill="#601477" stroke="#601477" stroke-width=".4"/>
<path d="M1215.7 1292.9L1225 1294.7L1222.8 1537.1L1213.9 1535.1Z" fill="#004164" stroke="#004164" stroke-width=".4"/>
<path d="M1303.6 1314.9L1311.2 1310.1L1305.3 1536.8L1298 1542Z" fill="#fabebe" stroke="#fabebe" stroke-width=".4"/>
<path d="M1141.7 1320.8L1149.8 1316L1151 1538L1143.3 1543.3Z" fill="#0082c8" stroke="#0082c8" stroke-width=".4"/>
<path d="M1294.2 1313.1L1303.6 1314.9L1298 1542L1289 1540Z" fill="#7d5f5f" stroke="#7d5f5f" stroke-width=".4"/>
<path d="M1100 1334L1108.3 1329.2L1111.2 1541.1L1103.3 1546.4Z" fill="#0082c8" stroke="#0082c8" stroke-width=".4"/>
<path d="M1243.6 1296.8L1251.5 1292L1248 1535.9L1240.5 1541.1Z" fill="#f032e6" stroke="#f032e6" stroke-width=".4"/>
<path d="M1132.5 1319L1141.7 1320.8L1143.3 1543.3L1134.5 1541.3Z" fill="#004164" stroke="#004164" stroke-width=".4"/>
<path d="M1119.3 1257.6L1128.3 1259.4L1120.2 1263.9L1111.3 1262.1Z" fill="#601477" stroke="#601477" stroke-width=".4"/>
<path d="M1090.9 1332.1L1100 1334L1103.3 1546.4L1094.5 1544.4Z" fill="#004164" stroke="#004164" stroke-width=".4"/>
<path d="M1234.3 1295L1243.6 1296.8L1240.5 1541.1L1231.6 1539.1Z" fill="#781973" stroke="#781973" stroke-width=".4"/>
<path d="M1201.9 1303.8L1209.9 1299L1208.4 1538.9L1200.7 1544.2ZM1160.1 1322.2L1168.2 1317.4L1168.6 1542L1160.9 1547.3Z" fill="#0082c8" stroke="#0082c8" stroke-width=".4"/>
<path d="M1137.3 1263.1L1146.2 1264.9L1138.2 1269.4L1129.2 1267.7Z" fill="#005684" stroke="#005684" stroke-width=".4"/>
<path d="M1192.6 1301.9L1201.9 1303.8L1200.7 1544.2L1191.9 1542.2Z" fill="#004164" stroke="#004164" stroke-width=".4"/>
<path d="M1262.4 1299.8L1270.2 1295.1L1265.8 1539.9L1258.3 1545.1Z" fill="#fabebe" stroke="#fabebe" stroke-width=".4"/>
<path d="M1150.9 1320.4L1160.1 1322.2L1160.9 1547.3L1152 1545.3Z" fill="#004164" stroke="#004164" stroke-width=".4"/>
<path d="M1118.3 1333.5L1126.6 1328.7L1128.7 1545.1L1120.8 1550.4Z" fill="#0082c8" stroke="#0082c8" stroke-width=".4"/>
<path d="M1253 1298L1262.4 1299.8L1258.3 1545.1L1249.4 1543.1Z" fill="#7d5f5f" stroke="#7d5f5f" stroke-width=".4"/>
<path d="M1109.1 1331.7L1118.3 1333.5L1120.8 1550.4L1112 1548.4Z" fill="#004164" stroke="#004164" stroke-width=".4"/>
<path d="M1220.5 1307.4L1228.5 1302.6L1226.1 1542.9L1218.5 1548.2Z" fill="#0082c8" stroke="#0082c8" stroke-width=".4"/>
<path d="M1281 1310.9L1288.8 1306.1L1283.6 1543.9L1276.2 1549.1Z" fill="#fabebe" stroke="#fabebe" stroke-width=".4"/>
<path d="M1178.6 1319.8L1186.7 1315L1186.3 1546L1178.5 1551.3Z" fill="#0082c8" stroke="#0082c8" stroke-width=".4"/>
<path d="M1211.2 1305.6L1220.5 1307.4L1218.5 1548.2L1209.6 1546.2Z" fill="#004164" stroke="#004164" stroke-width=".4"/>
<path d="M1271.6 1309L1281 1310.9L1276.2 1549.1L1267.2 1547.1Z" fill="#7d5f5f" stroke="#7d5f5f" stroke-width=".4"/>
<path d="M1136.7 1332.5L1144.9 1327.7L1146.3 1549.1L1138.5 1554.4Z" fill="#0082c8" stroke="#0082c8" stroke-width=".4"/>
<path d="M1169.3 1318L1178.6 1319.8L1178.5 1551.3L1169.7 1549.3Z" fill="#004164" stroke="#004164" stroke-width=".4"/>
<path d="M1094.8 1347.4L1103.1 1342.5L1106.2 1552.3L1098.2 1557.6ZM1239.3 1308.4L1247.2 1303.6L1243.9 1547L1236.3 1552.2Z" fill="#0082c8" stroke="#0082c8" stroke-width=".4"/>
<path d="M1127.4 1330.7L1136.7 1332.5L1138.5 1554.4L1129.6 1552.4Z" fill="#004164" stroke="#004164" stroke-width=".4"/>
<path d="M1209.5 1300.8L1218.7 1302.6L1210.8 1307.2L1201.7 1305.4Z" fill="#005684" stroke="#005684" stroke-width=".4"/>
<path d="M1085.6 1345.5L1094.8 1347.4L1098.2 1557.6L1089.4 1555.6Z" fill="#004164" stroke="#004164" stroke-width=".4"/>
<path d="M1132.4 1279.5L1141.4 1281.2L1133.3 1285.8L1124.3 1284.1Z" fill="#005684" stroke="#005684" stroke-width=".4"/>
<path d="M1229.9 1306.6L1239.3 1308.4L1236.3 1552.2L1227.4 1550.2Z" fill="#004164" stroke="#004164" stroke-width=".4"/>
<path d="M1197.2 1319.2L1205.3 1314.4L1204 1550.1L1196.3 1555.4ZM1155.2 1332.3L1163.4 1327.4L1164 1553.2L1156.2 1558.5Z" fill="#0082c8" stroke="#0082c8" stroke-width=".4"/>
<path d="M1187.9 1317.3L1197.2 1319.2L1196.3 1555.4L1187.4 1553.3Z" fill="#004164" stroke="#004164" stroke-width=".4"/>
<path d="M1150.5 1288.6L1159.5 1290.4L1151.5 1295L1142.4 1293.3Z" fill="#005684" stroke="#005684" stroke-width=".4"/>
<path d="M1145.9 1330.4L1155.2 1332.3L1156.2 1558.5L1147.3 1556.5Z" fill="#004164" stroke="#004164" stroke-width=".4"/>
<path d="M1113.1 1343.3L1121.4 1338.4L1123.8 1556.3L1115.9 1561.7ZM1216 1320.2L1224 1315.3L1221.8 1554.1L1214.2 1559.4Z" fill="#0082c8" stroke="#0082c8" stroke-width=".4"/>
<path d="M1103.9 1341.4L1113.1 1343.3L1115.9 1561.7L1107 1559.6Z" fill="#004164" stroke="#004164" stroke-width=".4"/>
<path d="M1168.6 1294.8L1177.7 1296.5L1169.7 1301.2L1160.6 1299.4Z" fill="#005684" stroke="#005684" stroke-width=".4"/>
<path d="M1276.9 1319.5L1284.8 1314.6L1279.7 1555L1272.2 1560.4Z" fill="#fabebe" stroke="#fabebe" stroke-width=".4"/>
<path d="M1173.8 1332L1181.9 1327.1L1181.8 1557.2L1174 1562.6Z" fill="#0082c8" stroke="#0082c8" stroke-width=".4"/>
<path d="M1206.6 1318.3L1216 1320.2L1214.2 1559.4L1205.2 1557.4Z" fill="#004164" stroke="#004164" stroke-width=".4"/>
<path d="M1267.5 1317.6L1276.9 1319.5L1272.2 1560.4L1263.2 1558.3Z" fill="#7d5f5f" stroke="#7d5f5f" stroke-width=".4"/>
<path d="M1164.5 1330.1L1173.8 1332L1174 1562.6L1165.1 1560.6Z" fill="#004164" stroke="#004164" stroke-width=".4"/>
<path d="M1131.6 1343.4L1139.9 1338.5L1141.5 1560.4L1133.6 1565.8Z" fill="#0082c8" stroke="#0082c8" stroke-width=".4"/>
<path d="M1186.8 1299.3L1195.9 1301.1L1188 1305.8L1178.8 1304ZM1127.4 1295.7L1136.5 1297.5L1128.4 1302.1L1119.3 1300.3Z" fill="#005684" stroke="#005684" stroke-width=".4"/>
<path d="M1234.8 1321.6L1242.8 1316.8L1239.7 1558.2L1232.1 1563.5Z" fill="#0082c8" stroke="#0082c8" stroke-width=".4"/>
<path d="M1295.8 1326.4L1303.6 1321.5L1297.8 1559.1L1290.3 1564.5Z" fill="#fabebe" stroke="#fabebe" stroke-width=".4"/>
<path d="M1122.3 1341.5L1131.6 1343.4L1133.6 1565.8L1124.7 1563.7ZM1225.4 1319.8L1234.8 1321.6L1232.1 1563.5L1223.1 1561.5Z" fill="#004164" stroke="#004164" stroke-width=".4"/>
<path d="M1192.5 1332.2L1200.6 1327.3L1199.6 1561.3L1191.8 1566.7Z" fill="#0082c8" stroke="#0082c8" stroke-width=".4"/>
<path d="M1286.3 1324.5L1295.8 1326.4L1290.3 1564.5L1281.3 1562.4Z" fill="#7d5f5f" stroke="#7d5f5f" stroke-width=".4"/>
<path d="M1145.6 1301L1154.7 1302.8L1146.6 1307.5L1137.5 1305.7Z" fill="#005684" stroke="#005684" stroke-width=".4"/>
<path d="M1150.2 1344.1L1158.5 1339.1L1159.3 1564.5L1151.4 1569.9Z" fill="#0082c8" stroke="#0082c8" stroke-width=".4"/>
<path d="M1183.1 1330.3L1192.5 1332.2L1191.8 1566.7L1182.9 1564.6Z" fill="#004164" stroke="#004164" stroke-width=".4"/>
<path d="M1314.8 1334.3L1322.5 1329.4L1315.9 1563.2L1308.5 1568.6Z" fill="#fabebe" stroke="#fabebe" stroke-width=".4"/>
<path d="M1253.8 1322.3L1261.7 1317.5L1257.7 1562.3L1250.1 1567.6Z" fill="#0082c8" stroke="#0082c8" stroke-width=".4"/>
<path d="M1140.9 1342.2L1150.2 1344.1L1151.4 1569.9L1142.5 1567.8Z" fill="#004164" stroke="#004164" stroke-width=".4"/>
<path d="M1104.3 1307.4L1113.4 1309.2L1105.1 1314L1096 1312.2Z" fill="#005684" stroke="#005684" stroke-width=".4"/>
<path d="M1305.2 1332.5L1314.8 1334.3L1308.5 1568.6L1299.4 1566.5Z" fill="#7d5f5f" stroke="#7d5f5f" stroke-width=".4"/>
<path d="M1107.8 1352.9L1116.2 1348L1118.9 1567.7L1110.9 1573.1Z" fill="#0082c8" stroke="#0082c8" stroke-width=".4"/>
<path d="M1244.3 1320.5L1253.8 1322.3L1250.1 1567.6L1241.1 1565.6Z" fill="#004164" stroke="#004164" stroke-width=".4"/>
<path d="M1211.4 1332.4L1219.5 1327.5L1217.5 1565.4L1209.8 1570.8Z" fill="#0082c8" stroke="#0082c8" stroke-width=".4"/>
<path d="M1163.8 1305.7L1173 1307.5L1164.9 1312.2L1155.8 1310.4Z" fill="#005684" stroke="#005684" stroke-width=".4"/>
<path d="M1246.5 1280.9L1255.7 1282.7L1247.9 1287.3L1238.7 1285.6Z" fill="#a57d7d" stroke="#a57d7d" stroke-width=".4"/>
<path d="M1098.5 1351L1107.8 1352.9L1110.9 1573.1L1102 1571Z" fill="#004164" stroke="#004164" stroke-width=".4"/>
<path d="M1168.9 1344.6L1177.1 1339.7L1177.2 1568.6L1169.3 1574Z" fill="#0082c8" stroke="#0082c8" stroke-width=".4"/>
<path d="M1201.9 1330.5L1211.4 1332.4L1209.8 1570.8L1200.8 1568.8Z" fill="#004164" stroke="#004164" stroke-width=".4"/>
<path d="M1272.9 1323.4L1280.8 1318.5L1275.8 1566.4L1268.2 1571.8Z" fill="#46f0f0" stroke="#46f0f0" stroke-width=".4"/>
<path d="M1159.5 1342.8L1168.9 1344.6L1169.3 1574L1160.4 1571.9Z" fill="#004164" stroke="#004164" stroke-width=".4"/>
<path d="M1126.4 1355.5L1134.8 1350.5L1136.7 1571.8L1128.7 1577.2Z" fill="#0082c8" stroke="#0082c8" stroke-width=".4"/>
<path d="M1263.3 1321.5L1272.9 1323.4L1268.2 1571.8L1259.2 1569.7Z" fill="#237878" stroke="#237878" stroke-width=".4"/>
<path d="M1230.3 1331.6L1238.4 1326.7L1235.5 1569.5L1227.8 1575Z" fill="#0082c8" stroke="#0082c8" stroke-width=".4"/>
<path d="M1117.1 1353.6L1126.4 1355.5L1128.7 1577.2L1119.8 1575.1Z" fill="#004164" stroke="#004164" stroke-width=".4"/>
<path d="M1291.9 1332.5L1299.7 1327.6L1293.9 1570.5L1286.4 1575.9Z" fill="#fabebe" stroke="#fabebe" stroke-width=".4"/>
<path d="M1187.8 1345L1195.9 1340L1195.1 1572.7L1187.3 1578.2Z" fill="#0082c8" stroke="#0082c8" stroke-width=".4"/>
<path d="M1220.9 1329.8L1230.3 1331.6L1227.8 1575L1218.8 1572.9Z" fill="#004164" stroke="#004164" stroke-width=".4"/>
<path d="M1099.2 1327.3L1108.3 1329.2L1100 1334L1090.9 1332.1ZM1140.7 1314.2L1149.8 1316L1141.7 1320.8L1132.5 1319Z" fill="#005684" stroke="#005684" stroke-width=".4"/>
<path d="M1301.9 1308.3L1311.2 1310.1L1303.6 1314.9L1294.2 1313.1Z" fill="#a57d7d" stroke="#a57d7d" stroke-width=".4"/>
<path d="M1282.3 1330.6L1291.9 1332.5L1286.4 1575.9L1277.3 1573.8Z" fill="#7d5f5f" stroke="#7d5f5f" stroke-width=".4"/>
<path d="M1223.6 1288.3L1232.9 1290L1225 1294.7L1215.7 1292.9Z" fill="#005684" stroke="#005684" stroke-width=".4"/>
<path d="M1145.2 1356.9L1153.5 1351.9L1154.6 1575.9L1146.6 1581.4Z" fill="#0082c8" stroke="#0082c8" stroke-width=".4"/>
<path d="M1178.3 1343.1L1187.8 1345L1187.3 1578.2L1178.3 1576.1Z" fill="#004164" stroke="#004164" stroke-width=".4"/>
<path d="M1249.4 1332.7L1257.4 1327.8L1253.6 1573.7L1246 1579.1Z" fill="#0082c8" stroke="#0082c8" stroke-width=".4"/>
<path d="M1135.8 1355L1145.2 1356.9L1146.6 1581.4L1137.6 1579.3Z" fill="#004164" stroke="#004164" stroke-width=".4"/>
<path d="M1102.5 1366.9L1111 1361.8L1113.9 1579.1L1105.8 1584.6Z" fill="#0082c8" stroke="#0082c8" stroke-width=".4"/>
<path d="M1239.9 1330.9L1249.4 1332.7L1246 1579.1L1236.9 1577Z" fill="#004164" stroke="#004164" stroke-width=".4"/>
<path d="M1206.7 1344.1L1214.9 1339.1L1213.1 1576.9L1205.4 1582.4Z" fill="#0082c8" stroke="#0082c8" stroke-width=".4"/>
<path d="M1329.9 1355L1337.7 1350L1330.5 1578.8L1323 1584.3Z" fill="#e6194b" stroke="#e6194b" stroke-width=".4"/>
<path d="M1093.2 1364.9L1102.5 1366.9L1105.8 1584.6L1096.8 1582.5Z" fill="#004164" stroke="#004164" stroke-width=".4"/>
<path d="M1159 1315.6L1168.2 1317.4L1160.1 1322.2L1150.9 1320.4Z" fill="#005684" stroke="#005684" stroke-width=".4"/>
<path d="M1242.2 1290.3L1251.5 1292L1243.6 1296.8L1234.3 1295Z" fill="#9e2198" stroke="#9e2198" stroke-width=".4"/>
<path d="M1117.4 1326.9L1126.6 1328.7L1118.3 1333.5L1109.1 1331.7Z" fill="#005684" stroke="#005684" stroke-width=".4"/>
<path d="M1164 1357.9L1172.3 1352.9L1172.5 1580.1L1164.6 1585.6Z" fill="#0082c8" stroke="#0082c8" stroke-width=".4"/>
<path d="M1197.2 1342.2L1206.7 1344.1L1205.4 1582.4L1196.3 1580.3Z" fill="#004164" stroke="#004164" stroke-width=".4"/>
<path d="M1320.3 1353.1L1329.9 1355L1323 1584.3L1313.9 1582.2Z" fill="#730c26" stroke="#730c26" stroke-width=".4"/>
<path d="M1348.9 1368.9L1356.6 1363.9L1348.9 1583L1341.5 1588.5Z" fill="#e6194b" stroke="#e6194b" stroke-width=".4"/>
<path d="M1268.6 1334.4L1276.6 1329.4L1271.8 1577.8L1264.2 1583.3Z" fill="#46f0f0" stroke="#46f0f0" stroke-width=".4"/>
<path d="M1200.6 1297.2L1209.9 1299L1201.9 1303.8L1192.6 1301.9Z" fill="#005684" stroke="#005684" stroke-width=".4"/>
<path d="M1154.6 1356L1164 1357.9L1164.6 1585.6L1155.6 1583.5Z" fill="#004164" stroke="#004164" stroke-width=".4"/>
<path d="M1121.3 1368.9L1129.7 1363.8L1131.8 1583.3L1123.7 1588.8Z" fill="#0082c8" stroke="#0082c8" stroke-width=".4"/>
<path d="M1339.3 1367L1348.9 1368.9L1341.5 1588.5L1332.3 1586.4Z" fill="#730c26" stroke="#730c26" stroke-width=".4"/>
<path d="M1259 1332.5L1268.6 1334.4L1264.2 1583.3L1255.1 1581.2Z" fill="#237878" stroke="#237878" stroke-width=".4"/>
<path d="M1078.5 1380.7L1087.1 1375.6L1090.9 1586.6L1082.7 1592.1Z" fill="#0082c8" stroke="#0082c8" stroke-width=".4"/>
<path d="M1111.9 1367L1121.3 1368.9L1123.7 1588.8L1114.7 1586.7Z" fill="#004164" stroke="#004164" stroke-width=".4"/>
<path d="M1225.8 1342.1L1233.9 1337.2L1231.2 1581L1223.5 1586.5Z" fill="#0082c8" stroke="#0082c8" stroke-width=".4"/>
<path d="M1260.8 1293.3L1270.2 1295.1L1262.4 1299.8L1253 1298Z" fill="#a57d7d" stroke="#a57d7d" stroke-width=".4"/>
<path d="M1094 1340.7L1103.1 1342.5L1094.8 1347.4L1085.6 1345.5Z" fill="#005684" stroke="#005684" stroke-width=".4"/>
<path d="M1182.9 1358.8L1191.2 1353.8L1190.6 1584.3L1182.7 1589.8Z" fill="#0082c8" stroke="#0082c8" stroke-width=".4"/>
<path d="M1069.2 1378.8L1078.5 1380.7L1082.7 1592.1L1073.7 1590Z" fill="#004164" stroke="#004164" stroke-width=".4"/>
<path d="M1287.8 1340.3L1295.8 1335.3L1290 1582L1282.5 1587.5Z" fill="#e6194b" stroke="#e6194b" stroke-width=".4"/>
<path d="M1135.7 1325.9L1144.9 1327.7L1136.7 1332.5L1127.4 1330.7Z" fill="#005684" stroke="#005684" stroke-width=".4"/>
<path d="M1216.3 1340.2L1225.8 1342.1L1223.5 1586.5L1214.4 1584.4Z" fill="#004164" stroke="#004164" stroke-width=".4"/>
<path d="M1177.4 1313.2L1186.7 1315L1178.6 1319.8L1169.3 1318ZM1219.2 1300.8L1228.5 1302.6L1220.5 1307.4L1211.2 1305.6Z" fill="#005684" stroke="#005684" stroke-width=".4"/>
<path d="M1279.4 1304.3L1288.8 1306.1L1281 1310.9L1271.6 1309Z" fill="#a57d7d" stroke="#a57d7d" stroke-width=".4"/>
<path d="M1140.1 1370.7L1148.5 1365.6L1149.8 1587.5L1141.7 1593.1Z" fill="#0082c8" stroke="#0082c8" stroke-width=".4"/>
<path d="M1173.4 1356.9L1182.9 1358.8L1182.7 1589.8L1173.6 1587.7Z" fill="#004164" stroke="#004164" stroke-width=".4"/>
<path d="M1278.2 1338.4L1287.8 1340.3L1282.5 1587.5L1273.3 1585.4Z" fill="#730c26" stroke="#730c26" stroke-width=".4"/>
<path d="M1130.6 1368.8L1140.1 1370.7L1141.7 1593.1L1132.7 1590.9Z" fill="#004164" stroke="#004164" stroke-width=".4"/>
<path d="M1307 1350.6L1314.9 1345.6L1308.4 1586.2L1300.8 1591.7Z" fill="#e6194b" stroke="#e6194b" stroke-width=".4"/>
<path d="M1097.2 1380.4L1105.7 1375.3L1108.8 1590.8L1100.6 1596.3ZM1054.5 1401.4L1063.2 1396.3L1067.7 1594L1059.4 1599.6Z" fill="#0082c8" stroke="#0082c8" stroke-width=".4"/>
<path d="M1297.3 1348.7L1307 1350.6L1300.8 1591.7L1291.6 1589.6Z" fill="#730c26" stroke="#730c26" stroke-width=".4"/>
<path d="M1087.8 1378.4L1097.2 1380.4L1100.6 1596.3L1091.6 1594.2ZM1045.2 1399.5L1054.5 1401.4L1059.4 1599.6L1050.4 1597.5Z" fill="#004164" stroke="#004164" stroke-width=".4"/>
<path d="M1237.8 1301.8L1247.2 1303.6L1239.3 1308.4L1229.9 1306.6Z" fill="#005684" stroke="#005684" stroke-width=".4"/>
<path d="M1159 1371.9L1167.4 1366.8L1167.8 1591.7L1159.8 1597.3Z" fill="#0082c8" stroke="#0082c8" stroke-width=".4"/>
<path d="M1154.1 1325.6L1163.4 1327.4L1155.2 1332.3L1145.9 1330.4Z" fill="#005684" stroke="#005684" stroke-width=".4"/>
<path d="M1326.2 1361.9L1334 1356.9L1326.8 1590.4L1319.3 1596Z" fill="#e6194b" stroke="#e6194b" stroke-width=".4"/>
<path d="M1196 1312.5L1205.3 1314.4L1197.2 1319.2L1187.9 1317.3ZM1112.2 1336.5L1121.4 1338.4L1113.1 1343.3L1103.9 1341.4Z" fill="#005684" stroke="#005684" stroke-width=".4"/>
<path d="M1149.5 1369.9L1159 1371.9L1159.8 1597.3L1150.8 1595.2Z" fill="#004164" stroke="#004164" stroke-width=".4"/>
<path d="M1116 1383.3L1124.5 1378.1L1126.8 1595L1118.7 1600.6Z" fill="#0082c8" stroke="#0082c8" stroke-width=".4"/>
<path d="M1316.5 1360L1326.2 1361.9L1319.3 1596L1310.1 1593.8Z" fill="#730c26" stroke="#730c26" stroke-width=".4"/>
<path d="M1345.3 1375.4L1353.1 1370.3L1345.3 1594.6L1337.9 1600.2Z" fill="#e6194b" stroke="#e6194b" stroke-width=".4"/>
<path d="M1106.6 1381.3L1116 1383.3L1118.7 1600.6L1109.6 1598.5Z" fill="#004164" stroke="#004164" stroke-width=".4"/>
<path d="M1221.2 1354.9L1229.4 1349.9L1226.9 1592.7L1219.1 1598.3Z" fill="#0082c8" stroke="#0082c8" stroke-width=".4"/>
<path d="M1335.6 1373.5L1345.3 1375.4L1337.9 1600.2L1328.6 1598.1Z" fill="#730c26" stroke="#730c26" stroke-width=".4"/>
<path d="M1178 1371.6L1186.4 1366.5L1186 1596L1178 1601.6Z" fill="#0082c8" stroke="#0082c8" stroke-width=".4"/>
<path d="M1214.6 1313.5L1224 1315.3L1216 1320.2L1206.6 1318.3ZM1172.6 1325.3L1181.9 1327.1L1173.8 1332L1164.5 1330.1Z" fill="#005684" stroke="#005684" stroke-width=".4"/>
<path d="M1211.6 1353L1221.2 1354.9L1219.1 1598.3L1210 1596.2Z" fill="#004164" stroke="#004164" stroke-width=".4"/>
<path d="M1283.6 1351L1291.6 1345.9L1286.1 1593.7L1278.5 1599.2Z" fill="#e6194b" stroke="#e6194b" stroke-width=".4"/>
<path d="M1130.6 1336.6L1139.9 1338.5L1131.6 1343.4L1122.3 1341.5Z" fill="#005684" stroke="#005684" stroke-width=".4"/>
<path d="M1134.9 1385.6L1143.4 1380.4L1144.9 1599.3L1136.8 1604.9Z" fill="#0082c8" stroke="#0082c8" stroke-width=".4"/>
<path d="M1168.5 1369.7L1178 1371.6L1178 1601.6L1168.9 1599.4Z" fill="#004164" stroke="#004164" stroke-width=".4"/>
<path d="M1275.3 1312.8L1284.8 1314.6L1276.9 1319.5L1267.5 1317.6Z" fill="#a57d7d" stroke="#a57d7d" stroke-width=".4"/>
<path d="M1274 1349.1L1283.6 1351L1278.5 1599.2L1269.2 1597.1Z" fill="#730c26" stroke="#730c26" stroke-width=".4"/>
<path d="M1125.4 1383.6L1134.9 1385.6L1136.8 1604.9L1127.7 1602.7Z" fill="#004164" stroke="#004164" stroke-width=".4"/>
<path d="M1240.5 1356.7L1248.7 1351.6L1245.2 1597L1237.5 1602.5ZM1091.7 1391.3L1100.3 1386.1L1103.6 1602.6L1095.4 1608.2Z" fill="#0082c8" stroke="#0082c8" stroke-width=".4"/>
<path d="M1303 1360.2L1310.9 1355.2L1304.5 1597.9L1297 1603.5Z" fill="#e6194b" stroke="#e6194b" stroke-width=".4"/>
<path d="M1294.1 1319.6L1303.6 1321.5L1295.8 1326.4L1286.3 1324.5Z" fill="#a57d7d" stroke="#a57d7d" stroke-width=".4"/>
<path d="M1233.4 1314.9L1242.8 1316.8L1234.8 1321.6L1225.4 1319.8Z" fill="#005684" stroke="#005684" stroke-width=".4"/>
<path d="M1230.9 1354.7L1240.5 1356.7L1237.5 1602.5L1228.3 1600.4ZM1082.3 1389.3L1091.7 1391.3L1095.4 1608.2L1086.4 1606.1Z" fill="#004164" stroke="#004164" stroke-width=".4"/>
<path d="M1293.2 1358.3L1303 1360.2L1297 1603.5L1287.7 1601.4Z" fill="#730c26" stroke="#730c26" stroke-width=".4"/>
<path d="M1154 1386.9L1162.4 1381.7L1163.1 1603.5L1155 1609.2ZM1197.2 1365.1L1205.5 1359.9L1204.2 1600.2L1196.3 1605.9Z" fill="#0082c8" stroke="#0082c8" stroke-width=".4"/>
<path d="M1191.3 1325.4L1200.6 1327.3L1192.5 1332.2L1183.1 1330.3ZM1149.1 1337.3L1158.5 1339.1L1150.2 1344.1L1140.9 1342.2Z" fill="#005684" stroke="#005684" stroke-width=".4"/>
<path d="M1322.2 1373.3L1330.1 1368.2L1323.1 1602.2L1315.5 1607.8Z" fill="#e6194b" stroke="#e6194b" stroke-width=".4"/>
<path d="M1107 1346.1L1116.2 1348L1107.8 1352.9L1098.5 1351Z" fill="#005684" stroke="#005684" stroke-width=".4"/>
<path d="M1144.4 1384.9L1154 1386.9L1155 1609.2L1145.9 1607ZM1187.6 1363.1L1197.2 1365.1L1196.3 1605.9L1187.2 1603.7Z" fill="#004164" stroke="#004164" stroke-width=".4"/>
<path d="M1313 1327.6L1322.5 1329.4L1314.8 1334.3L1305.2 1332.5Z" fill="#a57d7d" stroke="#a57d7d" stroke-width=".4"/>
<path d="M1259.9 1357.9L1268 1352.8L1263.6 1601.2L1255.9 1606.8Z" fill="#e6194b" stroke="#e6194b" stroke-width=".4"/>
<path d="M1312.5 1371.3L1322.2 1373.3L1315.5 1607.8L1306.2 1605.7ZM1250.2 1355.9L1259.9 1357.9L1255.9 1606.8L1246.7 1604.7Z" fill="#730c26" stroke="#730c26" stroke-width=".4"/>
<path d="M1216.5 1367.4L1224.8 1362.2L1222.5 1604.5L1214.7 1610.2Z" fill="#0082c8" stroke="#0082c8" stroke-width=".4"/>
<path d="M1252.3 1315.6L1261.7 1317.5L1253.8 1322.3L1244.3 1320.5ZM1210 1325.6L1219.5 1327.5L1211.4 1332.4L1201.9 1330.5ZM1167.8 1337.8L1177.1 1339.7L1168.9 1344.6L1159.5 1342.8ZM1125.5 1348.6L1134.8 1350.5L1126.4 1355.5L1117.1 1353.6Z" fill="#005684" stroke="#005684" stroke-width=".4"/>
<path d="M1206.9 1365.4L1216.5 1367.4L1214.7 1610.2L1205.5 1608Z" fill="#004164" stroke="#004164" stroke-width=".4"/>
<path d="M1279.4 1362.3L1287.5 1357.2L1282.1 1605.5L1274.4 1611.1Z" fill="#e6194b" stroke="#e6194b" stroke-width=".4"/>
<path d="M1269.7 1360.4L1279.4 1362.3L1274.4 1611.1L1265.1 1609Z" fill="#730c26" stroke="#730c26" stroke-width=".4"/>
<path d="M1023.6 1403.6L1032.5 1398.3L1038.7 1613.5L1030.2 1619.2Z" fill="#0082c8" stroke="#0082c8" stroke-width=".4"/>
<path d="M1271.3 1316.7L1280.8 1318.5L1272.9 1323.4L1263.3 1321.5Z" fill="#2e9e9e" stroke="#2e9e9e" stroke-width=".4"/>
<path d="M1298.9 1371.7L1306.9 1366.5L1300.7 1609.8L1293 1615.5Z" fill="#e6194b" stroke="#e6194b" stroke-width=".4"/>
<path d="M1014.1 1401.6L1023.6 1403.6L1030.2 1619.2L1021.2 1617.1Z" fill="#004164" stroke="#004164" stroke-width=".4"/>
<path d="M1192.4 1381.4L1200.7 1376.2L1199.7 1612.2L1191.7 1617.8Z" fill="#0082c8" stroke="#0082c8" stroke-width=".4"/>
<path d="M1186.5 1338.1L1195.9 1340L1187.8 1345L1178.3 1343.1Z" fill="#005684" stroke="#005684" stroke-width=".4"/>
<path d="M1086 1395.4L1094.7 1390.2L1098.4 1614.5L1090.1 1620.2Z" fill="#0082c8" stroke="#0082c8" stroke-width=".4"/>
<path d="M1144.1 1350L1153.5 1351.9L1145.2 1356.9L1135.8 1355ZM1228.9 1324.8L1238.4 1326.7L1230.3 1331.6L1220.9 1329.8Z" fill="#005684" stroke="#005684" stroke-width=".4"/>
<path d="M1289.1 1369.7L1298.9 1371.7L1293 1615.5L1283.7 1613.3Z" fill="#730c26" stroke="#730c26" stroke-width=".4"/>
<path d="M1101.7 1359.9L1111 1361.8L1102.5 1366.9L1093.2 1364.9Z" fill="#005684" stroke="#005684" stroke-width=".4"/>
<path d="M1042.5 1410.3L1051.4 1405L1056.7 1617.9L1048.3 1623.6Z" fill="#0082c8" stroke="#0082c8" stroke-width=".4"/>
<path d="M1290.2 1325.7L1299.7 1327.6L1291.9 1332.5L1282.3 1330.6Z" fill="#a57d7d" stroke="#a57d7d" stroke-width=".4"/>
<path d="M1182.7 1379.4L1192.4 1381.4L1191.7 1617.8L1182.5 1615.7ZM1076.5 1393.4L1086 1395.4L1090.1 1620.2L1081 1618ZM1033.1 1408.3L1042.5 1410.3L1048.3 1623.6L1039.2 1621.4Z" fill="#004164" stroke="#004164" stroke-width=".4"/>
<path d="M1211.8 1387L1220.1 1381.8L1218.1 1616.5L1210.2 1622.2Z" fill="#0082c8" stroke="#0082c8" stroke-width=".4"/>
<path d="M1328.1 1348.1L1337.7 1350L1329.9 1355L1320.3 1353.1Z" fill="#981032" stroke="#981032" stroke-width=".4"/>
<path d="M1162.9 1351L1172.3 1352.9L1164 1357.9L1154.6 1356ZM1247.9 1325.9L1257.4 1327.8L1249.4 1332.7L1239.9 1330.9Z" fill="#005684" stroke="#005684" stroke-width=".4"/>
<path d="M1105 1392.9L1113.7 1387.7L1116.6 1618.9L1108.4 1624.6Z" fill="#0082c8" stroke="#0082c8" stroke-width=".4"/>
<path d="M1347 1361.9L1356.6 1363.9L1348.9 1368.9L1339.3 1367Z" fill="#981032" stroke="#981032" stroke-width=".4"/>
<path d="M1202.1 1385L1211.8 1387L1210.2 1622.2L1200.9 1620Z" fill="#004164" stroke="#004164" stroke-width=".4"/>
<path d="M1205.4 1337.2L1214.9 1339.1L1206.7 1344.1L1197.2 1342.2ZM1120.3 1361.9L1129.7 1363.8L1121.3 1368.9L1111.9 1367ZM1077.8 1373.7L1087.1 1375.6L1078.5 1380.7L1069.2 1378.8Z" fill="#005684" stroke="#005684" stroke-width=".4"/>
<path d="M1061.4 1408.4L1070.2 1403.1L1074.9 1622.2L1066.5 1628Z" fill="#0082c8" stroke="#0082c8" stroke-width=".4"/>
<path d="M1095.4 1390.9L1105 1392.9L1108.4 1624.6L1099.2 1622.4Z" fill="#004164" stroke="#004164" stroke-width=".4"/>
<path d="M1168.1 1388.5L1176.6 1383.2L1176.6 1619.9L1168.5 1625.6Z" fill="#0082c8" stroke="#0082c8" stroke-width=".4"/>
<path d="M1051.9 1406.4L1061.4 1408.4L1066.5 1628L1057.4 1625.8Z" fill="#004164" stroke="#004164" stroke-width=".4"/>
<path d="M1053.9 1394.3L1063.2 1396.3L1054.5 1401.4L1045.2 1399.5Z" fill="#005684" stroke="#005684" stroke-width=".4"/>
<path d="M1158.4 1386.5L1168.1 1388.5L1168.5 1625.6L1159.3 1623.4Z" fill="#004164" stroke="#004164" stroke-width=".4"/>
<path d="M1267 1327.5L1276.6 1329.4L1268.6 1334.4L1259 1332.5Z" fill="#2e9e9e" stroke="#2e9e9e" stroke-width=".4"/>
<path d="M1124.2 1391.6L1132.8 1386.3L1134.9 1623.2L1126.7 1629ZM1187.5 1397.9L1195.9 1392.6L1195.1 1624.2L1187 1630Z" fill="#0082c8" stroke="#0082c8" stroke-width=".4"/>
<path d="M1181.7 1351.9L1191.2 1353.8L1182.9 1358.8L1173.4 1356.9ZM1139.1 1363.7L1148.5 1365.6L1140.1 1370.7L1130.6 1368.8Z" fill="#005684" stroke="#005684" stroke-width=".4"/>
<path d="M1080.4 1409.3L1089.2 1404L1093.1 1626.6L1084.8 1632.4Z" fill="#0082c8" stroke="#0082c8" stroke-width=".4"/>
<path d="M1096.3 1373.3L1105.7 1375.3L1097.2 1380.4L1087.8 1378.4ZM1224.4 1335.3L1233.9 1337.2L1225.8 1342.1L1216.3 1340.2Z" fill="#005684" stroke="#005684" stroke-width=".4"/>
<path d="M1114.6 1389.5L1124.2 1391.6L1126.7 1629L1117.5 1626.8ZM1177.8 1395.9L1187.5 1397.9L1187 1630L1177.8 1627.8ZM1070.9 1407.2L1080.4 1409.3L1084.8 1632.4L1075.6 1630.2Z" fill="#004164" stroke="#004164" stroke-width=".4"/>
<path d="M1286.1 1333.5L1295.8 1335.3L1287.8 1340.3L1278.2 1338.4Z" fill="#981032" stroke="#981032" stroke-width=".4"/>
<path d="M1206.9 1407.3L1215.3 1402L1213.6 1628.6L1205.6 1634.4ZM1143.5 1392.9L1152.1 1387.6L1153.3 1627.6L1145.2 1633.4Z" fill="#0082c8" stroke="#0082c8" stroke-width=".4"/>
<path d="M1197.2 1405.3L1206.9 1407.3L1205.6 1634.4L1196.3 1632.2Z" fill="#004164" stroke="#004164" stroke-width=".4"/>
<path d="M1305.2 1343.7L1314.9 1345.6L1307 1350.6L1297.3 1348.7Z" fill="#981032" stroke="#981032" stroke-width=".4"/>
<path d="M1157.9 1364.8L1167.4 1366.8L1159 1371.9L1149.5 1369.9ZM1115.1 1376.2L1124.5 1378.1L1116 1383.3L1106.6 1381.3Z" fill="#005684" stroke="#005684" stroke-width=".4"/>
<path d="M1133.8 1390.9L1143.5 1392.9L1145.2 1633.4L1135.9 1631.2Z" fill="#004164" stroke="#004164" stroke-width=".4"/>
<path d="M1324.3 1354.9L1334 1356.9L1326.2 1361.9L1316.5 1360ZM1343.4 1368.4L1353.1 1370.3L1345.3 1375.4L1335.6 1373.5Z" fill="#981032" stroke="#981032" stroke-width=".4"/>
<path d="M1133.9 1378.5L1143.4 1380.4L1134.9 1385.6L1125.4 1383.6ZM1176.9 1364.6L1186.4 1366.5L1178 1371.6L1168.5 1369.7ZM1219.8 1348L1229.4 1349.9L1221.2 1354.9L1211.6 1353Z" fill="#005684" stroke="#005684" stroke-width=".4"/>
<path d="M1202 1431.2L1210.5 1425.7L1209.1 1640.9L1201 1646.8Z" fill="#0082c8" stroke="#0082c8" stroke-width=".4"/>
<path d="M1090.9 1384.2L1100.3 1386.1L1091.7 1391.3L1082.3 1389.3Z" fill="#005684" stroke="#005684" stroke-width=".4"/>
<path d="M1192.3 1429.1L1202 1431.2L1201 1646.8L1191.6 1644.5Z" fill="#004164" stroke="#004164" stroke-width=".4"/>
<path d="M1282 1344L1291.6 1345.9L1283.6 1351L1274 1349.1Z" fill="#981032" stroke="#981032" stroke-width=".4"/>
<path d="M1152.9 1379.7L1162.4 1381.7L1154 1386.9L1144.4 1384.9ZM1239 1349.7L1248.7 1351.6L1240.5 1356.7L1230.9 1354.7Z" fill="#005684" stroke="#005684" stroke-width=".4"/>
<path d="M1301.2 1353.2L1310.9 1355.2L1303 1360.2L1293.2 1358.3ZM1320.4 1366.2L1330.1 1368.2L1322.2 1373.3L1312.5 1371.3Z" fill="#981032" stroke="#981032" stroke-width=".4"/>
<path d="M1196 1358L1205.5 1359.9L1197.2 1365.1L1187.6 1363.1Z" fill="#005684" stroke="#005684" stroke-width=".4"/>
<path d="M1258.4 1350.8L1268 1352.8L1259.9 1357.9L1250.2 1355.9Z" fill="#981032" stroke="#981032" stroke-width=".4"/>
<path d="M1023.1 1396.4L1032.5 1398.3L1023.6 1403.6L1014.1 1401.6ZM1215.2 1360.3L1224.8 1362.2L1216.5 1367.4L1206.9 1365.4ZM1041.9 1403L1051.4 1405L1042.5 1410.3L1033.1 1408.3Z" fill="#005684" stroke="#005684" stroke-width=".4"/>
<path d="M1277.7 1355.2L1287.5 1357.2L1279.4 1362.3L1269.7 1360.4Z" fill="#981032" stroke="#981032" stroke-width=".4"/>
<path d="M1085.2 1388.2L1094.7 1390.2L1086 1395.4L1076.5 1393.4ZM1191.1 1374.2L1200.7 1376.2L1192.4 1381.4L1182.7 1379.4Z" fill="#005684" stroke="#005684" stroke-width=".4"/>
<path d="M1297.1 1364.5L1306.9 1366.5L1298.9 1371.7L1289.1 1369.7Z" fill="#981032" stroke="#981032" stroke-width=".4"/>
<path d="M1210.4 1379.8L1220.1 1381.8L1211.8 1387L1202.1 1385ZM1060.7 1401.1L1070.2 1403.1L1061.4 1408.4L1051.9 1406.4ZM1104.1 1385.7L1113.7 1387.7L1105 1392.9L1095.4 1390.9ZM1166.9 1381.2L1176.6 1383.2L1168.1 1388.5L1158.4 1386.5ZM1079.7 1401.9L1089.2 1404L1080.4 1409.3L1070.9 1407.2ZM1186.2 1390.6L1195.9 1392.6L1187.5 1397.9L1177.8 1395.9ZM1123.2 1384.3L1132.8 1386.3L1124.2 1391.6L1114.6 1389.5ZM1205.6 1400L1215.3 1402L1206.9 1407.3L1197.2 1405.3ZM1142.5 1385.6L1152.1 1387.6L1143.5 1392.9L1133.8 1390.9ZM1200.7 1423.7L1210.5 1425.7L1202 1431.2L1192.3 1429.1Z" fill="#005684" stroke="#005684" stroke-width=".4"/>
<g font-family="'DejaVu Sans','Liberation Sans',sans-serif" font-size="20" text-anchor="middle" fill="#000"><text x="917.7" y="1656">2.5</text><text x="962.2" y="1667.1">5.0</text><text x="1007.3" y="1678.2">7.5</text><text x="1052.8" y="1689.5">10.0</text><text x="1099" y="1700.9">12.5</text><text x="1145.7" y="1712.5">15.0</text><text x="1192.9" y="1724.2">17.5</text><text x="1310.7" y="1706.2">2</text><text x="1341.5" y="1682.3">4</text><text x="1371.5" y="1658.9">6</text><text x="1400.8" y="1636.1">8</text><text x="1429.4" y="1613.9">10</text><text x="1457.3" y="1592.2">12</text><text x="1478.6" y="1555.2">0</text><text x="1481.6" y="1507">1</text><text x="1484.6" y="1457.9">2</text><text x="1487.6" y="1407.9">3</text><text x="1490.8" y="1356.8">4</text></g></g>
<text x="522.5" y="1796.2" font-family="'Liberation Serif','DejaVu Serif',serif" font-size="48" font-weight="bold">(c)</text>
<text transform="translate(608.8 1796.2) scale(1.526 1.074)" font-family="'Liberation Serif','DejaVu Serif',serif" font-size="50">∑</text>
<text transform="translate(672.1 1796.2) scale(1.087 1)" font-family="'Liberation Serif','DejaVu Serif',serif" font-size="48" font-style="italic">H</text>
<text transform="translate(714.1 1804.8) scale(1.4 1)" font-family="'Liberation Serif','DejaVu Serif',serif" font-size="32" font-style="italic">k</text>
<text transform="translate(753.1 1801.8) scale(1.467 1.25)" font-family="'Liberation Serif','DejaVu Serif',serif" font-size="48">=</text>
<text x="806.9" y="1796.2" font-family="'Liberation Serif','DejaVu Serif',serif" font-size="48" textLength="136.5" lengthAdjust="spacing" stroke="#000" stroke-width=".45">453.45</text>
<g id="lat3"><path d="" stroke="#111" stroke-width="1.6" fill="none"/>
<path d="M80.3 1838.5L126.1 1838.5M80.3 1838.5L57.5 1878.3M80.3 1838.5L103.2 1878.3M126.1 1838.5L103.2 1878.3M11.7 1878.3L57.5 1878.3M57.5 1878.3L103.2 1878.3M103.2 1878.3L126.1 1918M286.3 1878.3L263.4 1918M377.8 1878.3L354.9 1918M377.8 1878.3L400.7 1918M515.1 1878.3L492.2 1918M126.1 1918L171.9 1918M126.1 1918L149 1957.8M171.9 1918L217.6 1918M171.9 1918L149 1957.8M171.9 1918L194.7 1957.8M217.6 1918L263.4 1918M217.6 1918L194.7 1957.8M217.6 1918L240.5 1957.8M263.4 1918L240.5 1957.8M354.9 1918L400.7 1918M354.9 1918L332 1957.8M354.9 1918L377.8 1957.8M400.7 1918L446.4 1918M400.7 1918L377.8 1957.8M400.7 1918L423.5 1957.8M446.4 1918L492.2 1918M446.4 1918L423.5 1957.8M492.2 1918L515.1 1957.8M149 1957.8L194.7 1957.8M149 1957.8L126.1 1997.6M194.7 1957.8L240.5 1957.8M194.7 1957.8L217.6 1997.6M240.5 1957.8L217.6 1997.6M240.5 1957.8L263.4 1997.6M332 1957.8L377.8 1957.8M332 1957.8L309.1 1997.6M332 1957.8L354.9 1997.6M377.8 1957.8L423.5 1957.8M377.8 1957.8L354.9 1997.6M377.8 1957.8L400.7 1997.6M423.5 1957.8L400.7 1997.6M423.5 1957.8L446.4 1997.6M515.1 1957.8L560.8 1957.8M515.1 1957.8L492.2 1997.6M515.1 1957.8L537.9 1997.6M560.8 1957.8L606.6 1957.8M560.8 1957.8L537.9 1997.6M560.8 1957.8L583.7 1997.6M606.6 1957.8L583.7 1997.6M126.1 1997.6L149 2037.3M217.6 1997.6L263.4 1997.6M217.6 1997.6L194.7 2037.3M217.6 1997.6L240.5 2037.3M263.4 1997.6L309.1 1997.6M263.4 1997.6L240.5 2037.3M263.4 1997.6L286.3 2037.3M309.1 1997.6L354.9 1997.6M309.1 1997.6L286.3 2037.3M309.1 1997.6L332 2037.3M354.9 1997.6L400.7 1997.6M354.9 1997.6L332 2037.3M354.9 1997.6L377.8 2037.3M400.7 1997.6L446.4 1997.6M400.7 1997.6L377.8 2037.3M400.7 1997.6L423.5 2037.3M446.4 1997.6L492.2 1997.6M446.4 1997.6L423.5 2037.3M446.4 1997.6L469.3 2037.3M492.2 1997.6L537.9 1997.6M492.2 1997.6L469.3 2037.3M492.2 1997.6L515.1 2037.3M537.9 1997.6L583.7 1997.6M537.9 1997.6L515.1 2037.3M537.9 1997.6L560.8 2037.3M583.7 1997.6L560.8 2037.3M583.7 1997.6L606.6 2037.3M675.2 1997.6L721 1997.6M675.2 1997.6L652.3 2037.3M675.2 1997.6L698.1 2037.3M721 1997.6L698.1 2037.3M721 1997.6L743.9 2037.3M149 2037.3L194.7 2037.3M149 2037.3L171.9 2077.1M194.7 2037.3L240.5 2037.3M194.7 2037.3L171.9 2077.1M194.7 2037.3L217.6 2077.1M240.5 2037.3L286.3 2037.3M240.5 2037.3L217.6 2077.1M240.5 2037.3L263.4 2077.1M286.3 2037.3L332 2037.3M286.3 2037.3L263.4 2077.1M286.3 2037.3L309.1 2077.1M332 2037.3L377.8 2037.3M332 2037.3L309.1 2077.1M332 2037.3L354.9 2077.1M377.8 2037.3L423.5 2037.3M377.8 2037.3L354.9 2077.1M377.8 2037.3L400.7 2077.1M423.5 2037.3L469.3 2037.3M423.5 2037.3L400.7 2077.1M423.5 2037.3L446.4 2077.1M469.3 2037.3L515.1 2037.3M469.3 2037.3L446.4 2077.1M469.3 2037.3L492.2 2077.1M515.1 2037.3L560.8 2037.3M515.1 2037.3L492.2 2077.1M560.8 2037.3L606.6 2037.3M606.6 2037.3L652.3 2037.3M606.6 2037.3L629.5 2077.1M652.3 2037.3L698.1 2037.3M652.3 2037.3L629.5 2077.1M652.3 2037.3L675.2 2077.1M698.1 2037.3L743.9 2037.3M698.1 2037.3L675.2 2077.1M698.1 2037.3L721 2077.1M743.9 2037.3L721 2077.1M171.9 2077.1L217.6 2077.1M217.6 2077.1L263.4 2077.1M217.6 2077.1L240.5 2116.9M263.4 2077.1L309.1 2077.1M263.4 2077.1L240.5 2116.9M263.4 2077.1L286.3 2116.9M309.1 2077.1L354.9 2077.1M309.1 2077.1L286.3 2116.9M309.1 2077.1L332 2116.9M354.9 2077.1L400.7 2077.1M354.9 2077.1L332 2116.9M354.9 2077.1L377.8 2116.9M400.7 2077.1L446.4 2077.1M400.7 2077.1L377.8 2116.9M400.7 2077.1L423.5 2116.9M446.4 2077.1L492.2 2077.1M446.4 2077.1L423.5 2116.9M492.2 2077.1L515.1 2116.9M629.5 2077.1L675.2 2077.1M629.5 2077.1L606.6 2116.9M629.5 2077.1L652.3 2116.9M675.2 2077.1L721 2077.1M675.2 2077.1L652.3 2116.9M675.2 2077.1L698.1 2116.9M721 2077.1L698.1 2116.9M240.5 2116.9L286.3 2116.9M240.5 2116.9L263.4 2156.7M286.3 2116.9L332 2116.9M286.3 2116.9L263.4 2156.7M286.3 2116.9L309.1 2156.7M332 2116.9L377.8 2116.9M332 2116.9L309.1 2156.7M332 2116.9L354.9 2156.7M377.8 2116.9L423.5 2116.9M377.8 2116.9L354.9 2156.7M377.8 2116.9L400.7 2156.7M423.5 2116.9L400.7 2156.7M423.5 2116.9L446.4 2156.7M515.1 2116.9L560.8 2116.9M515.1 2116.9L492.2 2156.7M515.1 2116.9L537.9 2156.7M560.8 2116.9L606.6 2116.9M560.8 2116.9L537.9 2156.7M606.6 2116.9L652.3 2116.9M652.3 2116.9L698.1 2116.9M263.4 2156.7L309.1 2156.7M263.4 2156.7L240.5 2196.4M263.4 2156.7L286.3 2196.4M309.1 2156.7L354.9 2156.7M309.1 2156.7L286.3 2196.4M309.1 2156.7L332 2196.4M354.9 2156.7L400.7 2156.7M354.9 2156.7L332 2196.4M354.9 2156.7L377.8 2196.4M400.7 2156.7L446.4 2156.7M400.7 2156.7L377.8 2196.4M400.7 2156.7L423.5 2196.4M446.4 2156.7L492.2 2156.7M446.4 2156.7L423.5 2196.4M492.2 2156.7L537.9 2156.7M492.2 2156.7L515.1 2196.4M537.9 2156.7L515.1 2196.4M537.9 2156.7L560.8 2196.4M240.5 2196.4L286.3 2196.4M240.5 2196.4L217.6 2236.2M286.3 2196.4L332 2196.4M286.3 2196.4L309.1 2236.2M332 2196.4L377.8 2196.4M332 2196.4L309.1 2236.2M377.8 2196.4L423.5 2196.4M515.1 2196.4L560.8 2196.4M515.1 2196.4L492.2 2236.2M515.1 2196.4L537.9 2236.2M560.8 2196.4L537.9 2236.2M560.8 2196.4L583.7 2236.2M309.1 2236.2L332 2276M492.2 2236.2L537.9 2236.2M492.2 2236.2L469.3 2276M537.9 2236.2L583.7 2236.2M583.7 2236.2L606.6 2276M332 2276L377.8 2276M332 2276L309.1 2315.7M332 2276L354.9 2315.7M377.8 2276L423.5 2276M377.8 2276L354.9 2315.7M423.5 2276L469.3 2276M217.6 2315.7L263.4 2315.7M263.4 2315.7L309.1 2315.7M309.1 2315.7L354.9 2315.7" stroke="#0082c8" stroke-width="4.0" fill="none"/>
<g fill="#0082c8"><circle cx="80.3" cy="1838.5" r="8.5"/><circle cx="126.1" cy="1838.5" r="8.5"/><circle cx="11.7" cy="1878.3" r="8.5"/><circle cx="57.5" cy="1878.3" r="8.5"/><circle cx="103.2" cy="1878.3" r="8.5"/><circle cx="286.3" cy="1878.3" r="8.5"/><circle cx="377.8" cy="1878.3" r="8.5"/><circle cx="515.1" cy="1878.3" r="8.5"/><circle cx="126.1" cy="1918" r="8.5"/><circle cx="171.9" cy="1918" r="8.5"/><circle cx="217.6" cy="1918" r="8.5"/><circle cx="263.4" cy="1918" r="8.5"/><circle cx="354.9" cy="1918" r="8.5"/><circle cx="400.7" cy="1918" r="8.5"/><circle cx="446.4" cy="1918" r="8.5"/><circle cx="492.2" cy="1918" r="8.5"/><circle cx="149" cy="1957.8" r="8.5"/><circle cx="194.7" cy="1957.8" r="8.5"/><circle cx="240.5" cy="1957.8" r="8.5"/><circle cx="332" cy="1957.8" r="8.5"/><circle cx="377.8" cy="1957.8" r="8.5"/><circle cx="423.5" cy="1957.8" r="8.5"/><circle cx="515.1" cy="1957.8" r="8.5"/><circle cx="560.8" cy="1957.8" r="8.5"/><circle cx="606.6" cy="1957.8" r="8.5"/><circle cx="126.1" cy="1997.6" r="8.5"/><circle cx="217.6" cy="1997.6" r="8.5"/><circle cx="263.4" cy="1997.6" r="8.5"/><circle cx="309.1" cy="1997.6" r="8.5"/><circle cx="354.9" cy="1997.6" r="8.5"/><circle cx="400.7" cy="1997.6" r="8.5"/><circle cx="446.4" cy="1997.6" r="8.5"/><circle cx="492.2" cy="1997.6" r="8.5"/><circle cx="537.9" cy="1997.6" r="8.5"/><circle cx="583.7" cy="1997.6" r="8.5"/><circle cx="675.2" cy="1997.6" r="8.5"/><circle cx="721" cy="1997.6" r="8.5"/><circle cx="149" cy="2037.3" r="8.5"/><circle cx="194.7" cy="2037.3" r="8.5"/><circle cx="240.5" cy="2037.3" r="8.5"/><circle cx="286.3" cy="2037.3" r="8.5"/><circle cx="332" cy="2037.3" r="8.5"/><circle cx="377.8" cy="2037.3" r="8.5"/><circle cx="423.5" cy="2037.3" r="8.5"/><circle cx="469.3" cy="2037.3" r="8.5"/><circle cx="515.1" cy="2037.3" r="8.5"/><circle cx="560.8" cy="2037.3" r="8.5"/><circle cx="606.6" cy="2037.3" r="8.5"/><circle cx="652.3" cy="2037.3" r="8.5"/><circle cx="698.1" cy="2037.3" r="8.5"/><circle cx="743.9" cy="2037.3" r="8.5"/><circle cx="171.9" cy="2077.1" r="8.5"/><circle cx="217.6" cy="2077.1" r="8.5"/><circle cx="263.4" cy="2077.1" r="8.5"/><circle cx="309.1" cy="2077.1" r="8.5"/><circle cx="354.9" cy="2077.1" r="8.5"/><circle cx="400.7" cy="2077.1" r="8.5"/><circle cx="446.4" cy="2077.1" r="8.5"/><circle cx="492.2" cy="2077.1" r="8.5"/><circle cx="629.5" cy="2077.1" r="8.5"/><circle cx="675.2" cy="2077.1" r="8.5"/><circle cx="721" cy="2077.1" r="8.5"/><circle cx="240.5" cy="2116.9" r="8.5"/><circle cx="286.3" cy="2116.9" r="8.5"/><circle cx="332" cy="2116.9" r="8.5"/><circle cx="377.8" cy="2116.9" r="8.5"/><circle cx="423.5" cy="2116.9" r="8.5"/><circle cx="515.1" cy="2116.9" r="8.5"/><circle cx="560.8" cy="2116.9" r="8.5"/><circle cx="606.6" cy="2116.9" r="8.5"/><circle cx="652.3" cy="2116.9" r="8.5"/><circle cx="698.1" cy="2116.9" r="8.5"/><circle cx="263.4" cy="2156.7" r="8.5"/><circle cx="309.1" cy="2156.7" r="8.5"/><circle cx="354.9" cy="2156.7" r="8.5"/><circle cx="400.7" cy="2156.7" r="8.5"/><circle cx="446.4" cy="2156.7" r="8.5"/><circle cx="492.2" cy="2156.7" r="8.5"/><circle cx="537.9" cy="2156.7" r="8.5"/><circle cx="240.5" cy="2196.4" r="8.5"/><circle cx="286.3" cy="2196.4" r="8.5"/><circle cx="332" cy="2196.4" r="8.5"/><circle cx="377.8" cy="2196.4" r="8.5"/><circle cx="423.5" cy="2196.4" r="8.5"/><circle cx="515.1" cy="2196.4" r="8.5"/><circle cx="560.8" cy="2196.4" r="8.5"/><circle cx="217.6" cy="2236.2" r="8.5"/><circle cx="309.1" cy="2236.2" r="8.5"/><circle cx="492.2" cy="2236.2" r="8.5"/><circle cx="537.9" cy="2236.2" r="8.5"/><circle cx="583.7" cy="2236.2" r="8.5"/><circle cx="332" cy="2276" r="8.5"/><circle cx="377.8" cy="2276" r="8.5"/><circle cx="423.5" cy="2276" r="8.5"/><circle cx="469.3" cy="2276" r="8.5"/><circle cx="606.6" cy="2276" r="8.5"/><circle cx="217.6" cy="2315.7" r="8.5"/><circle cx="263.4" cy="2315.7" r="8.5"/><circle cx="309.1" cy="2315.7" r="8.5"/><circle cx="354.9" cy="2315.7" r="8.5"/></g></g>
<g id="ch3"><path d="M904.6 2205.2L1108.7 2075.1L1105.3 1826.3L889.9 1943.3Z" fill="#f9f9f9" stroke="#f9f9f9" stroke-width="1"/>
<path d="M1108.7 2075.1L1439.2 2147.8L1453 1891.6L1105.3 1826.3Z" fill="#f2f2f2" stroke="#f2f2f2" stroke-width="1"/>
<path d="M904.6 2205.2L1252.4 2290L1439.2 2147.8L1108.7 2075.1Z" fill="#f5f5f5" stroke="#f5f5f5" stroke-width="1"/>
<path d="M930.3 2211.5L1133.1 2080.4L1130.9 1831.2M974.8 2222.3L1175.5 2089.8L1175.5 1839.5M1019.8 2233.3L1218.4 2099.2L1220.5 1848M1065.4 2244.4L1261.7 2108.8L1266.1 1856.5M1111.5 2255.6L1305.6 2118.4L1312.2 1865.2M1158.2 2267L1349.9 2128.2L1358.9 1873.9M1205.5 2278.5L1394.7 2138L1406.1 1882.8M1285 2265.1L940.2 2182.5L927.5 1922.8M1316.2 2241.5L974.1 2160.9L963.4 1903.4M1346.5 2218.4L1007.3 2139.8L998.4 1884.4M1376.1 2195.8L1039.6 2119.1L1032.5 1865.8M1405 2173.9L1071.2 2099L1065.8 1847.8M1433.2 2152.4L1102 2079.3L1098.3 1830.1M904.4 2200.2L1108.6 2070.3L1439.5 2143M901.4 2148.1L1107.9 2020.6L1442.2 2091.9M898.4 2094.8L1107.2 1969.9L1445.1 2039.7M895.3 2040.3L1106.5 1918.2L1447.9 1986.4M892.2 1984.6L1105.8 1865.4L1450.9 1931.9" fill="none" stroke="#bcbcbc" stroke-width="1.8" stroke-linejoin="round"/>
<path d="M904.6 2205.2L1252.4 2290M1252.4 2290L1439.2 2147.8M1439.2 2147.8L1453 1891.6M926.8 2213.7L932 2210.3M971.3 2224.6L976.5 2221.2M1016.4 2235.6L1021.5 2232.1M1062 2246.7L1067.1 2243.2M1108.1 2258L1113.2 2254.4M1154.9 2269.4L1159.8 2265.8M1202.2 2281L1207.1 2277.3M1290.8 2266.5L1282.2 2264.4M1321.9 2242.8L1313.3 2240.8M1352.2 2219.7L1343.7 2217.7M1381.7 2197.1L1373.3 2195.2M1410.6 2175.1L1402.2 2173.3M1438.7 2153.7L1430.4 2151.8M1445 2144.2L1436.7 2142.3M1447.8 2093L1439.4 2091.3M1450.7 2040.8L1442.2 2039.1M1453.6 1987.5L1445.1 1985.8M1456.6 1933L1448 1931.4" fill="none" stroke="#000" stroke-width="1.6"/>
<path d="M1142 1916.9L1149.9 1912.3L1150.8 2090L1143.2 2095Z" fill="#0082c8" stroke="#0082c8" stroke-width=".4"/>
<path d="M1133.2 1915.2L1142 1916.9L1143.2 2095L1134.7 2093.1Z" fill="#004164" stroke="#004164" stroke-width=".4"/>
<path d="M1101.8 1923.4L1109.7 1918.7L1112 2092.9L1104.3 2097.9Z" fill="#0082c8" stroke="#0082c8" stroke-width=".4"/>
<path d="M1092.9 1921.6L1101.8 1923.4L1104.3 2097.9L1095.8 2096Z" fill="#004164" stroke="#004164" stroke-width=".4"/>
<path d="M1159.7 1918.8L1167.6 1914.2L1167.9 2093.8L1160.3 2098.8Z" fill="#0082c8" stroke="#0082c8" stroke-width=".4"/>
<path d="M1150.9 1917.1L1159.7 1918.8L1160.3 2098.8L1151.7 2096.9Z" fill="#004164" stroke="#004164" stroke-width=".4"/>
<path d="M1119.4 1922.6L1127.3 1918L1129.1 2096.7L1121.4 2101.7Z" fill="#0082c8" stroke="#0082c8" stroke-width=".4"/>
<path d="M1110.5 1920.9L1119.4 1922.6L1121.4 2101.7L1112.8 2099.8Z" fill="#004164" stroke="#004164" stroke-width=".4"/>
<path d="M1137.1 1917.1L1145 1912.4L1146.2 2100.5L1138.5 2105.6Z" fill="#0082c8" stroke="#0082c8" stroke-width=".4"/>
<path d="M1128.2 1915.3L1137.1 1917.1L1138.5 2105.6L1130 2103.6Z" fill="#004164" stroke="#004164" stroke-width=".4"/>
<path d="M1132.3 1937.2L1140.3 1932.5L1141.5 2111.2L1133.8 2116.3Z" fill="#0082c8" stroke="#0082c8" stroke-width=".4"/>
<path d="M1123.3 1935.4L1132.3 1937.2L1133.8 2116.3L1125.2 2114.3Z" fill="#004164" stroke="#004164" stroke-width=".4"/>
<path d="M1209.1 1947L1216.8 1942.3L1215.4 2115.9L1207.9 2121ZM1150.2 1932.7L1158.2 1928L1158.8 2115L1151.2 2120.2Z" fill="#0082c8" stroke="#0082c8" stroke-width=".4"/>
<path d="M1200 1945.2L1209.1 1947L1207.9 2121L1199.2 2119.1ZM1141.2 1930.9L1150.2 1932.7L1151.2 2120.2L1142.5 2118.2Z" fill="#004164" stroke="#004164" stroke-width=".4"/>
<path d="M1141 1910.6L1149.9 1912.3L1142 1916.9L1133.2 1915.2Z" fill="#005684" stroke="#005684" stroke-width=".4"/>
<path d="M1168.3 1939.1L1176.2 1934.3L1176.2 2118.9L1168.6 2124.1Z" fill="#0082c8" stroke="#0082c8" stroke-width=".4"/>
<path d="M1101 1917L1109.7 1918.7L1101.8 1923.4L1092.9 1921.6Z" fill="#005684" stroke="#005684" stroke-width=".4"/>
<path d="M1159.2 1937.2L1168.3 1939.1L1168.6 2124.1L1159.8 2122.1Z" fill="#004164" stroke="#004164" stroke-width=".4"/>
<path d="M1127.3 1943.7L1135.4 1938.9L1136.8 2122L1129.1 2127.1Z" fill="#0082c8" stroke="#0082c8" stroke-width=".4"/>
<path d="M1158.7 1912.5L1167.6 1914.2L1159.7 1918.8L1150.9 1917.1Z" fill="#005684" stroke="#005684" stroke-width=".4"/>
<path d="M1186.4 1944.9L1194.3 1940.1L1193.7 2122.8L1186.1 2128Z" fill="#0082c8" stroke="#0082c8" stroke-width=".4"/>
<path d="M1118.3 1941.9L1127.3 1943.7L1129.1 2127.1L1120.4 2125.1ZM1177.3 1943L1186.4 1944.9L1186.1 2128L1177.3 2126Z" fill="#004164" stroke="#004164" stroke-width=".4"/>
<path d="M1118.5 1916.2L1127.3 1918L1119.4 1922.6L1110.5 1920.9Z" fill="#005684" stroke="#005684" stroke-width=".4"/>
<path d="M1245.7 1936.5L1253.5 1931.7L1250.5 2123.7L1243.1 2128.9ZM1145.4 1945.4L1153.4 1940.6L1154.2 2125.9L1146.5 2131Z" fill="#0082c8" stroke="#0082c8" stroke-width=".4"/>
<path d="M1236.6 1934.7L1245.7 1936.5L1243.1 2128.9L1234.3 2126.9ZM1136.3 1943.5L1145.4 1945.4L1146.5 2131L1137.8 2129.1Z" fill="#004164" stroke="#004164" stroke-width=".4"/>
<path d="M1104.2 1953.2L1112.4 1948.4L1114.6 2128.9L1106.8 2134.1Z" fill="#0082c8" stroke="#0082c8" stroke-width=".4"/>
<path d="M1095.2 1951.4L1104.2 1953.2L1106.8 2134.1L1098.1 2132.1Z" fill="#004164" stroke="#004164" stroke-width=".4"/>
<path d="M1163.5 1949.2L1171.5 1944.4L1171.7 2129.8L1164 2135Z" fill="#0082c8" stroke="#0082c8" stroke-width=".4"/>
<path d="M1154.4 1947.4L1163.5 1949.2L1164 2135L1155.2 2133Z" fill="#004164" stroke="#004164" stroke-width=".4"/>
<path d="M1136.1 1910.7L1145 1912.4L1137.1 1917.1L1128.2 1915.3Z" fill="#005684" stroke="#005684" stroke-width=".4"/>
<path d="M1223.1 1941.3L1230.9 1936.5L1228.8 2130.7L1221.3 2135.9Z" fill="#0082c8" stroke="#0082c8" stroke-width=".4"/>
<path d="M1213.9 1939.5L1223.1 1941.3L1221.3 2135.9L1212.4 2133.9Z" fill="#004164" stroke="#004164" stroke-width=".4"/>
<path d="M1241.5 1941.9L1249.3 1937.1L1246.5 2134.7L1239 2139.9ZM1140.4 1955.8L1148.5 1950.9L1149.5 2136.8L1141.8 2142.1ZM1301.4 1941.5L1309 1936.7L1303.8 2135.6L1296.5 2140.8Z" fill="#0082c8" stroke="#0082c8" stroke-width=".4"/>
<path d="M1232.3 1940.1L1241.5 1941.9L1239 2139.9L1230.1 2137.9ZM1131.3 1953.9L1140.4 1955.8L1141.8 2142.1L1133 2140.1Z" fill="#004164" stroke="#004164" stroke-width=".4"/>
<path d="M1200.2 1948L1208.1 1943.2L1206.9 2137.7L1199.2 2143ZM1099 1962.4L1107.2 1957.6L1109.7 2139.9L1101.8 2145.2Z" fill="#0082c8" stroke="#0082c8" stroke-width=".4"/>
<path d="M1131.3 1930.7L1140.3 1932.5L1132.3 1937.2L1123.3 1935.4Z" fill="#005684" stroke="#005684" stroke-width=".4"/>
<path d="M1292.1 1939.6L1301.4 1941.5L1296.5 2140.8L1287.5 2138.8ZM1191 1946.2L1200.2 1948L1199.2 2143L1190.4 2141ZM1089.9 1960.6L1099 1962.4L1101.8 2145.2L1093 2143.2Z" fill="#004164" stroke="#004164" stroke-width=".4"/>
<path d="M1158.7 1957.6L1166.8 1952.8L1167.1 2140.8L1159.4 2146.1ZM1260.2 1938.8L1267.9 1934L1264.3 2138.7L1256.8 2143.9Z" fill="#0082c8" stroke="#0082c8" stroke-width=".4"/>
<path d="M1207.8 1940.5L1216.8 1942.3L1209.1 1947L1200 1945.2Z" fill="#005684" stroke="#005684" stroke-width=".4"/>
<path d="M1149.6 1955.8L1158.7 1957.6L1159.4 2146.1L1150.5 2144.1ZM1250.9 1937L1260.2 1938.8L1256.8 2143.9L1247.9 2141.9Z" fill="#004164" stroke="#004164" stroke-width=".4"/>
<path d="M1117.2 1964.9L1125.4 1959.9L1127.2 2143.9L1119.3 2149.2ZM1218.7 1946.8L1226.6 1942L1224.6 2141.7L1217 2147Z" fill="#0082c8" stroke="#0082c8" stroke-width=".4"/>
<path d="M1108.1 1963L1117.2 1964.9L1119.3 2149.2L1110.5 2147.2ZM1209.4 1945L1218.7 1946.8L1217 2147L1208.1 2145Z" fill="#004164" stroke="#004164" stroke-width=".4"/>
<path d="M1177.1 1957.4L1185.1 1952.5L1184.8 2144.8L1177 2150.1ZM1278.9 1941.4L1286.6 1936.6L1282.1 2142.7L1274.7 2147.9Z" fill="#0082c8" stroke="#0082c8" stroke-width=".4"/>
<path d="M1149.2 1926.2L1158.2 1928L1150.2 1932.7L1141.2 1930.9Z" fill="#005684" stroke="#005684" stroke-width=".4"/>
<path d="M1167.9 1955.5L1177.1 1957.4L1177 2150.1L1168.2 2148.1ZM1269.5 1939.6L1278.9 1941.4L1274.7 2147.9L1265.7 2145.9Z" fill="#004164" stroke="#004164" stroke-width=".4"/>
<path d="M1237.2 1950.1L1245.1 1945.2L1242.4 2145.8L1234.8 2151ZM1135.4 1963.1L1143.6 1958.2L1144.8 2147.9L1137 2153.2Z" fill="#0082c8" stroke="#0082c8" stroke-width=".4"/>
<path d="M1167.2 1932.5L1176.2 1934.3L1168.3 1939.1L1159.2 1937.2Z" fill="#005684" stroke="#005684" stroke-width=".4"/>
<path d="M1227.9 1948.2L1237.2 1950.1L1234.8 2151L1225.9 2149Z" fill="#004164" stroke="#004164" stroke-width=".4"/>
<path d="M1093.8 1976.1L1102.1 1971.2L1104.7 2151.1L1096.7 2156.4Z" fill="#0082c8" stroke="#0082c8" stroke-width=".4"/>
<path d="M1126.3 1961.2L1135.4 1963.1L1137 2153.2L1128.1 2151.2Z" fill="#004164" stroke="#004164" stroke-width=".4"/>
<path d="M1195.6 1955.2L1203.6 1950.3L1202.5 2148.9L1194.8 2154.2Z" fill="#0082c8" stroke="#0082c8" stroke-width=".4"/>
<path d="M1084.7 1974.3L1093.8 1976.1L1096.7 2156.4L1087.9 2154.4Z" fill="#004164" stroke="#004164" stroke-width=".4"/>
<path d="M1126.4 1937.1L1135.4 1938.9L1127.3 1943.7L1118.3 1941.9ZM1185.2 1938.3L1194.3 1940.1L1186.4 1944.9L1177.3 1943Z" fill="#005684" stroke="#005684" stroke-width=".4"/>
<path d="M1186.3 1953.4L1195.6 1955.2L1194.8 2154.2L1185.9 2152.1Z" fill="#004164" stroke="#004164" stroke-width=".4"/>
<path d="M1153.8 1963.9L1162 1959L1162.5 2152L1154.7 2157.3Z" fill="#0082c8" stroke="#0082c8" stroke-width=".4"/>
<path d="M1144.6 1962L1153.8 1963.9L1154.7 2157.3L1145.8 2155.3Z" fill="#004164" stroke="#004164" stroke-width=".4"/>
<path d="M1112 1974.6L1120.3 1969.6L1122.3 2155.1L1114.4 2160.5ZM1214.2 1955.6L1222.2 1950.7L1220.3 2152.9L1212.7 2158.2Z" fill="#0082c8" stroke="#0082c8" stroke-width=".4"/>
<path d="M1144.3 1938.8L1153.4 1940.6L1145.4 1945.4L1136.3 1943.5Z" fill="#005684" stroke="#005684" stroke-width=".4"/>
<path d="M1102.8 1972.7L1112 1974.6L1114.4 2160.5L1105.5 2158.4Z" fill="#004164" stroke="#004164" stroke-width=".4"/>
<path d="M1244.3 1929.9L1253.5 1931.7L1245.7 1936.5L1236.6 1934.7Z" fill="#005684" stroke="#005684" stroke-width=".4"/>
<path d="M1204.9 1953.7L1214.2 1955.6L1212.7 2158.2L1203.7 2156.2Z" fill="#004164" stroke="#004164" stroke-width=".4"/>
<path d="M1172.3 1964.4L1180.4 1959.5L1180.3 2156L1172.5 2161.4Z" fill="#0082c8" stroke="#0082c8" stroke-width=".4"/>
<path d="M1103.4 1946.6L1112.4 1948.4L1104.2 1953.2L1095.2 1951.4Z" fill="#005684" stroke="#005684" stroke-width=".4"/>
<path d="M1274.9 1946.8L1282.7 1941.9L1278.2 2153.8L1270.7 2159.2Z" fill="#0082c8" stroke="#0082c8" stroke-width=".4"/>
<path d="M1163 1962.5L1172.3 1964.4L1172.5 2161.4L1163.6 2159.4ZM1265.5 1944.9L1274.9 1946.8L1270.7 2159.2L1261.7 2157.1Z" fill="#004164" stroke="#004164" stroke-width=".4"/>
<path d="M1232.9 1958.1L1240.8 1953.1L1238.2 2157L1230.6 2162.3ZM1130.4 1972.8L1138.6 1967.9L1140 2159.2L1132.1 2164.6Z" fill="#0082c8" stroke="#0082c8" stroke-width=".4"/>
<path d="M1162.4 1942.6L1171.5 1944.4L1163.5 1949.2L1154.4 1947.4Z" fill="#005684" stroke="#005684" stroke-width=".4"/>
<path d="M1223.5 1956.2L1232.9 1958.1L1230.6 2162.3L1221.6 2160.3ZM1121.1 1970.9L1130.4 1972.8L1132.1 2164.6L1123.2 2162.5Z" fill="#004164" stroke="#004164" stroke-width=".4"/>
<path d="M1190.9 1964.7L1199 1959.8L1198.1 2160.1L1190.3 2165.5ZM1293.8 1946.2L1301.6 1941.3L1296.3 2157.9L1288.8 2163.3Z" fill="#0082c8" stroke="#0082c8" stroke-width=".4"/>
<path d="M1181.6 1962.8L1190.9 1964.7L1190.3 2165.5L1181.4 2163.4Z" fill="#004164" stroke="#004164" stroke-width=".4"/>
<path d="M1221.7 1934.7L1230.9 1936.5L1223.1 1941.3L1213.9 1939.5Z" fill="#005684" stroke="#005684" stroke-width=".4"/>
<path d="M1148.9 1973.8L1157.1 1968.8L1157.8 2163.3L1149.9 2168.7Z" fill="#0082c8" stroke="#0082c8" stroke-width=".4"/>
<path d="M1284.4 1944.3L1293.8 1946.2L1288.8 2163.3L1279.8 2161.2Z" fill="#004164" stroke="#004164" stroke-width=".4"/>
<path d="M1251.8 1955.7L1259.7 1950.7L1256.2 2161.1L1248.6 2166.4Z" fill="#0082c8" stroke="#0082c8" stroke-width=".4"/>
<path d="M1139.6 1971.9L1148.9 1973.8L1149.9 2168.7L1141 2166.6Z" fill="#004164" stroke="#004164" stroke-width=".4"/>
<path d="M1106.8 1983.9L1115.1 1978.9L1117.4 2166.5L1109.4 2171.9Z" fill="#0082c8" stroke="#0082c8" stroke-width=".4"/>
<path d="M1242.4 1953.8L1251.8 1955.7L1248.6 2166.4L1239.6 2164.4Z" fill="#004164" stroke="#004164" stroke-width=".4"/>
<path d="M1209.6 1964.5L1217.7 1959.5L1216 2164.2L1208.3 2169.6ZM1312.9 1948.1L1320.6 1943.1L1314.4 2162L1307 2167.4Z" fill="#0082c8" stroke="#0082c8" stroke-width=".4"/>
<path d="M1139.4 1949.1L1148.5 1950.9L1140.4 1955.8L1131.3 1953.9Z" fill="#005684" stroke="#005684" stroke-width=".4"/>
<path d="M1097.5 1982L1106.8 1983.9L1109.4 2171.9L1100.5 2169.8ZM1200.3 1962.6L1209.6 1964.5L1208.3 2169.6L1199.3 2167.6ZM1303.4 1946.2L1312.9 1948.1L1307 2167.4L1297.9 2165.3Z" fill="#004164" stroke="#004164" stroke-width=".4"/>
<path d="M1167.5 1974.4L1175.6 1969.4L1175.7 2167.4L1167.8 2172.8Z" fill="#0082c8" stroke="#0082c8" stroke-width=".4"/>
<path d="M1240.1 1935.3L1249.3 1937.1L1241.5 1941.9L1232.3 1940.1ZM1098.2 1955.7L1107.2 1957.6L1099 1962.4L1089.9 1960.6Z" fill="#005684" stroke="#005684" stroke-width=".4"/>
<path d="M1270.8 1951.5L1278.7 1946.5L1274.3 2165.2L1266.7 2170.6Z" fill="#0082c8" stroke="#0082c8" stroke-width=".4"/>
<path d="M1158.1 1972.5L1167.5 1974.4L1167.8 2172.8L1158.9 2170.7Z" fill="#004164" stroke="#004164" stroke-width=".4"/>
<path d="M1299.7 1934.8L1309 1936.7L1301.4 1941.5L1292.1 1939.6Z" fill="#005684" stroke="#005684" stroke-width=".4"/>
<path d="M1125.2 1983.4L1133.6 1978.4L1135.2 2170.6L1127.2 2176Z" fill="#0082c8" stroke="#0082c8" stroke-width=".4"/>
<path d="M1198.9 1941.4L1208.1 1943.2L1200.2 1948L1191 1946.2Z" fill="#005684" stroke="#005684" stroke-width=".4"/>
<path d="M1261.3 1949.6L1270.8 1951.5L1266.7 2170.6L1257.7 2168.5Z" fill="#004164" stroke="#004164" stroke-width=".4"/>
<path d="M1228.5 1963.1L1236.5 1958.1L1234 2168.3L1226.3 2173.8Z" fill="#0082c8" stroke="#0082c8" stroke-width=".4"/>
<path d="M1157.6 1950.9L1166.8 1952.8L1158.7 1957.6L1149.6 1955.8Z" fill="#005684" stroke="#005684" stroke-width=".4"/>
<path d="M1116 1981.5L1125.2 1983.4L1127.2 2176L1118.3 2173.9ZM1219.1 1961.2L1228.5 1963.1L1226.3 2173.8L1217.3 2171.7Z" fill="#004164" stroke="#004164" stroke-width=".4"/>
<path d="M1186.2 1974.5L1194.3 1969.5L1193.6 2171.5L1185.8 2177Z" fill="#0082c8" stroke="#0082c8" stroke-width=".4"/>
<path d="M1116.3 1958.1L1125.4 1959.9L1117.2 1964.9L1108.1 1963Z" fill="#005684" stroke="#005684" stroke-width=".4"/>
<path d="M1289.9 1952.9L1297.7 1947.9L1292.4 2169.3L1284.9 2174.7Z" fill="#0082c8" stroke="#0082c8" stroke-width=".4"/>
<path d="M1176.8 1972.6L1186.2 1974.5L1185.8 2177L1176.8 2174.9Z" fill="#004164" stroke="#004164" stroke-width=".4"/>
<path d="M1143.8 1984.3L1152.1 1979.2L1153.1 2174.7L1145.1 2180.2Z" fill="#0082c8" stroke="#0082c8" stroke-width=".4"/>
<path d="M1258.7 1932.2L1267.9 1934L1260.2 1938.8L1250.9 1937Z" fill="#005684" stroke="#005684" stroke-width=".4"/>
<path d="M1280.4 1951L1289.9 1952.9L1284.9 2174.7L1275.8 2172.6Z" fill="#004164" stroke="#004164" stroke-width=".4"/>
<path d="M1247.5 1964L1255.4 1959L1252.1 2172.5L1244.5 2177.9Z" fill="#0082c8" stroke="#0082c8" stroke-width=".4"/>
<path d="M1217.3 1940.1L1226.6 1942L1218.7 1946.8L1209.4 1945Z" fill="#005684" stroke="#005684" stroke-width=".4"/>
<path d="M1101.5 1996.6L1109.9 1991.5L1112.4 2177.9L1104.3 2183.4Z" fill="#0082c8" stroke="#0082c8" stroke-width=".4"/>
<path d="M1134.5 1982.4L1143.8 1984.3L1145.1 2180.2L1136.1 2178.1Z" fill="#004164" stroke="#004164" stroke-width=".4"/>
<path d="M1175.9 1950.7L1185.1 1952.5L1177.1 1957.4L1167.9 1955.5Z" fill="#005684" stroke="#005684" stroke-width=".4"/>
<path d="M1205 1976.5L1213.1 1971.5L1211.6 2175.7L1203.9 2181.2Z" fill="#0082c8" stroke="#0082c8" stroke-width=".4"/>
<path d="M1238 1962.1L1247.5 1964L1244.5 2177.9L1235.4 2175.8ZM1092.2 1994.6L1101.5 1996.6L1104.3 2183.4L1095.3 2181.3Z" fill="#004164" stroke="#004164" stroke-width=".4"/>
<path d="M1093 1969.3L1102.1 1971.2L1093.8 1976.1L1084.7 1974.3Z" fill="#005684" stroke="#005684" stroke-width=".4"/>
<path d="M1195.6 1974.6L1205 1976.5L1203.9 2181.2L1194.8 2179.1Z" fill="#004164" stroke="#004164" stroke-width=".4"/>
<path d="M1134.5 1956.3L1143.6 1958.2L1135.4 1963.1L1126.3 1961.2ZM1277.3 1934.7L1286.6 1936.6L1278.9 1941.4L1269.5 1939.6Z" fill="#005684" stroke="#005684" stroke-width=".4"/>
<path d="M1162.6 1984.7L1170.8 1979.6L1171 2178.9L1163.1 2184.4Z" fill="#0082c8" stroke="#0082c8" stroke-width=".4"/>
<path d="M1235.8 1943.3L1245.1 1945.2L1237.2 1950.1L1227.9 1948.2Z" fill="#005684" stroke="#005684" stroke-width=".4"/>
<path d="M1266.6 1960.2L1274.6 1955.2L1270.3 2176.6L1262.7 2182.1Z" fill="#0082c8" stroke="#0082c8" stroke-width=".4"/>
<path d="M1153.2 1982.7L1162.6 1984.7L1163.1 2184.4L1154.1 2182.3Z" fill="#004164" stroke="#004164" stroke-width=".4"/>
<path d="M1120.1 1994.8L1128.4 1989.7L1130.3 2182.1L1122.2 2187.6ZM1077.6 2010.5L1086.1 2005.4L1089.4 2185.4L1081.2 2190.9ZM1224 1973.7L1232.1 1968.7L1229.7 2179.8L1222 2185.3Z" fill="#0082c8" stroke="#0082c8" stroke-width=".4"/>
<path d="M1257.1 1958.3L1266.6 1960.2L1262.7 2182.1L1253.6 2180Z" fill="#004164" stroke="#004164" stroke-width=".4"/>
<path d="M1194.3 1948.5L1203.6 1950.3L1195.6 1955.2L1186.3 1953.4Z" fill="#005684" stroke="#005684" stroke-width=".4"/>
<path d="M1110.7 1992.8L1120.1 1994.8L1122.2 2187.6L1113.2 2185.5Z" fill="#004164" stroke="#004164" stroke-width=".4"/>
<path d="M1181.4 1988L1189.6 1982.9L1189.1 2183.1L1181.2 2188.6Z" fill="#0082c8" stroke="#0082c8" stroke-width=".4"/>
<path d="M1068.3 2008.5L1077.6 2010.5L1081.2 2190.9L1072.2 2188.8ZM1214.5 1971.8L1224 1973.7L1222 2185.3L1212.9 2183.2Z" fill="#004164" stroke="#004164" stroke-width=".4"/>
<path d="M1152.8 1957.1L1162 1959L1153.8 1963.9L1144.6 1962ZM1111.1 1967.7L1120.3 1969.6L1112 1974.6L1102.8 1972.7Z" fill="#005684" stroke="#005684" stroke-width=".4"/>
<path d="M1172 1986L1181.4 1988L1181.2 2188.6L1172.1 2186.5Z" fill="#004164" stroke="#004164" stroke-width=".4"/>
<path d="M1138.8 1994.9L1147.1 1989.8L1148.3 2186.3L1140.2 2191.9ZM1329 1933.8L1336.8 1928.9L1329 2177.6L1321.5 2183.1ZM1286 1952L1294 1947L1288.5 2180.8L1281 2186.3ZM1096.1 2008.8L1104.6 2003.6L1107.3 2189.6L1099.1 2195.1Z" fill="#0082c8" stroke="#0082c8" stroke-width=".4"/>
<path d="M1129.4 1993L1138.8 1994.9L1140.2 2191.9L1131.2 2189.7Z" fill="#004164" stroke="#004164" stroke-width=".4"/>
<path d="M1053.7 2027.5L1062.3 2022.3L1066.2 2192.8L1057.9 2198.4Z" fill="#0082c8" stroke="#0082c8" stroke-width=".4"/>
<path d="M1212.9 1948.8L1222.2 1950.7L1214.2 1955.6L1204.9 1953.7Z" fill="#005684" stroke="#005684" stroke-width=".4"/>
<path d="M1319.4 1931.9L1329 1933.8L1321.5 2183.1L1312.4 2181ZM1276.4 1950.1L1286 1952L1281 2186.3L1271.8 2184.2ZM1086.8 2006.8L1096.1 2008.8L1099.1 2195.1L1090.1 2193Z" fill="#004164" stroke="#004164" stroke-width=".4"/>
<path d="M1171.2 1957.6L1180.4 1959.5L1172.3 1964.4L1163 1962.5Z" fill="#005684" stroke="#005684" stroke-width=".4"/>
<path d="M1044.4 2025.5L1053.7 2027.5L1057.9 2198.4L1048.9 2196.3Z" fill="#004164" stroke="#004164" stroke-width=".4"/>
<path d="M1129.4 1966L1138.6 1967.9L1130.4 1972.8L1121.1 1970.9Z" fill="#005684" stroke="#005684" stroke-width=".4"/>
<path d="M1348.5 1937.1L1356.2 1932.1L1347.4 2181.8L1340 2187.3ZM1157.6 1994.9L1165.9 1989.7L1166.3 2190.5L1158.3 2196.1ZM1114.8 2009.2L1123.3 2004L1125.3 2193.8L1117.2 2199.4Z" fill="#0082c8" stroke="#0082c8" stroke-width=".4"/>
<path d="M1273.3 1940L1282.7 1941.9L1274.9 1946.8L1265.5 1944.9Z" fill="#005684" stroke="#005684" stroke-width=".4"/>
<path d="M1338.7 1935.1L1348.5 1937.1L1340 2187.3L1330.8 2185.2ZM1148.2 1992.9L1157.6 1994.9L1158.3 2196.1L1149.3 2194Z" fill="#004164" stroke="#004164" stroke-width=".4"/>
<path d="M1231.5 1951.3L1240.8 1953.1L1232.9 1958.1L1223.5 1956.2Z" fill="#005684" stroke="#005684" stroke-width=".4"/>
<path d="M1305.5 1947.4L1313.4 1942.4L1306.9 2185L1299.3 2190.5Z" fill="#0082c8" stroke="#0082c8" stroke-width=".4"/>
<path d="M1105.5 2007.2L1114.8 2009.2L1117.2 2199.4L1108.1 2197.3ZM1295.9 1945.5L1305.5 1947.4L1299.3 2190.5L1290.1 2188.4Z" fill="#004164" stroke="#004164" stroke-width=".4"/>
<path d="M1189.7 1957.9L1199 1959.8L1190.9 1964.7L1181.6 1962.8Z" fill="#005684" stroke="#005684" stroke-width=".4"/>
<path d="M1219.5 1977.9L1227.7 1972.8L1225.4 2191.5L1217.6 2197.1ZM1176.5 1997.2L1184.8 1992L1184.5 2194.8L1176.5 2200.4Z" fill="#0082c8" stroke="#0082c8" stroke-width=".4"/>
<path d="M1147.8 1967L1157.1 1968.8L1148.9 1973.8L1139.6 1971.9ZM1105.9 1977L1115.1 1978.9L1106.8 1983.9L1097.5 1982Z" fill="#005684" stroke="#005684" stroke-width=".4"/>
<path d="M1209.9 1976L1219.5 1977.9L1217.6 2197.1L1208.5 2195ZM1167.1 1995.2L1176.5 1997.2L1176.5 2200.4L1167.4 2198.2Z" fill="#004164" stroke="#004164" stroke-width=".4"/>
<path d="M1133.6 2007.7L1142.1 2002.5L1143.4 2198.1L1135.3 2203.7Z" fill="#0082c8" stroke="#0082c8" stroke-width=".4"/>
<path d="M1292.2 1939.4L1301.6 1941.3L1293.8 1946.2L1284.4 1944.3Z" fill="#005684" stroke="#005684" stroke-width=".4"/>
<path d="M1325.1 1945.6L1333 1940.5L1325.3 2189.2L1317.8 2194.8ZM1090.8 2023.3L1099.3 2018.1L1102.1 2201.4L1093.9 2207Z" fill="#0082c8" stroke="#0082c8" stroke-width=".4"/>
<path d="M1250.3 1948.9L1259.7 1950.7L1251.8 1955.7L1242.4 1953.8Z" fill="#005684" stroke="#005684" stroke-width=".4"/>
<path d="M1124.2 2005.7L1133.6 2007.7L1135.3 2203.7L1126.2 2201.5ZM1315.4 1943.6L1325.1 1945.6L1317.8 2194.8L1308.6 2192.6Z" fill="#004164" stroke="#004164" stroke-width=".4"/>
<path d="M1282 1957.1L1290 1952L1284.6 2192.5L1277 2198Z" fill="#0082c8" stroke="#0082c8" stroke-width=".4"/>
<path d="M1081.4 2021.3L1090.8 2023.3L1093.9 2207L1084.9 2204.9Z" fill="#004164" stroke="#004164" stroke-width=".4"/>
<path d="M1208.3 1957.6L1217.7 1959.5L1209.6 1964.5L1200.3 1962.6ZM1166.3 1967.5L1175.6 1969.4L1167.5 1974.4L1158.1 1972.5Z" fill="#005684" stroke="#005684" stroke-width=".4"/>
<path d="M1238.8 1970.9L1246.9 1965.8L1243.7 2195.8L1236 2201.3ZM1195.6 1991.1L1203.9 1985.9L1202.7 2199L1194.8 2204.7Z" fill="#0082c8" stroke="#0082c8" stroke-width=".4"/>
<path d="M1272.3 1955.1L1282 1957.1L1277 2198L1267.7 2195.9Z" fill="#004164" stroke="#004164" stroke-width=".4"/>
<path d="M1152.6 2008.2L1161 2003L1161.6 2202.3L1153.5 2208Z" fill="#0082c8" stroke="#0082c8" stroke-width=".4"/>
<path d="M1124.3 1976.5L1133.6 1978.4L1125.2 1983.4L1116 1981.5Z" fill="#005684" stroke="#005684" stroke-width=".4"/>
<path d="M1344.7 1947.7L1352.5 1942.6L1343.8 2193.4L1336.4 2199Z" fill="#0082c8" stroke="#0082c8" stroke-width=".4"/>
<path d="M1229.2 1968.9L1238.8 1970.9L1236 2201.3L1226.8 2199.2Z" fill="#004164" stroke="#004164" stroke-width=".4"/>
<path d="M1311.1 1941.3L1320.6 1943.1L1312.9 1948.1L1303.4 1946.2Z" fill="#005684" stroke="#005684" stroke-width=".4"/>
<path d="M1186.1 1989.1L1195.6 1991.1L1194.8 2204.7L1185.7 2202.5ZM1143.1 2006.2L1152.6 2008.2L1153.5 2208L1144.4 2205.8ZM1334.9 1945.8L1344.7 1947.7L1336.4 2199L1327.1 2196.9Z" fill="#004164" stroke="#004164" stroke-width=".4"/>
<path d="M1023.7 2057L1032.5 2051.6L1037.2 2212.3L1028.7 2218ZM1301.6 1955.3L1309.5 1950.2L1303 2196.7L1295.5 2202.3Z" fill="#0082c8" stroke="#0082c8" stroke-width=".4"/>
<path d="M1269.2 1944.6L1278.7 1946.5L1270.8 1951.5L1261.3 1949.6ZM1227.1 1956.2L1236.5 1958.1L1228.5 1963.1L1219.1 1961.2ZM1185 1967.5L1194.3 1969.5L1186.2 1974.5L1176.8 1972.6Z" fill="#005684" stroke="#005684" stroke-width=".4"/>
<path d="M1014.4 2055L1023.7 2057L1028.7 2218L1019.7 2215.9ZM1291.8 1953.3L1301.6 1955.3L1295.5 2202.3L1286.2 2200.2Z" fill="#004164" stroke="#004164" stroke-width=".4"/>
<path d="M1258.3 1966.8L1266.4 1961.7L1262.1 2200L1254.4 2205.6ZM1214.9 1986.9L1223.1 1981.7L1221 2203.3L1213.2 2209Z" fill="#0082c8" stroke="#0082c8" stroke-width=".4"/>
<path d="M1142.8 1977.3L1152.1 1979.2L1143.8 1984.3L1134.5 1982.4ZM1100.7 1989.5L1109.9 1991.5L1101.5 1996.6L1092.2 1994.6Z" fill="#005684" stroke="#005684" stroke-width=".4"/>
<path d="M1248.6 1964.9L1258.3 1966.8L1254.4 2205.6L1245.2 2203.5ZM1205.3 1984.9L1214.9 1986.9L1213.2 2209L1204 2206.8Z" fill="#004164" stroke="#004164" stroke-width=".4"/>
<path d="M1321.2 1956.3L1329.1 1951.2L1321.6 2201L1314 2206.6ZM1085.3 2035.7L1093.9 2030.3L1096.9 2213.3L1088.6 2219ZM1042.2 2052.8L1051 2047.4L1055.2 2216.7L1046.8 2222.4Z" fill="#0082c8" stroke="#0082c8" stroke-width=".4"/>
<path d="M1288.2 1946L1297.7 1947.9L1289.9 1952.9L1280.4 1951Z" fill="#005684" stroke="#005684" stroke-width=".4"/>
<path d="M1311.4 1954.4L1321.2 1956.3L1314 2206.6L1304.7 2204.5Z" fill="#004164" stroke="#004164" stroke-width=".4"/>
<path d="M1246 1957.1L1255.4 1959L1247.5 1964L1238 1962.1ZM1203.7 1969.6L1213.1 1971.5L1205 1976.5L1195.6 1974.6Z" fill="#005684" stroke="#005684" stroke-width=".4"/>
<path d="M1075.8 2033.6L1085.3 2035.7L1088.6 2219L1079.5 2216.8Z" fill="#004164" stroke="#004164" stroke-width=".4"/>
<path d="M1277.8 1965L1285.9 1959.9L1280.6 2204.3L1272.9 2209.9ZM1190.8 2006.4L1199.1 2001.2L1198.2 2211L1190.2 2216.6Z" fill="#0082c8" stroke="#0082c8" stroke-width=".4"/>
<path d="M1032.8 2050.7L1042.2 2052.8L1046.8 2222.4L1037.7 2220.2Z" fill="#004164" stroke="#004164" stroke-width=".4"/>
<path d="M1076.9 2003.4L1086.1 2005.4L1077.6 2010.5L1068.3 2008.5ZM1161.5 1977.6L1170.8 1979.6L1162.6 1984.7L1153.2 1982.7Z" fill="#005684" stroke="#005684" stroke-width=".4"/>
<path d="M1268.1 1963.1L1277.8 1965L1272.9 2209.9L1263.6 2207.8Z" fill="#004164" stroke="#004164" stroke-width=".4"/>
<path d="M1119.1 1987.7L1128.4 1989.7L1120.1 1994.8L1110.7 1992.8Z" fill="#005684" stroke="#005684" stroke-width=".4"/>
<path d="M1181.2 2004.4L1190.8 2006.4L1190.2 2216.6L1181 2214.5Z" fill="#004164" stroke="#004164" stroke-width=".4"/>
<path d="M1104.1 2031.3L1112.7 2026L1115.1 2217.7L1106.9 2223.4ZM1060.8 2048.5L1069.6 2043.1L1073.4 2221L1065 2226.8ZM1210.1 2010.5L1218.4 2005.2L1216.6 2215.3L1208.7 2221Z" fill="#0082c8" stroke="#0082c8" stroke-width=".4"/>
<path d="M1053 2020.3L1062.3 2022.3L1053.7 2027.5L1044.4 2025.5Z" fill="#005684" stroke="#005684" stroke-width=".4"/>
<path d="M1297.5 1966.1L1305.5 1961L1299.2 2208.6L1291.5 2214.3Z" fill="#0082c8" stroke="#0082c8" stroke-width=".4"/>
<path d="M1094.6 2029.3L1104.1 2031.3L1106.9 2223.4L1097.7 2221.2Z" fill="#004164" stroke="#004164" stroke-width=".4"/>
<path d="M1180.2 1980.9L1189.6 1982.9L1181.4 1988L1172 1986ZM1222.6 1966.8L1232.1 1968.7L1224 1973.7L1214.5 1971.8Z" fill="#005684" stroke="#005684" stroke-width=".4"/>
<path d="M1051.4 2046.5L1060.8 2048.5L1065 2226.8L1055.9 2224.6ZM1200.4 2008.5L1210.1 2010.5L1208.7 2221L1199.4 2218.8Z" fill="#004164" stroke="#004164" stroke-width=".4"/>
<path d="M1265.1 1953.2L1274.6 1955.2L1266.6 1960.2L1257.1 1958.3Z" fill="#005684" stroke="#005684" stroke-width=".4"/>
<path d="M1287.7 1964.2L1297.5 1966.1L1291.5 2214.3L1282.2 2212.1Z" fill="#004164" stroke="#004164" stroke-width=".4"/>
<path d="M1166.6 2020.4L1175.1 2015.1L1175.1 2218.7L1167 2224.4Z" fill="#0082c8" stroke="#0082c8" stroke-width=".4"/>
<path d="M1095.3 2001.6L1104.6 2003.6L1096.1 2008.8L1086.8 2006.8ZM1137.8 1987.9L1147.1 1989.8L1138.8 1994.9L1129.4 1993Z" fill="#005684" stroke="#005684" stroke-width=".4"/>
<path d="M1157 2018.4L1166.6 2020.4L1167 2224.4L1157.8 2222.2Z" fill="#004164" stroke="#004164" stroke-width=".4"/>
<path d="M1123.1 2029.2L1131.7 2023.9L1133.4 2222L1125.2 2227.8ZM1079.7 2047L1088.4 2041.6L1091.6 2225.4L1083.3 2231.2Z" fill="#0082c8" stroke="#0082c8" stroke-width=".4"/>
<path d="M1113.5 2027.2L1123.1 2029.2L1125.2 2227.8L1116 2225.6Z" fill="#004164" stroke="#004164" stroke-width=".4"/>
<path d="M1185.9 2024.5L1194.3 2019.1L1193.6 2223L1185.5 2228.8Z" fill="#0082c8" stroke="#0082c8" stroke-width=".4"/>
<path d="M1070.2 2045L1079.7 2047L1083.3 2231.2L1074.1 2229Z" fill="#004164" stroke="#004164" stroke-width=".4"/>
<path d="M1113.9 2002L1123.3 2004L1114.8 2009.2L1105.5 2007.2Z" fill="#005684" stroke="#005684" stroke-width=".4"/>
<path d="M1176.3 2022.4L1185.9 2024.5L1185.5 2228.8L1176.3 2226.6Z" fill="#004164" stroke="#004164" stroke-width=".4"/>
<path d="M1156.5 1987.8L1165.9 1989.7L1157.6 1994.9L1148.2 1992.9Z" fill="#005684" stroke="#005684" stroke-width=".4"/>
<path d="M1142.3 2029.9L1150.8 2024.5L1151.8 2226.4L1143.7 2232.2ZM1205.3 2033.1L1213.6 2027.7L1212.1 2227.4L1204.1 2233.2Z" fill="#0082c8" stroke="#0082c8" stroke-width=".4"/>
<path d="M1284.4 1945.1L1294 1947L1286 1952L1276.4 1950.1Z" fill="#005684" stroke="#005684" stroke-width=".4"/>
<path d="M1132.7 2027.9L1142.3 2029.9L1143.7 2232.2L1134.4 2230ZM1195.6 2031.1L1205.3 2033.1L1204.1 2233.2L1194.8 2231Z" fill="#004164" stroke="#004164" stroke-width=".4"/>
<path d="M1327.2 1927L1336.8 1928.9L1329 1933.8L1319.4 1931.9ZM1090 2016.1L1099.3 2018.1L1090.8 2023.3L1081.4 2021.3ZM1175.4 1990.1L1184.8 1992L1176.5 1997.2L1167.1 1995.2ZM1132.6 2000.5L1142.1 2002.5L1133.6 2007.7L1124.2 2005.7ZM1218.1 1970.9L1227.7 1972.8L1219.5 1977.9L1209.9 1976ZM1023.2 2049.6L1032.5 2051.6L1023.7 2057L1014.4 2055ZM1346.5 1930.2L1356.2 1932.1L1348.5 1937.1L1338.7 1935.1ZM1303.8 1940.5L1313.4 1942.4L1305.5 1947.4L1295.9 1945.5Z" fill="#005684" stroke="#005684" stroke-width=".4"/>
<path d="M1200.4 2057.7L1208.8 2052.2L1207.6 2239.7L1199.5 2245.6Z" fill="#0082c8" stroke="#0082c8" stroke-width=".4"/>
<path d="M1151.5 2001L1161 2003L1152.6 2008.2L1143.1 2006.2ZM1194.4 1984L1203.9 1985.9L1195.6 1991.1L1186.1 1989.1Z" fill="#005684" stroke="#005684" stroke-width=".4"/>
<path d="M1190.7 2055.6L1200.4 2057.7L1199.5 2245.6L1190.1 2243.3Z" fill="#004164" stroke="#004164" stroke-width=".4"/>
<path d="M1041.6 2045.4L1051 2047.4L1042.2 2052.8L1032.8 2050.7ZM1323.3 1938.6L1333 1940.5L1325.1 1945.6L1315.4 1943.6ZM1237.3 1963.8L1246.9 1965.8L1238.8 1970.9L1229.2 1968.9ZM1280.3 1950.1L1290 1952L1282 1957.1L1272.3 1955.1ZM1084.5 2028.3L1093.9 2030.3L1085.3 2035.7L1075.8 2033.6ZM1213.5 1979.8L1223.1 1981.7L1214.9 1986.9L1205.3 1984.9ZM1342.8 1940.7L1352.5 1942.6L1344.7 1947.7L1334.9 1945.8ZM1060.2 2041.1L1069.6 2043.1L1060.8 2048.5L1051.4 2046.5ZM1299.8 1948.2L1309.5 1950.2L1301.6 1955.3L1291.8 1953.3ZM1256.7 1959.8L1266.4 1961.7L1258.3 1966.8L1248.6 1964.9ZM1189.5 1999.2L1199.1 2001.2L1190.8 2006.4L1181.2 2004.4ZM1103.2 2024L1112.7 2026L1104.1 2031.3L1094.6 2029.3ZM1319.3 1949.3L1329.1 1951.2L1321.2 1956.3L1311.4 1954.4ZM1208.7 2003.2L1218.4 2005.2L1210.1 2010.5L1200.4 2008.5ZM1078.9 2039.6L1088.4 2041.6L1079.7 2047L1070.2 2045ZM1165.5 2013.1L1175.1 2015.1L1166.6 2020.4L1157 2018.4ZM1276.2 1958L1285.9 1959.9L1277.8 1965L1268.1 1963.1ZM1122.1 2021.8L1131.7 2023.9L1123.1 2029.2L1113.5 2027.2ZM1184.7 2017.1L1194.3 2019.1L1185.9 2024.5L1176.3 2022.4ZM1295.7 1959L1305.5 1961L1297.5 1966.1L1287.7 1964.2ZM1141.2 2022.5L1150.8 2024.5L1142.3 2029.9L1132.7 2027.9ZM1203.9 2025.7L1213.6 2027.7L1205.3 2033.1L1195.6 2031.1ZM1199.1 2050.1L1208.8 2052.2L1200.4 2057.7L1190.7 2055.6Z" fill="#005684" stroke="#005684" stroke-width=".4"/>
<g font-family="'DejaVu Sans','Liberation Sans',sans-serif" font-size="20" text-anchor="middle" fill="#000"><text x="916.2" y="2254.8">2.5</text><text x="960.7" y="2265.9">5.0</text><text x="1005.8" y="2277">7.5</text><text x="1051.3" y="2288.3">10.0</text><text x="1097.5" y="2299.7">12.5</text><text x="1144.2" y="2311.3">15.0</text><text x="1191.4" y="2323">17.5</text><text x="1309.2" y="2305">2</text><text x="1340" y="2281.1">4</text><text x="1370" y="2257.7">6</text><text x="1399.3" y="2234.9">8</text><text x="1427.9" y="2212.7">10</text><text x="1455.8" y="2191">12</text><text x="1477.1" y="2154">0</text><text x="1480.3" y="2103">1</text><text x="1483.4" y="2050.9">2</text><text x="1486.7" y="1997.6">3</text><text x="1490" y="1943.3">4</text></g></g>
<text x="520.8" y="2423.8" font-family="'Liberation Serif','DejaVu Serif',serif" font-size="48" font-weight="bold">(d)</text>
<text transform="translate(611.8 2423.8) scale(1.526 1.074)" font-family="'Liberation Serif','DejaVu Serif',serif" font-size="50">∑</text>
<text transform="translate(675.1 2423.8) scale(1.087 1)" font-family="'Liberation Serif','DejaVu Serif',serif" font-size="48" font-style="italic">H</text>
<text transform="translate(717.1 2432.4) scale(1.4 1)" font-family="'Liberation Serif','DejaVu Serif',serif" font-size="32" font-style="italic">k</text>
<text transform="translate(756.1 2429.4) scale(1.467 1.25)" font-family="'Liberation Serif','DejaVu Serif',serif" font-size="48">=</text>
<text x="809.9" y="2423.8" font-family="'Liberation Serif','DejaVu Serif',serif" font-size="48" textLength="136.5" lengthAdjust="spacing" stroke="#000" stroke-width=".45">381.07</text>
    </svg>
    </body></html>
